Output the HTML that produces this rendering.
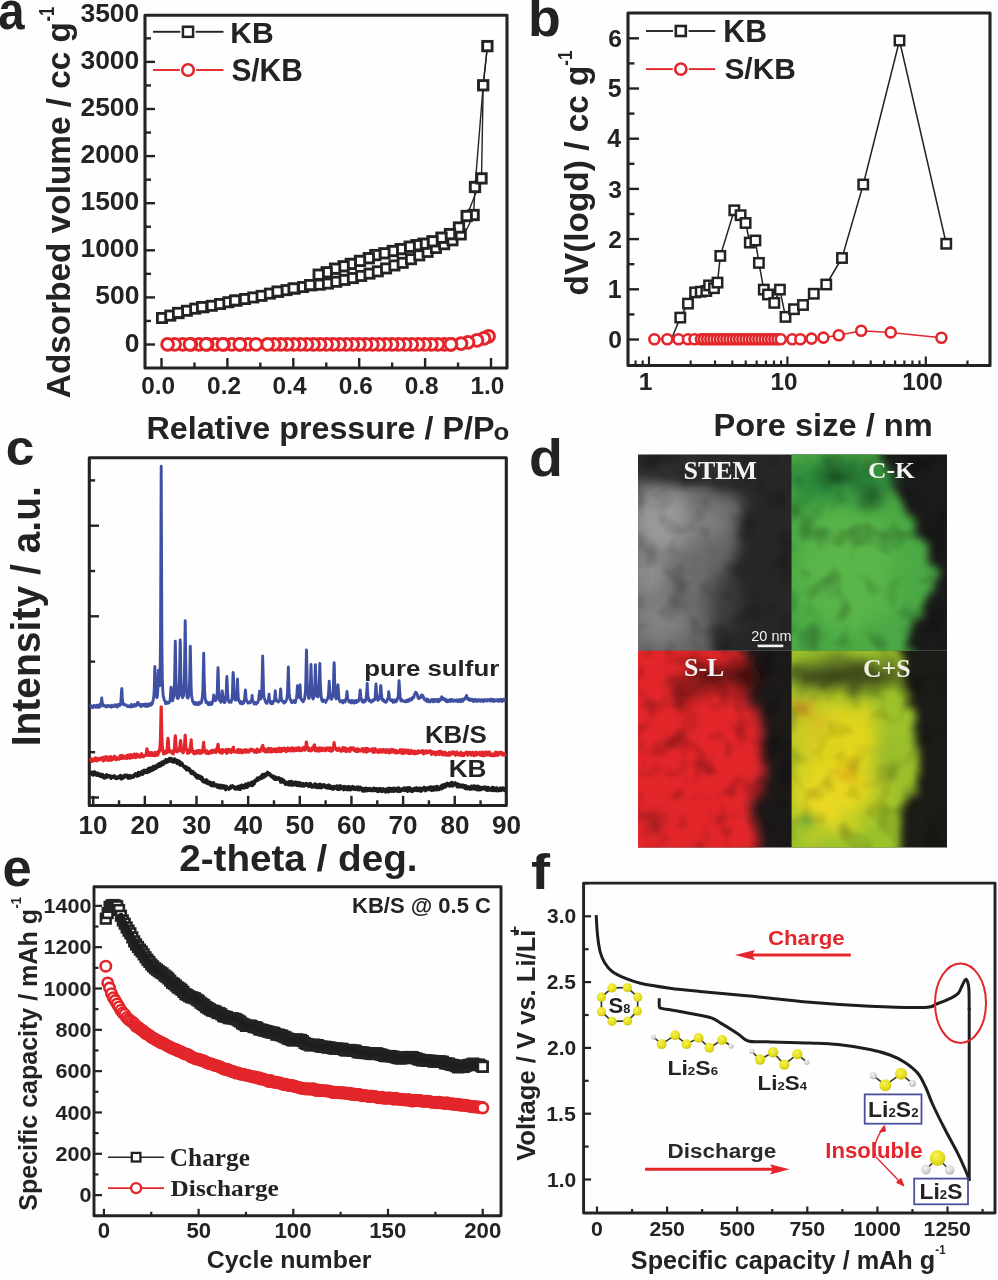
<!DOCTYPE html>
<html><head><meta charset="utf-8"><style>
html,body{margin:0;padding:0;background:#fff;}
svg{display:block;filter:blur(0.45px);}
</style></head><body>
<svg width="998" height="1280" viewBox="0 0 998 1280">
<rect width="998" height="1280" fill="#fefefe"/>
<line x1="145.00" y1="344.50" x2="155.00" y2="344.50" stroke="#232323" stroke-width="2.4" />
<line x1="145.00" y1="320.95" x2="151.00" y2="320.95" stroke="#232323" stroke-width="2.4" />
<line x1="145.00" y1="297.40" x2="155.00" y2="297.40" stroke="#232323" stroke-width="2.4" />
<line x1="145.00" y1="273.85" x2="151.00" y2="273.85" stroke="#232323" stroke-width="2.4" />
<line x1="145.00" y1="250.30" x2="155.00" y2="250.30" stroke="#232323" stroke-width="2.4" />
<line x1="145.00" y1="226.75" x2="151.00" y2="226.75" stroke="#232323" stroke-width="2.4" />
<line x1="145.00" y1="203.20" x2="155.00" y2="203.20" stroke="#232323" stroke-width="2.4" />
<line x1="145.00" y1="179.65" x2="151.00" y2="179.65" stroke="#232323" stroke-width="2.4" />
<line x1="145.00" y1="156.10" x2="155.00" y2="156.10" stroke="#232323" stroke-width="2.4" />
<line x1="145.00" y1="132.55" x2="151.00" y2="132.55" stroke="#232323" stroke-width="2.4" />
<line x1="145.00" y1="109.00" x2="155.00" y2="109.00" stroke="#232323" stroke-width="2.4" />
<line x1="145.00" y1="85.45" x2="151.00" y2="85.45" stroke="#232323" stroke-width="2.4" />
<line x1="145.00" y1="61.90" x2="155.00" y2="61.90" stroke="#232323" stroke-width="2.4" />
<line x1="145.00" y1="38.35" x2="151.00" y2="38.35" stroke="#232323" stroke-width="2.4" />
<line x1="161.50" y1="368.00" x2="161.50" y2="358.00" stroke="#232323" stroke-width="2.4" />
<line x1="194.45" y1="368.00" x2="194.45" y2="362.50" stroke="#232323" stroke-width="2.4" />
<line x1="227.40" y1="368.00" x2="227.40" y2="358.00" stroke="#232323" stroke-width="2.4" />
<line x1="260.35" y1="368.00" x2="260.35" y2="362.50" stroke="#232323" stroke-width="2.4" />
<line x1="293.30" y1="368.00" x2="293.30" y2="358.00" stroke="#232323" stroke-width="2.4" />
<line x1="326.25" y1="368.00" x2="326.25" y2="362.50" stroke="#232323" stroke-width="2.4" />
<line x1="359.20" y1="368.00" x2="359.20" y2="358.00" stroke="#232323" stroke-width="2.4" />
<line x1="392.15" y1="368.00" x2="392.15" y2="362.50" stroke="#232323" stroke-width="2.4" />
<line x1="425.10" y1="368.00" x2="425.10" y2="358.00" stroke="#232323" stroke-width="2.4" />
<line x1="458.05" y1="368.00" x2="458.05" y2="362.50" stroke="#232323" stroke-width="2.4" />
<line x1="491.00" y1="368.00" x2="491.00" y2="358.00" stroke="#232323" stroke-width="2.4" />
<rect x="145" y="15.3" width="362" height="352.7" fill="none" stroke="#232323" stroke-width="3.1" stroke-linejoin="round"/>
<text transform="translate(124.66,351.50) scale(1.0300,1)" font-size="25.71" font-family='"Liberation Sans", sans-serif' font-weight="bold" fill="#232323">0</text>
<text transform="translate(95.26,304.40) scale(1.0300,1)" font-size="25.71" font-family='"Liberation Sans", sans-serif' font-weight="bold" fill="#232323">500</text>
<text transform="translate(80.43,257.30) scale(1.0300,1)" font-size="25.71" font-family='"Liberation Sans", sans-serif' font-weight="bold" fill="#232323">1000</text>
<text transform="translate(80.43,210.20) scale(1.0300,1)" font-size="25.71" font-family='"Liberation Sans", sans-serif' font-weight="bold" fill="#232323">1500</text>
<text transform="translate(80.43,163.10) scale(1.0300,1)" font-size="25.71" font-family='"Liberation Sans", sans-serif' font-weight="bold" fill="#232323">2000</text>
<text transform="translate(80.43,116.00) scale(1.0300,1)" font-size="25.71" font-family='"Liberation Sans", sans-serif' font-weight="bold" fill="#232323">2500</text>
<text transform="translate(80.43,68.90) scale(1.0300,1)" font-size="25.71" font-family='"Liberation Sans", sans-serif' font-weight="bold" fill="#232323">3000</text>
<text transform="translate(80.43,21.80) scale(1.0300,1)" font-size="25.71" font-family='"Liberation Sans", sans-serif' font-weight="bold" fill="#232323">3500</text>
<text transform="translate(141.22,393.80) scale(1.0300,1)" font-size="23.71" font-family='"Liberation Sans", sans-serif' font-weight="bold" fill="#232323">0.0</text>
<text transform="translate(207.12,393.80) scale(1.0300,1)" font-size="23.71" font-family='"Liberation Sans", sans-serif' font-weight="bold" fill="#232323">0.2</text>
<text transform="translate(272.60,393.80) scale(1.0300,1)" font-size="23.71" font-family='"Liberation Sans", sans-serif' font-weight="bold" fill="#232323">0.4</text>
<text transform="translate(338.86,393.80) scale(1.0300,1)" font-size="23.71" font-family='"Liberation Sans", sans-serif' font-weight="bold" fill="#232323">0.6</text>
<text transform="translate(404.70,393.80) scale(1.0300,1)" font-size="23.71" font-family='"Liberation Sans", sans-serif' font-weight="bold" fill="#232323">0.8</text>
<text transform="translate(470.42,393.80) scale(1.0300,1)" font-size="23.71" font-family='"Liberation Sans", sans-serif' font-weight="bold" fill="#232323">1.0</text>
<text transform="translate(146.40,439.30) scale(1.0267,1)" font-size="31.45" font-family='"Liberation Sans", sans-serif' font-weight="bold" fill="#232323">Relative pressure / P/P</text>
<text transform="translate(493.47,439.50) scale(1.0737,1)" font-size="24.07" font-family='"Liberation Sans", sans-serif' font-weight="bold" fill="#232323">o</text>
<text transform="translate(69.70,398.13) rotate(-90) scale(0.9907,1)" font-size="33.66" font-family='"Liberation Sans", sans-serif' font-weight="bold" fill="#232323">Adsorbed volume / cc g</text>
<text transform="translate(53.80,21.46) rotate(-90) scale(0.7533,1)" font-size="21.88" font-family='"Liberation Sans", sans-serif' font-weight="bold" fill="#232323">-1</text>
<text transform="translate(-1.72,29.20) scale(0.9186,1)" font-size="51.48" font-family='"Liberation Sans", sans-serif' font-weight="bold" fill="#232323">a</text>
<line x1="153.00" y1="31.80" x2="180.30" y2="31.80" stroke="#232323" stroke-width="1.9" />
<line x1="195.70" y1="31.80" x2="223.50" y2="31.80" stroke="#232323" stroke-width="1.9" />
<rect x="183.00" y="26.80" width="10.0" height="10.0" fill="none" stroke="#232323" stroke-width="2.6"/>
<rect x="184.5" y="28.3" width="7" height="7" fill="white"/>
<text transform="translate(230.34,43.00) scale(1.0248,1)" font-size="29.42" font-family='"Liberation Sans", sans-serif' font-weight="bold" fill="#232323">KB</text>
<line x1="153.00" y1="70.00" x2="179.80" y2="70.00" stroke="#e3262b" stroke-width="1.9" />
<line x1="196.20" y1="70.00" x2="223.50" y2="70.00" stroke="#e3262b" stroke-width="1.9" />
<circle cx="188" cy="70" r="5.8" fill="white" stroke="#e3262b" stroke-width="2.6"/>
<text transform="translate(231.40,80.70) scale(0.9334,1)" font-size="32.00" font-family='"Liberation Sans", sans-serif' font-weight="bold" fill="#232323">S/KB</text>
<polyline points="162.00,318.00 169.00,316.00 186.00,311.00 195.00,308.70 209.50,306.30 228.00,302.30 243.00,299.40 261.00,296.00 270.00,293.60 285.60,290.30 300.60,287.60 310.00,285.50 324.30,284.30 333.30,282.50 340.80,280.70 350.40,278.70 359.20,276.50 366.40,274.50 373.00,272.70 382.00,270.20 390.40,266.60 398.90,264.20 407.30,261.20 415.10,257.00 422.90,254.00 431.30,250.30 440.90,245.50 450.00,242.00 459.00,236.00 466.80,229.30 473.60,215.00 475.00,187.00 483.20,85.30 487.40,46.10" fill="none" stroke="#232323" stroke-width="1.4" stroke-linejoin="round" stroke-linecap="round" />
<polyline points="487.40,46.10 483.20,85.30 481.50,178.40 466.80,216.10 459.00,227.50 450.00,234.10 441.50,237.70 432.50,241.30 423.50,243.70 416.50,245.20 409.70,246.70 400.70,249.10 392.80,251.00 384.40,253.30 375.40,255.10 368.80,258.20 360.00,260.90 350.80,263.90 343.60,266.30 335.10,268.70 326.70,272.30 318.70,274.70 310.00,285.50" fill="none" stroke="#232323" stroke-width="1.4" stroke-linejoin="round" stroke-linecap="round" />
<rect x="157.40" y="313.40" width="9.2" height="9.2" fill="white" stroke="#232323" stroke-width="2.8"/>
<rect x="165.70" y="311.02" width="9.2" height="9.2" fill="white" stroke="#232323" stroke-width="2.8"/>
<rect x="174.00" y="308.58" width="9.2" height="9.2" fill="white" stroke="#232323" stroke-width="2.8"/>
<rect x="182.30" y="306.17" width="9.2" height="9.2" fill="white" stroke="#232323" stroke-width="2.8"/>
<rect x="190.60" y="304.07" width="9.2" height="9.2" fill="white" stroke="#232323" stroke-width="2.8"/>
<rect x="198.90" y="302.69" width="9.2" height="9.2" fill="white" stroke="#232323" stroke-width="2.8"/>
<rect x="207.20" y="301.20" width="9.2" height="9.2" fill="white" stroke="#232323" stroke-width="2.8"/>
<rect x="215.50" y="299.41" width="9.2" height="9.2" fill="white" stroke="#232323" stroke-width="2.8"/>
<rect x="223.80" y="297.62" width="9.2" height="9.2" fill="white" stroke="#232323" stroke-width="2.8"/>
<rect x="232.10" y="296.02" width="9.2" height="9.2" fill="white" stroke="#232323" stroke-width="2.8"/>
<rect x="240.40" y="294.42" width="9.2" height="9.2" fill="white" stroke="#232323" stroke-width="2.8"/>
<rect x="248.70" y="292.85" width="9.2" height="9.2" fill="white" stroke="#232323" stroke-width="2.8"/>
<rect x="257.00" y="291.24" width="9.2" height="9.2" fill="white" stroke="#232323" stroke-width="2.8"/>
<rect x="265.30" y="289.03" width="9.2" height="9.2" fill="white" stroke="#232323" stroke-width="2.8"/>
<rect x="273.60" y="287.27" width="9.2" height="9.2" fill="white" stroke="#232323" stroke-width="2.8"/>
<rect x="281.90" y="285.54" width="9.2" height="9.2" fill="white" stroke="#232323" stroke-width="2.8"/>
<rect x="290.20" y="284.04" width="9.2" height="9.2" fill="white" stroke="#232323" stroke-width="2.8"/>
<rect x="298.50" y="282.44" width="9.2" height="9.2" fill="white" stroke="#232323" stroke-width="2.8"/>
<rect x="306.80" y="280.78" width="9.2" height="9.2" fill="white" stroke="#232323" stroke-width="2.8"/>
<rect x="315.10" y="280.09" width="9.2" height="9.2" fill="white" stroke="#232323" stroke-width="2.8"/>
<rect x="323.40" y="278.96" width="9.2" height="9.2" fill="white" stroke="#232323" stroke-width="2.8"/>
<rect x="331.70" y="277.18" width="9.2" height="9.2" fill="white" stroke="#232323" stroke-width="2.8"/>
<rect x="340.00" y="275.31" width="9.2" height="9.2" fill="white" stroke="#232323" stroke-width="2.8"/>
<rect x="348.30" y="273.47" width="9.2" height="9.2" fill="white" stroke="#232323" stroke-width="2.8"/>
<rect x="356.60" y="271.34" width="9.2" height="9.2" fill="white" stroke="#232323" stroke-width="2.8"/>
<rect x="364.90" y="269.05" width="9.2" height="9.2" fill="white" stroke="#232323" stroke-width="2.8"/>
<rect x="373.20" y="266.77" width="9.2" height="9.2" fill="white" stroke="#232323" stroke-width="2.8"/>
<rect x="381.50" y="263.84" width="9.2" height="9.2" fill="white" stroke="#232323" stroke-width="2.8"/>
<rect x="389.80" y="260.87" width="9.2" height="9.2" fill="white" stroke="#232323" stroke-width="2.8"/>
<rect x="398.10" y="258.24" width="9.2" height="9.2" fill="white" stroke="#232323" stroke-width="2.8"/>
<rect x="406.40" y="254.61" width="9.2" height="9.2" fill="white" stroke="#232323" stroke-width="2.8"/>
<rect x="414.70" y="250.78" width="9.2" height="9.2" fill="white" stroke="#232323" stroke-width="2.8"/>
<rect x="423.00" y="247.33" width="9.2" height="9.2" fill="white" stroke="#232323" stroke-width="2.8"/>
<rect x="431.30" y="243.40" width="9.2" height="9.2" fill="white" stroke="#232323" stroke-width="2.8"/>
<rect x="439.60" y="239.63" width="9.2" height="9.2" fill="white" stroke="#232323" stroke-width="2.8"/>
<rect x="447.90" y="235.73" width="9.2" height="9.2" fill="white" stroke="#232323" stroke-width="2.8"/>
<rect x="456.20" y="229.85" width="9.2" height="9.2" fill="white" stroke="#232323" stroke-width="2.8"/>
<rect x="468.90" y="210.30" width="9.4" height="9.4" fill="white" stroke="#232323" stroke-width="2.9"/>
<rect x="470.30" y="182.30" width="9.4" height="9.4" fill="white" stroke="#232323" stroke-width="2.9"/>
<rect x="482.70" y="41.40" width="9.4" height="9.4" fill="white" stroke="#232323" stroke-width="2.9"/>
<rect x="478.50" y="80.60" width="9.4" height="9.4" fill="white" stroke="#232323" stroke-width="2.9"/>
<rect x="476.80" y="173.70" width="9.4" height="9.4" fill="white" stroke="#232323" stroke-width="2.9"/>
<rect x="462.00" y="211.30" width="9.4" height="9.4" fill="white" stroke="#232323" stroke-width="2.9"/>
<rect x="454.30" y="222.80" width="9.4" height="9.4" fill="white" stroke="#232323" stroke-width="2.9"/>
<rect x="445.30" y="229.40" width="9.4" height="9.4" fill="white" stroke="#232323" stroke-width="2.9"/>
<rect x="436.80" y="233.00" width="9.4" height="9.4" fill="white" stroke="#232323" stroke-width="2.9"/>
<rect x="427.80" y="236.60" width="9.4" height="9.4" fill="white" stroke="#232323" stroke-width="2.9"/>
<rect x="418.80" y="239.00" width="9.4" height="9.4" fill="white" stroke="#232323" stroke-width="2.9"/>
<rect x="411.80" y="240.50" width="9.4" height="9.4" fill="white" stroke="#232323" stroke-width="2.9"/>
<rect x="405.00" y="242.00" width="9.4" height="9.4" fill="white" stroke="#232323" stroke-width="2.9"/>
<rect x="396.00" y="244.40" width="9.4" height="9.4" fill="white" stroke="#232323" stroke-width="2.9"/>
<rect x="388.10" y="246.30" width="9.4" height="9.4" fill="white" stroke="#232323" stroke-width="2.9"/>
<rect x="379.70" y="248.60" width="9.4" height="9.4" fill="white" stroke="#232323" stroke-width="2.9"/>
<rect x="370.70" y="250.40" width="9.4" height="9.4" fill="white" stroke="#232323" stroke-width="2.9"/>
<rect x="364.10" y="253.50" width="9.4" height="9.4" fill="white" stroke="#232323" stroke-width="2.9"/>
<rect x="355.30" y="256.20" width="9.4" height="9.4" fill="white" stroke="#232323" stroke-width="2.9"/>
<rect x="346.10" y="259.20" width="9.4" height="9.4" fill="white" stroke="#232323" stroke-width="2.9"/>
<rect x="338.90" y="261.60" width="9.4" height="9.4" fill="white" stroke="#232323" stroke-width="2.9"/>
<rect x="330.40" y="264.00" width="9.4" height="9.4" fill="white" stroke="#232323" stroke-width="2.9"/>
<rect x="322.00" y="267.60" width="9.4" height="9.4" fill="white" stroke="#232323" stroke-width="2.9"/>
<rect x="314.00" y="270.00" width="9.4" height="9.4" fill="white" stroke="#232323" stroke-width="2.9"/>
<rect x="305.40" y="280.40" width="9.2" height="9.2" fill="white" stroke="#232323" stroke-width="2.8"/>
<rect x="288.90" y="283.78" width="9.2" height="9.2" fill="white" stroke="#232323" stroke-width="2.8"/>
<rect x="272.80" y="286.93" width="9.2" height="9.2" fill="white" stroke="#232323" stroke-width="2.8"/>
<rect x="230.40" y="295.85" width="9.2" height="9.2" fill="white" stroke="#232323" stroke-width="2.8"/>
<rect x="197.40" y="302.44" width="9.2" height="9.2" fill="white" stroke="#232323" stroke-width="2.8"/>
<rect x="173.40" y="308.25" width="9.2" height="9.2" fill="white" stroke="#232323" stroke-width="2.8"/>
<circle cx="488.60" cy="336.30" r="5.9" fill="white" stroke="#e3262b" stroke-width="3.0"/>
<circle cx="484.00" cy="338.30" r="5.9" fill="white" stroke="#e3262b" stroke-width="3.0"/>
<circle cx="477.00" cy="340.30" r="5.9" fill="white" stroke="#e3262b" stroke-width="3.0"/>
<circle cx="468.00" cy="342.30" r="5.9" fill="white" stroke="#e3262b" stroke-width="3.0"/>
<circle cx="461.00" cy="343.60" r="5.9" fill="white" stroke="#e3262b" stroke-width="3.0"/>
<circle cx="451.00" cy="344.30" r="5.9" fill="white" stroke="#e3262b" stroke-width="3.0"/>
<circle cx="444.45" cy="344.30" r="5.9" fill="white" stroke="#e3262b" stroke-width="3.0"/>
<circle cx="437.90" cy="344.30" r="5.9" fill="white" stroke="#e3262b" stroke-width="3.0"/>
<circle cx="431.35" cy="344.30" r="5.9" fill="white" stroke="#e3262b" stroke-width="3.0"/>
<circle cx="424.80" cy="344.30" r="5.9" fill="white" stroke="#e3262b" stroke-width="3.0"/>
<circle cx="418.25" cy="344.30" r="5.9" fill="white" stroke="#e3262b" stroke-width="3.0"/>
<circle cx="411.70" cy="344.30" r="5.9" fill="white" stroke="#e3262b" stroke-width="3.0"/>
<circle cx="405.15" cy="344.30" r="5.9" fill="white" stroke="#e3262b" stroke-width="3.0"/>
<circle cx="398.60" cy="344.30" r="5.9" fill="white" stroke="#e3262b" stroke-width="3.0"/>
<circle cx="392.05" cy="344.30" r="5.9" fill="white" stroke="#e3262b" stroke-width="3.0"/>
<circle cx="385.50" cy="344.30" r="5.9" fill="white" stroke="#e3262b" stroke-width="3.0"/>
<circle cx="378.95" cy="344.30" r="5.9" fill="white" stroke="#e3262b" stroke-width="3.0"/>
<circle cx="372.40" cy="344.30" r="5.9" fill="white" stroke="#e3262b" stroke-width="3.0"/>
<circle cx="365.85" cy="344.30" r="5.9" fill="white" stroke="#e3262b" stroke-width="3.0"/>
<circle cx="359.30" cy="344.30" r="5.9" fill="white" stroke="#e3262b" stroke-width="3.0"/>
<circle cx="352.75" cy="344.30" r="5.9" fill="white" stroke="#e3262b" stroke-width="3.0"/>
<circle cx="346.20" cy="344.30" r="5.9" fill="white" stroke="#e3262b" stroke-width="3.0"/>
<circle cx="339.65" cy="344.30" r="5.9" fill="white" stroke="#e3262b" stroke-width="3.0"/>
<circle cx="333.10" cy="344.30" r="5.9" fill="white" stroke="#e3262b" stroke-width="3.0"/>
<circle cx="326.55" cy="344.30" r="5.9" fill="white" stroke="#e3262b" stroke-width="3.0"/>
<circle cx="320.00" cy="344.30" r="5.9" fill="white" stroke="#e3262b" stroke-width="3.0"/>
<circle cx="313.45" cy="344.30" r="5.9" fill="white" stroke="#e3262b" stroke-width="3.0"/>
<circle cx="306.90" cy="344.30" r="5.9" fill="white" stroke="#e3262b" stroke-width="3.0"/>
<circle cx="300.35" cy="344.30" r="5.9" fill="white" stroke="#e3262b" stroke-width="3.0"/>
<circle cx="293.80" cy="344.30" r="5.9" fill="white" stroke="#e3262b" stroke-width="3.0"/>
<circle cx="287.25" cy="344.30" r="5.9" fill="white" stroke="#e3262b" stroke-width="3.0"/>
<circle cx="280.70" cy="344.30" r="5.9" fill="white" stroke="#e3262b" stroke-width="3.0"/>
<circle cx="274.15" cy="344.30" r="5.9" fill="white" stroke="#e3262b" stroke-width="3.0"/>
<circle cx="267.60" cy="344.30" r="5.9" fill="white" stroke="#e3262b" stroke-width="3.0"/>
<circle cx="248.00" cy="344.30" r="5.9" fill="white" stroke="#e3262b" stroke-width="3.0"/>
<circle cx="239.85" cy="344.30" r="5.9" fill="white" stroke="#e3262b" stroke-width="3.0"/>
<circle cx="231.70" cy="344.30" r="5.9" fill="white" stroke="#e3262b" stroke-width="3.0"/>
<circle cx="223.55" cy="344.30" r="5.9" fill="white" stroke="#e3262b" stroke-width="3.0"/>
<circle cx="215.40" cy="344.30" r="5.9" fill="white" stroke="#e3262b" stroke-width="3.0"/>
<circle cx="207.25" cy="344.30" r="5.9" fill="white" stroke="#e3262b" stroke-width="3.0"/>
<circle cx="199.10" cy="344.30" r="5.9" fill="white" stroke="#e3262b" stroke-width="3.0"/>
<circle cx="190.95" cy="344.30" r="5.9" fill="white" stroke="#e3262b" stroke-width="3.0"/>
<circle cx="182.80" cy="344.30" r="5.9" fill="white" stroke="#e3262b" stroke-width="3.0"/>
<circle cx="174.65" cy="344.30" r="5.9" fill="white" stroke="#e3262b" stroke-width="3.0"/>
<circle cx="167.60" cy="344.30" r="5.9" fill="white" stroke="#e3262b" stroke-width="3.0"/>
<circle cx="189.90" cy="344.30" r="5.9" fill="white" stroke="#e3262b" stroke-width="3.0"/>
<circle cx="206.10" cy="344.30" r="5.9" fill="white" stroke="#e3262b" stroke-width="3.0"/>
<circle cx="222.90" cy="344.30" r="5.9" fill="white" stroke="#e3262b" stroke-width="3.0"/>
<circle cx="239.80" cy="344.30" r="5.9" fill="white" stroke="#e3262b" stroke-width="3.0"/>
<circle cx="256.00" cy="344.30" r="5.9" fill="white" stroke="#e3262b" stroke-width="3.0"/>
<circle cx="450.80" cy="344.30" r="5.9" fill="white" stroke="#e3262b" stroke-width="3.0"/>
<line x1="628.00" y1="339.50" x2="639.00" y2="339.50" stroke="#232323" stroke-width="2.4" />
<line x1="628.00" y1="314.40" x2="634.40" y2="314.40" stroke="#232323" stroke-width="2.4" />
<line x1="628.00" y1="289.30" x2="639.00" y2="289.30" stroke="#232323" stroke-width="2.4" />
<line x1="628.00" y1="264.20" x2="634.40" y2="264.20" stroke="#232323" stroke-width="2.4" />
<line x1="628.00" y1="239.10" x2="639.00" y2="239.10" stroke="#232323" stroke-width="2.4" />
<line x1="628.00" y1="214.00" x2="634.40" y2="214.00" stroke="#232323" stroke-width="2.4" />
<line x1="628.00" y1="188.90" x2="639.00" y2="188.90" stroke="#232323" stroke-width="2.4" />
<line x1="628.00" y1="163.80" x2="634.40" y2="163.80" stroke="#232323" stroke-width="2.4" />
<line x1="628.00" y1="138.70" x2="639.00" y2="138.70" stroke="#232323" stroke-width="2.4" />
<line x1="628.00" y1="113.60" x2="634.40" y2="113.60" stroke="#232323" stroke-width="2.4" />
<line x1="628.00" y1="88.50" x2="639.00" y2="88.50" stroke="#232323" stroke-width="2.4" />
<line x1="628.00" y1="63.40" x2="634.40" y2="63.40" stroke="#232323" stroke-width="2.4" />
<line x1="628.00" y1="38.30" x2="639.00" y2="38.30" stroke="#232323" stroke-width="2.4" />
<line x1="635.59" y1="365.50" x2="635.59" y2="360.50" stroke="#232323" stroke-width="2.2" />
<line x1="642.67" y1="365.50" x2="642.67" y2="360.50" stroke="#232323" stroke-width="2.2" />
<line x1="649.00" y1="365.50" x2="649.00" y2="356.50" stroke="#232323" stroke-width="2.2" />
<line x1="690.66" y1="365.50" x2="690.66" y2="360.50" stroke="#232323" stroke-width="2.2" />
<line x1="715.03" y1="365.50" x2="715.03" y2="360.50" stroke="#232323" stroke-width="2.2" />
<line x1="732.33" y1="365.50" x2="732.33" y2="360.50" stroke="#232323" stroke-width="2.2" />
<line x1="745.74" y1="365.50" x2="745.74" y2="360.50" stroke="#232323" stroke-width="2.2" />
<line x1="756.70" y1="365.50" x2="756.70" y2="360.50" stroke="#232323" stroke-width="2.2" />
<line x1="765.96" y1="365.50" x2="765.96" y2="360.50" stroke="#232323" stroke-width="2.2" />
<line x1="773.99" y1="365.50" x2="773.99" y2="360.50" stroke="#232323" stroke-width="2.2" />
<line x1="781.07" y1="365.50" x2="781.07" y2="360.50" stroke="#232323" stroke-width="2.2" />
<line x1="787.40" y1="365.50" x2="787.40" y2="356.50" stroke="#232323" stroke-width="2.2" />
<line x1="829.06" y1="365.50" x2="829.06" y2="360.50" stroke="#232323" stroke-width="2.2" />
<line x1="853.43" y1="365.50" x2="853.43" y2="360.50" stroke="#232323" stroke-width="2.2" />
<line x1="870.73" y1="365.50" x2="870.73" y2="360.50" stroke="#232323" stroke-width="2.2" />
<line x1="884.14" y1="365.50" x2="884.14" y2="360.50" stroke="#232323" stroke-width="2.2" />
<line x1="895.10" y1="365.50" x2="895.10" y2="360.50" stroke="#232323" stroke-width="2.2" />
<line x1="904.36" y1="365.50" x2="904.36" y2="360.50" stroke="#232323" stroke-width="2.2" />
<line x1="912.39" y1="365.50" x2="912.39" y2="360.50" stroke="#232323" stroke-width="2.2" />
<line x1="919.47" y1="365.50" x2="919.47" y2="360.50" stroke="#232323" stroke-width="2.2" />
<line x1="925.80" y1="365.50" x2="925.80" y2="356.50" stroke="#232323" stroke-width="2.2" />
<line x1="967.46" y1="365.50" x2="967.46" y2="360.50" stroke="#232323" stroke-width="2.2" />
<rect x="628" y="13" width="362" height="352.5" fill="none" stroke="#232323" stroke-width="3.1" stroke-linejoin="round"/>
<text transform="translate(608.35,348.10) scale(1.0000,1)" font-size="24.57" font-family='"Liberation Sans", sans-serif' font-weight="bold" fill="#232323">0</text>
<text transform="translate(607.79,297.90) scale(1.0000,1)" font-size="24.93" font-family='"Liberation Sans", sans-serif' font-weight="bold" fill="#232323">1</text>
<text transform="translate(608.35,247.70) scale(1.0000,1)" font-size="24.57" font-family='"Liberation Sans", sans-serif' font-weight="bold" fill="#232323">2</text>
<text transform="translate(608.22,197.50) scale(1.0000,1)" font-size="24.57" font-family='"Liberation Sans", sans-serif' font-weight="bold" fill="#232323">3</text>
<text transform="translate(607.29,147.30) scale(1.0000,1)" font-size="24.93" font-family='"Liberation Sans", sans-serif' font-weight="bold" fill="#232323">4</text>
<text transform="translate(607.79,97.10) scale(1.0000,1)" font-size="24.93" font-family='"Liberation Sans", sans-serif' font-weight="bold" fill="#232323">5</text>
<text transform="translate(608.22,46.90) scale(1.0000,1)" font-size="24.57" font-family='"Liberation Sans", sans-serif' font-weight="bold" fill="#232323">6</text>
<text transform="translate(638.67,389.80) scale(1.0000,1)" font-size="24.64" font-family='"Liberation Sans", sans-serif' font-weight="bold" fill="#232323">1</text>
<text transform="translate(770.62,389.80) scale(1.0000,1)" font-size="24.29" font-family='"Liberation Sans", sans-serif' font-weight="bold" fill="#232323">10</text>
<text transform="translate(902.28,389.80) scale(1.0000,1)" font-size="24.29" font-family='"Liberation Sans", sans-serif' font-weight="bold" fill="#232323">100</text>
<text transform="translate(713.48,435.60) scale(1.0551,1)" font-size="30.90" font-family='"Liberation Sans", sans-serif' font-weight="bold" fill="#232323">Pore size / nm</text>
<text transform="translate(587.50,295.44) rotate(-90) scale(1.0001,1)" font-size="33.38" font-family='"Liberation Sans", sans-serif' font-weight="bold" fill="#232323">dV(logd) / cc g</text>
<text transform="translate(571.50,65.68) rotate(-90) scale(0.8075,1)" font-size="21.01" font-family='"Liberation Sans", sans-serif' font-weight="bold" fill="#232323">-1</text>
<text transform="translate(527.91,36.20) scale(1.0027,1)" font-size="53.52" font-family='"Liberation Sans", sans-serif' font-weight="bold" fill="#232323">b</text>
<line x1="646.00" y1="31.00" x2="673.00" y2="31.00" stroke="#232323" stroke-width="1.9" />
<line x1="688.60" y1="31.00" x2="715.30" y2="31.00" stroke="#232323" stroke-width="1.9" />
<rect x="675.80" y="26.00" width="10.0" height="10.0" fill="white" stroke="#232323" stroke-width="2.6"/>
<text transform="translate(723.34,41.50) scale(0.9931,1)" font-size="30.43" font-family='"Liberation Sans", sans-serif' font-weight="bold" fill="#232323">KB</text>
<line x1="646.00" y1="69.10" x2="672.80" y2="69.10" stroke="#e3262b" stroke-width="1.9" />
<line x1="688.80" y1="69.10" x2="715.30" y2="69.10" stroke="#e3262b" stroke-width="1.9" />
<circle cx="680.80" cy="69.10" r="5.6" fill="white" stroke="#e3262b" stroke-width="2.6"/>
<text transform="translate(724.40,79.00) scale(0.9872,1)" font-size="30.34" font-family='"Liberation Sans", sans-serif' font-weight="bold" fill="#232323">S/KB</text>
<polyline points="672.50,336.50 680.30,317.60 688.00,303.60 695.10,292.40 700.70,291.70 706.30,291.00 709.10,285.40 714.00,288.20 717.50,282.60 720.30,255.90 734.30,210.30 740.60,215.20 745.60,223.00 749.80,242.60 755.40,240.50 758.90,262.90 763.80,289.60 768.00,294.50 774.30,302.90 779.90,289.60 785.50,316.90 794.00,309.20 803.00,305.00 813.75,293.75 826.25,284.50 842.00,258.00 863.25,184.50 899.50,40.50 946.25,243.75" fill="none" stroke="#232323" stroke-width="1.5" stroke-linejoin="round" stroke-linecap="round" />
<rect x="675.60" y="312.90" width="9.4" height="9.4" fill="white" stroke="#232323" stroke-width="2.5"/>
<rect x="683.30" y="298.90" width="9.4" height="9.4" fill="white" stroke="#232323" stroke-width="2.5"/>
<rect x="690.40" y="287.70" width="9.4" height="9.4" fill="white" stroke="#232323" stroke-width="2.5"/>
<rect x="696.00" y="287.00" width="9.4" height="9.4" fill="white" stroke="#232323" stroke-width="2.5"/>
<rect x="701.60" y="286.30" width="9.4" height="9.4" fill="white" stroke="#232323" stroke-width="2.5"/>
<rect x="704.40" y="280.70" width="9.4" height="9.4" fill="white" stroke="#232323" stroke-width="2.5"/>
<rect x="709.30" y="283.50" width="9.4" height="9.4" fill="white" stroke="#232323" stroke-width="2.5"/>
<rect x="712.80" y="277.90" width="9.4" height="9.4" fill="white" stroke="#232323" stroke-width="2.5"/>
<rect x="715.60" y="251.20" width="9.4" height="9.4" fill="white" stroke="#232323" stroke-width="2.5"/>
<rect x="729.60" y="205.60" width="9.4" height="9.4" fill="white" stroke="#232323" stroke-width="2.5"/>
<rect x="735.90" y="210.50" width="9.4" height="9.4" fill="white" stroke="#232323" stroke-width="2.5"/>
<rect x="740.90" y="218.30" width="9.4" height="9.4" fill="white" stroke="#232323" stroke-width="2.5"/>
<rect x="745.10" y="237.90" width="9.4" height="9.4" fill="white" stroke="#232323" stroke-width="2.5"/>
<rect x="750.70" y="235.80" width="9.4" height="9.4" fill="white" stroke="#232323" stroke-width="2.5"/>
<rect x="754.20" y="258.20" width="9.4" height="9.4" fill="white" stroke="#232323" stroke-width="2.5"/>
<rect x="759.10" y="284.90" width="9.4" height="9.4" fill="white" stroke="#232323" stroke-width="2.5"/>
<rect x="763.30" y="289.80" width="9.4" height="9.4" fill="white" stroke="#232323" stroke-width="2.5"/>
<rect x="769.60" y="298.20" width="9.4" height="9.4" fill="white" stroke="#232323" stroke-width="2.5"/>
<rect x="775.20" y="284.90" width="9.4" height="9.4" fill="white" stroke="#232323" stroke-width="2.5"/>
<rect x="780.80" y="312.20" width="9.4" height="9.4" fill="white" stroke="#232323" stroke-width="2.5"/>
<rect x="789.30" y="304.50" width="9.4" height="9.4" fill="white" stroke="#232323" stroke-width="2.5"/>
<rect x="798.30" y="300.30" width="9.4" height="9.4" fill="white" stroke="#232323" stroke-width="2.5"/>
<rect x="809.05" y="289.05" width="9.4" height="9.4" fill="white" stroke="#232323" stroke-width="2.5"/>
<rect x="821.55" y="279.80" width="9.4" height="9.4" fill="white" stroke="#232323" stroke-width="2.5"/>
<rect x="837.30" y="253.30" width="9.4" height="9.4" fill="white" stroke="#232323" stroke-width="2.5"/>
<rect x="858.55" y="179.80" width="9.4" height="9.4" fill="white" stroke="#232323" stroke-width="2.5"/>
<rect x="894.80" y="35.80" width="9.4" height="9.4" fill="white" stroke="#232323" stroke-width="2.5"/>
<rect x="941.55" y="239.05" width="9.4" height="9.4" fill="white" stroke="#232323" stroke-width="2.5"/>
<polyline points="654.40,339.20 667.30,339.20 678.50,339.20 688.00,339.20 694.50,339.20 701.00,339.20 704.00,339.20 707.20,339.20 710.40,339.20 713.60,339.20 716.80,339.20 720.00,339.20 723.20,339.20 726.40,339.20 729.60,339.20 732.80,339.20 736.00,339.20 739.20,339.20 742.40,339.20 745.60,339.20 748.80,339.20 752.00,339.20 755.20,339.20 758.40,339.20 761.60,339.20 764.80,339.20 768.00,339.20 771.20,339.20 774.40,339.20 777.60,339.20 780.80,339.20 792.30,339.20 800.30,339.20 811.50,338.60 823.40,337.60 838.80,335.20 861.20,330.80 890.70,332.40 941.40,337.80" fill="none" stroke="#e3262b" stroke-width="1.5" stroke-linejoin="round" stroke-linecap="round" />
<circle cx="654.40" cy="339.20" r="5.0" fill="white" stroke="#e3262b" stroke-width="2.6"/>
<circle cx="667.30" cy="339.20" r="5.0" fill="white" stroke="#e3262b" stroke-width="2.6"/>
<circle cx="678.50" cy="339.20" r="5.0" fill="white" stroke="#e3262b" stroke-width="2.6"/>
<circle cx="688.00" cy="339.20" r="5.0" fill="white" stroke="#e3262b" stroke-width="2.6"/>
<circle cx="694.50" cy="339.20" r="5.0" fill="white" stroke="#e3262b" stroke-width="2.6"/>
<circle cx="701.00" cy="339.20" r="5.0" fill="white" stroke="#e3262b" stroke-width="2.6"/>
<circle cx="704.00" cy="339.20" r="5.0" fill="white" stroke="#e3262b" stroke-width="2.6"/>
<circle cx="707.20" cy="339.20" r="5.0" fill="white" stroke="#e3262b" stroke-width="2.6"/>
<circle cx="710.40" cy="339.20" r="5.0" fill="white" stroke="#e3262b" stroke-width="2.6"/>
<circle cx="713.60" cy="339.20" r="5.0" fill="white" stroke="#e3262b" stroke-width="2.6"/>
<circle cx="716.80" cy="339.20" r="5.0" fill="white" stroke="#e3262b" stroke-width="2.6"/>
<circle cx="720.00" cy="339.20" r="5.0" fill="white" stroke="#e3262b" stroke-width="2.6"/>
<circle cx="723.20" cy="339.20" r="5.0" fill="white" stroke="#e3262b" stroke-width="2.6"/>
<circle cx="726.40" cy="339.20" r="5.0" fill="white" stroke="#e3262b" stroke-width="2.6"/>
<circle cx="729.60" cy="339.20" r="5.0" fill="white" stroke="#e3262b" stroke-width="2.6"/>
<circle cx="732.80" cy="339.20" r="5.0" fill="white" stroke="#e3262b" stroke-width="2.6"/>
<circle cx="736.00" cy="339.20" r="5.0" fill="white" stroke="#e3262b" stroke-width="2.6"/>
<circle cx="739.20" cy="339.20" r="5.0" fill="white" stroke="#e3262b" stroke-width="2.6"/>
<circle cx="742.40" cy="339.20" r="5.0" fill="white" stroke="#e3262b" stroke-width="2.6"/>
<circle cx="745.60" cy="339.20" r="5.0" fill="white" stroke="#e3262b" stroke-width="2.6"/>
<circle cx="748.80" cy="339.20" r="5.0" fill="white" stroke="#e3262b" stroke-width="2.6"/>
<circle cx="752.00" cy="339.20" r="5.0" fill="white" stroke="#e3262b" stroke-width="2.6"/>
<circle cx="755.20" cy="339.20" r="5.0" fill="white" stroke="#e3262b" stroke-width="2.6"/>
<circle cx="758.40" cy="339.20" r="5.0" fill="white" stroke="#e3262b" stroke-width="2.6"/>
<circle cx="761.60" cy="339.20" r="5.0" fill="white" stroke="#e3262b" stroke-width="2.6"/>
<circle cx="764.80" cy="339.20" r="5.0" fill="white" stroke="#e3262b" stroke-width="2.6"/>
<circle cx="768.00" cy="339.20" r="5.0" fill="white" stroke="#e3262b" stroke-width="2.6"/>
<circle cx="771.20" cy="339.20" r="5.0" fill="white" stroke="#e3262b" stroke-width="2.6"/>
<circle cx="774.40" cy="339.20" r="5.0" fill="white" stroke="#e3262b" stroke-width="2.6"/>
<circle cx="777.60" cy="339.20" r="5.0" fill="white" stroke="#e3262b" stroke-width="2.6"/>
<circle cx="780.80" cy="339.20" r="5.0" fill="white" stroke="#e3262b" stroke-width="2.6"/>
<circle cx="792.30" cy="339.20" r="5.0" fill="white" stroke="#e3262b" stroke-width="2.6"/>
<circle cx="800.30" cy="339.20" r="5.0" fill="white" stroke="#e3262b" stroke-width="2.6"/>
<circle cx="811.50" cy="338.60" r="5.0" fill="white" stroke="#e3262b" stroke-width="2.6"/>
<circle cx="823.40" cy="337.60" r="5.0" fill="white" stroke="#e3262b" stroke-width="2.6"/>
<circle cx="838.80" cy="335.20" r="5.0" fill="white" stroke="#e3262b" stroke-width="2.6"/>
<circle cx="861.20" cy="330.80" r="5.0" fill="white" stroke="#e3262b" stroke-width="2.6"/>
<circle cx="890.70" cy="332.40" r="5.0" fill="white" stroke="#e3262b" stroke-width="2.6"/>
<circle cx="941.40" cy="337.80" r="5.0" fill="white" stroke="#e3262b" stroke-width="2.6"/>
<line x1="89.30" y1="480.40" x2="95.10" y2="480.40" stroke="#232323" stroke-width="2.4" />
<line x1="89.30" y1="525.70" x2="99.00" y2="525.70" stroke="#232323" stroke-width="2.4" />
<line x1="89.30" y1="571.00" x2="95.10" y2="571.00" stroke="#232323" stroke-width="2.4" />
<line x1="89.30" y1="616.30" x2="99.00" y2="616.30" stroke="#232323" stroke-width="2.4" />
<line x1="89.30" y1="661.60" x2="95.10" y2="661.60" stroke="#232323" stroke-width="2.4" />
<line x1="89.30" y1="706.90" x2="99.00" y2="706.90" stroke="#232323" stroke-width="2.4" />
<line x1="89.30" y1="752.20" x2="95.10" y2="752.20" stroke="#232323" stroke-width="2.4" />
<line x1="89.30" y1="797.50" x2="99.00" y2="797.50" stroke="#232323" stroke-width="2.4" />
<line x1="93.20" y1="805.50" x2="93.20" y2="795.80" stroke="#232323" stroke-width="2.4" />
<line x1="119.03" y1="805.50" x2="119.03" y2="800.30" stroke="#232323" stroke-width="2.4" />
<line x1="144.85" y1="805.50" x2="144.85" y2="795.80" stroke="#232323" stroke-width="2.4" />
<line x1="170.68" y1="805.50" x2="170.68" y2="800.30" stroke="#232323" stroke-width="2.4" />
<line x1="196.50" y1="805.50" x2="196.50" y2="795.80" stroke="#232323" stroke-width="2.4" />
<line x1="222.32" y1="805.50" x2="222.32" y2="800.30" stroke="#232323" stroke-width="2.4" />
<line x1="248.15" y1="805.50" x2="248.15" y2="795.80" stroke="#232323" stroke-width="2.4" />
<line x1="273.98" y1="805.50" x2="273.98" y2="800.30" stroke="#232323" stroke-width="2.4" />
<line x1="299.80" y1="805.50" x2="299.80" y2="795.80" stroke="#232323" stroke-width="2.4" />
<line x1="325.62" y1="805.50" x2="325.62" y2="800.30" stroke="#232323" stroke-width="2.4" />
<line x1="351.45" y1="805.50" x2="351.45" y2="795.80" stroke="#232323" stroke-width="2.4" />
<line x1="377.27" y1="805.50" x2="377.27" y2="800.30" stroke="#232323" stroke-width="2.4" />
<line x1="403.10" y1="805.50" x2="403.10" y2="795.80" stroke="#232323" stroke-width="2.4" />
<line x1="428.93" y1="805.50" x2="428.93" y2="800.30" stroke="#232323" stroke-width="2.4" />
<line x1="454.75" y1="805.50" x2="454.75" y2="795.80" stroke="#232323" stroke-width="2.4" />
<line x1="480.57" y1="805.50" x2="480.57" y2="800.30" stroke="#232323" stroke-width="2.4" />
<rect x="89.3" y="457.8" width="417.0" height="347.7" fill="none" stroke="#232323" stroke-width="3.1" stroke-linejoin="round"/>
<text transform="translate(78.39,834.30) scale(1.0500,1)" font-size="24.86" font-family='"Liberation Sans", sans-serif' font-weight="bold" fill="#232323">10</text>
<text transform="translate(130.43,834.30) scale(1.0500,1)" font-size="24.86" font-family='"Liberation Sans", sans-serif' font-weight="bold" fill="#232323">20</text>
<text transform="translate(182.21,834.30) scale(1.0500,1)" font-size="24.86" font-family='"Liberation Sans", sans-serif' font-weight="bold" fill="#232323">30</text>
<text transform="translate(233.99,834.30) scale(1.0500,1)" font-size="24.86" font-family='"Liberation Sans", sans-serif' font-weight="bold" fill="#232323">40</text>
<text transform="translate(285.44,834.30) scale(1.0500,1)" font-size="24.86" font-family='"Liberation Sans", sans-serif' font-weight="bold" fill="#232323">50</text>
<text transform="translate(337.03,834.30) scale(1.0500,1)" font-size="24.86" font-family='"Liberation Sans", sans-serif' font-weight="bold" fill="#232323">60</text>
<text transform="translate(388.55,834.30) scale(1.0500,1)" font-size="24.86" font-family='"Liberation Sans", sans-serif' font-weight="bold" fill="#232323">70</text>
<text transform="translate(440.39,834.30) scale(1.0500,1)" font-size="24.86" font-family='"Liberation Sans", sans-serif' font-weight="bold" fill="#232323">80</text>
<text transform="translate(491.98,834.30) scale(1.0500,1)" font-size="24.86" font-family='"Liberation Sans", sans-serif' font-weight="bold" fill="#232323">90</text>
<text transform="translate(179.15,871.20) scale(1.0231,1)" font-size="37.79" font-family='"Liberation Sans", sans-serif' font-weight="bold" fill="#232323">2-theta / deg.</text>
<text transform="translate(40.20,746.34) rotate(-90) scale(0.9789,1)" font-size="39.86" font-family='"Liberation Sans", sans-serif' font-weight="bold" fill="#232323">Intensity / a.u.</text>
<text transform="translate(5.74,465.20) scale(1.0159,1)" font-size="50.74" font-family='"Liberation Sans", sans-serif' font-weight="bold" fill="#232323">c</text>
<polyline points="90.80,773.03 91.25,773.75 91.70,772.30 92.15,773.26 92.60,774.85 93.05,774.99 93.50,772.19 93.95,772.63 94.40,772.17 94.85,773.78 95.30,772.35 95.75,774.10 96.20,774.96 96.65,773.69 97.10,775.33 97.55,775.13 98.00,773.11 98.45,775.27 98.90,774.27 99.35,774.99 99.80,774.62 100.25,776.27 100.70,775.37 101.15,774.35 101.60,775.89 102.05,776.84 102.50,775.11 102.95,774.85 103.40,775.54 103.85,777.68 104.30,777.90 104.75,776.80 105.20,777.74 105.65,777.58 106.10,775.87 106.55,774.84 107.00,777.04 107.45,776.74 107.90,776.05 108.35,775.59 108.80,776.34 109.25,776.64 109.70,775.95 110.15,776.09 110.60,776.78 111.05,778.38 111.50,777.40 111.95,776.31 112.40,776.35 112.85,777.08 113.30,776.19 113.75,776.24 114.20,777.49 114.65,775.93 115.10,777.50 115.55,777.06 116.00,778.34 116.45,778.46 116.90,778.21 117.35,778.17 117.80,776.94 118.25,778.02 118.70,776.74 119.15,777.59 119.60,776.62 120.05,777.04 120.50,775.55 120.95,776.20 121.40,778.94 121.85,776.09 122.30,777.81 122.75,777.62 123.20,777.86 123.65,776.88 124.10,777.31 124.55,775.27 125.00,775.25 125.45,775.70 125.90,775.49 126.35,775.26 126.80,775.33 127.25,776.91 127.70,775.49 128.15,778.36 128.60,777.30 129.05,776.73 129.50,777.32 129.95,775.61 130.40,778.00 130.85,777.54 131.30,776.98 131.75,775.91 132.20,777.16 132.65,776.66 133.10,776.21 133.55,777.04 134.00,775.84 134.45,774.69 134.90,775.27 135.35,773.79 135.80,773.64 136.25,775.53 136.70,775.63 137.15,776.21 137.60,775.62 138.05,774.32 138.50,772.46 138.95,773.85 139.40,775.38 139.85,774.72 140.30,773.44 140.75,773.19 141.20,772.16 141.65,771.88 142.10,771.34 142.55,774.26 143.00,773.11 143.45,771.03 143.90,771.87 144.35,770.29 144.80,770.71 145.25,772.50 145.70,772.01 146.15,771.16 146.60,770.20 147.05,771.44 147.50,772.41 147.95,770.24 148.40,768.66 148.85,768.42 149.30,768.33 149.75,771.47 150.20,769.69 150.65,770.62 151.10,767.90 151.55,768.05 152.00,769.50 152.45,770.08 152.90,767.78 153.35,766.54 153.80,769.39 154.25,767.02 154.70,768.54 155.15,766.11 155.60,767.88 156.05,768.17 156.50,767.46 156.95,765.79 157.40,766.92 157.85,764.42 158.30,764.81 158.75,764.94 159.20,766.41 159.65,763.39 160.10,765.88 160.55,765.31 161.00,765.69 161.45,763.13 161.90,762.24 162.35,762.10 162.80,764.07 163.25,764.32 163.70,763.04 164.15,761.94 164.60,760.93 165.05,762.75 165.50,762.75 165.95,759.63 166.40,759.95 166.85,762.14 167.30,762.06 167.75,759.88 168.20,759.59 168.65,760.02 169.10,760.28 169.55,758.45 170.00,761.11 170.45,759.82 170.90,760.58 171.35,758.60 171.80,761.55 172.25,760.90 172.70,759.51 173.15,761.97 173.60,761.19 174.05,761.88 174.50,759.02 174.95,759.22 175.40,761.99 175.85,760.49 176.30,761.46 176.75,760.25 177.20,763.53 177.65,761.89 178.10,763.33 178.55,760.81 179.00,762.70 179.45,761.46 179.90,764.94 180.35,763.62 180.80,762.54 181.25,762.92 181.70,765.03 182.15,763.61 182.60,764.38 183.05,765.69 183.50,766.27 183.95,766.94 184.40,767.44 184.85,766.84 185.30,768.13 185.75,766.73 186.20,767.52 186.65,769.86 187.10,767.75 187.55,768.35 188.00,768.75 188.45,769.98 188.90,768.48 189.35,768.92 189.80,770.89 190.25,770.08 190.70,772.37 191.15,773.14 191.60,772.64 192.05,773.41 192.50,772.59 192.95,771.60 193.40,773.42 193.85,773.50 194.30,774.68 194.75,773.25 195.20,773.93 195.65,776.49 196.10,774.72 196.55,775.60 197.00,777.93 197.45,775.75 197.90,775.58 198.35,777.96 198.80,777.69 199.25,778.10 199.70,776.18 200.15,777.85 200.60,776.52 201.05,777.69 201.50,779.68 201.95,777.47 202.40,778.60 202.85,781.48 203.30,781.66 203.75,780.05 204.20,781.25 204.65,781.11 205.10,780.72 205.55,782.45 206.00,780.09 206.45,782.83 206.90,780.08 207.35,783.46 207.80,782.98 208.25,782.35 208.70,783.45 209.15,782.89 209.60,784.35 210.05,782.05 210.50,783.68 210.95,785.19 211.40,785.53 211.85,782.97 212.30,783.23 212.75,785.83 213.20,783.84 213.65,782.88 214.10,785.51 214.55,784.50 215.00,785.85 215.45,785.00 215.90,785.22 216.35,785.03 216.80,784.68 217.25,787.13 217.70,786.38 218.15,786.97 218.60,787.50 219.05,785.18 219.50,787.86 219.95,787.77 220.40,786.54 220.85,786.91 221.30,785.32 221.75,787.91 222.20,785.80 222.65,787.30 223.10,785.89 223.55,785.81 224.00,787.98 224.45,787.66 224.90,788.46 225.35,788.89 225.80,789.61 226.25,786.19 226.70,788.26 227.15,788.05 227.60,788.32 228.05,787.90 228.50,787.94 228.95,789.12 229.40,787.53 229.85,787.83 230.30,788.42 230.75,786.12 231.20,787.42 231.65,786.15 232.10,786.28 232.55,785.76 233.00,786.54 233.45,786.55 233.90,787.68 234.35,787.88 234.80,788.83 235.25,787.54 235.70,789.07 236.15,787.18 236.60,788.50 237.05,787.76 237.50,788.02 237.95,786.67 238.40,789.19 238.85,788.55 239.30,786.17 239.75,787.65 240.20,789.33 240.65,785.60 241.10,786.43 241.55,787.96 242.00,785.17 242.45,787.72 242.90,786.93 243.35,787.40 243.80,786.58 244.25,787.93 244.70,785.55 245.15,786.28 245.60,784.16 246.05,785.94 246.50,785.30 246.95,787.31 247.40,787.03 247.85,783.84 248.30,783.34 248.75,783.51 249.20,783.65 249.65,785.54 250.10,784.72 250.55,784.56 251.00,784.16 251.45,782.29 251.90,783.62 252.35,785.63 252.80,784.62 253.25,783.34 253.70,781.57 254.15,783.99 254.60,781.76 255.05,782.17 255.50,780.25 255.95,780.38 256.40,780.11 256.85,779.96 257.30,778.21 257.75,780.30 258.20,778.10 258.65,779.41 259.10,779.13 259.55,779.09 260.00,777.21 260.45,776.92 260.90,778.38 261.35,776.69 261.80,775.51 262.25,778.07 262.70,774.39 263.15,777.41 263.60,774.86 264.05,774.91 264.50,776.88 264.95,774.53 265.40,775.30 265.85,773.85 266.30,775.46 266.75,774.43 267.20,773.57 267.65,772.29 268.10,773.57 268.55,774.28 269.00,773.71 269.45,774.89 269.90,773.88 270.35,775.18 270.80,775.53 271.25,776.30 271.70,776.80 272.15,776.96 272.60,776.02 273.05,776.36 273.50,778.17 273.95,776.45 274.40,778.10 274.85,779.30 275.30,779.26 275.75,778.06 276.20,777.36 276.65,778.79 277.10,779.25 277.55,778.88 278.00,778.40 278.45,779.06 278.90,777.86 279.35,778.88 279.80,778.55 280.25,780.76 280.70,782.10 281.15,779.27 281.60,779.01 282.05,781.94 282.50,780.70 282.95,781.50 283.40,780.03 283.85,780.70 284.30,782.89 284.75,782.77 285.20,783.87 285.65,784.34 286.10,782.11 286.55,783.16 287.00,782.56 287.45,782.84 287.90,782.47 288.35,784.75 288.80,783.47 289.25,781.69 289.70,783.87 290.15,784.94 290.60,784.73 291.05,783.51 291.50,781.51 291.95,784.57 292.40,785.11 292.85,784.42 293.30,783.32 293.75,783.19 294.20,784.63 294.65,782.27 295.10,784.90 295.55,783.88 296.00,782.30 296.45,785.22 296.90,783.64 297.35,782.62 297.80,782.93 298.25,785.59 298.70,783.02 299.15,785.38 299.60,785.50 300.05,782.81 300.50,784.17 300.95,785.55 301.40,784.46 301.85,785.93 302.30,784.12 302.75,785.10 303.20,783.57 303.65,785.99 304.10,786.02 304.55,785.02 305.00,784.14 305.45,784.27 305.90,785.25 306.35,783.52 306.80,785.01 307.25,784.23 307.70,784.45 308.15,784.41 308.60,786.40 309.05,783.93 309.50,784.20 309.95,783.97 310.40,783.44 310.85,785.04 311.30,786.67 311.75,786.93 312.20,785.39 312.65,785.18 313.10,786.92 313.55,785.67 314.00,785.78 314.45,786.21 314.90,784.08 315.35,787.00 315.80,784.26 316.25,785.92 316.70,787.46 317.15,786.06 317.60,785.32 318.05,786.82 318.50,787.52 318.95,786.47 319.40,784.38 319.85,787.55 320.30,784.32 320.75,786.87 321.20,787.75 321.65,784.97 322.10,786.42 322.55,787.13 323.00,785.15 323.45,785.46 323.90,784.82 324.35,785.21 324.80,785.09 325.25,785.79 325.70,787.58 326.15,787.40 326.60,787.70 327.05,787.35 327.50,787.90 327.95,785.49 328.40,787.07 328.85,785.08 329.30,786.91 329.75,788.28 330.20,786.91 330.65,786.27 331.10,786.22 331.55,786.70 332.00,788.71 332.45,788.97 332.90,788.14 333.35,789.08 333.80,788.25 334.25,786.46 334.70,787.07 335.15,788.19 335.60,788.17 336.05,788.08 336.50,787.39 336.95,786.11 337.40,789.24 337.85,786.46 338.30,789.37 338.75,786.17 339.20,789.44 339.65,787.17 340.10,788.85 340.55,785.83 341.00,787.52 341.45,786.81 341.90,788.53 342.35,788.44 342.80,787.71 343.25,788.67 343.70,789.73 344.15,786.40 344.60,788.21 345.05,788.67 345.50,788.54 345.95,787.16 346.40,789.52 346.85,787.16 347.30,789.46 347.75,788.07 348.20,786.86 348.65,789.48 349.10,786.67 349.55,789.42 350.00,788.71 350.45,789.79 350.90,789.55 351.35,788.05 351.80,787.07 352.25,787.59 352.70,786.62 353.15,789.13 353.60,787.00 354.05,787.38 354.50,787.66 354.95,788.31 355.40,789.40 355.85,788.51 356.30,788.77 356.75,787.24 357.20,788.20 357.65,787.73 358.10,789.78 358.55,787.07 359.00,789.38 359.45,789.72 359.90,789.01 360.35,787.29 360.80,788.11 361.25,788.09 361.70,788.23 362.15,788.24 362.60,790.97 363.05,790.31 363.50,790.72 363.95,790.07 364.40,788.71 364.85,791.00 365.30,789.29 365.75,788.19 366.20,790.29 366.65,788.53 367.10,790.70 367.55,790.42 368.00,788.74 368.45,789.41 368.90,790.41 369.35,790.26 369.80,789.75 370.25,788.60 370.70,789.05 371.15,790.48 371.60,789.61 372.05,790.63 372.50,790.53 372.95,789.31 373.40,788.37 373.85,790.61 374.30,789.40 374.75,790.23 375.20,788.59 375.65,788.70 376.10,789.78 376.55,790.75 377.00,788.68 377.45,791.21 377.90,791.53 378.35,790.85 378.80,791.14 379.25,789.19 379.70,788.65 380.15,789.51 380.60,788.73 381.05,789.83 381.50,791.13 381.95,789.30 382.40,791.48 382.85,789.94 383.30,788.83 383.75,790.64 384.20,789.86 384.65,789.44 385.10,790.14 385.55,791.94 386.00,791.02 386.45,789.27 386.90,791.68 387.35,788.84 387.80,789.69 388.25,789.55 388.70,791.87 389.15,788.13 389.60,790.57 390.05,790.03 390.50,788.68 390.95,790.52 391.40,791.15 391.85,790.98 392.30,788.36 392.75,791.08 393.20,789.36 393.65,791.28 394.10,790.17 394.55,788.33 395.00,790.85 395.45,790.15 395.90,789.72 396.35,790.42 396.80,789.67 397.25,788.12 397.70,791.44 398.15,789.06 398.60,789.02 399.05,788.14 399.50,790.67 399.95,791.39 400.40,789.69 400.85,791.01 401.30,789.16 401.75,789.37 402.20,789.01 402.65,789.01 403.10,790.01 403.55,789.11 404.00,788.12 404.45,790.48 404.90,789.02 405.35,789.33 405.80,788.54 406.25,788.02 406.70,790.31 407.15,789.42 407.60,791.35 408.05,787.87 408.50,790.93 408.95,787.85 409.40,788.43 409.85,787.82 410.30,789.70 410.75,789.10 411.20,788.96 411.65,791.44 412.10,789.93 412.55,791.24 413.00,791.09 413.45,789.00 413.90,790.19 414.35,788.44 414.80,789.08 415.25,790.28 415.70,789.83 416.15,787.99 416.60,787.95 417.05,790.58 417.50,790.31 417.95,790.10 418.40,788.47 418.85,790.60 419.30,789.80 419.75,788.16 420.20,788.22 420.65,789.91 421.10,791.23 421.55,789.71 422.00,788.57 422.45,790.14 422.90,788.15 423.35,789.79 423.80,788.89 424.25,787.40 424.70,789.21 425.15,789.14 425.60,790.65 426.05,789.85 426.50,788.27 426.95,789.53 427.40,788.00 427.85,789.50 428.30,789.26 428.75,789.28 429.20,787.52 429.65,789.58 430.10,788.89 430.55,789.63 431.00,786.94 431.45,789.53 431.90,790.32 432.35,788.90 432.80,787.17 433.25,790.12 433.70,788.68 434.15,787.59 434.60,788.87 435.05,789.74 435.50,786.85 435.95,788.53 436.40,788.77 436.85,789.86 437.30,786.45 437.75,788.20 438.20,789.02 438.65,788.71 439.10,789.44 439.55,788.63 440.00,788.50 440.45,788.23 440.90,786.35 441.35,788.79 441.80,787.31 442.25,785.24 442.70,788.09 443.15,787.40 443.60,787.10 444.05,784.61 444.50,786.91 444.95,785.32 445.40,786.95 445.85,784.26 446.30,784.77 446.75,783.74 447.20,783.26 447.65,784.27 448.10,785.54 448.55,784.33 449.00,783.71 449.45,785.98 449.90,785.04 450.35,785.81 450.80,783.12 451.25,782.68 451.70,785.70 452.15,782.40 452.60,785.16 453.05,785.85 453.50,785.06 453.95,784.59 454.40,783.88 454.85,783.68 455.30,782.89 455.75,784.15 456.20,784.70 456.65,783.81 457.10,786.63 457.55,786.82 458.00,784.20 458.45,785.49 458.90,786.68 459.35,785.66 459.80,784.89 460.25,786.88 460.70,785.78 461.15,786.24 461.60,786.88 462.05,785.21 462.50,786.83 462.95,785.35 463.40,786.93 463.85,785.54 464.30,787.70 464.75,786.11 465.20,788.55 465.65,785.67 466.10,787.84 466.55,788.49 467.00,788.66 467.45,787.44 467.90,787.66 468.35,786.74 468.80,788.89 469.25,788.56 469.70,787.63 470.15,787.62 470.60,789.22 471.05,787.88 471.50,786.13 471.95,786.20 472.40,788.73 472.85,787.83 473.30,787.97 473.75,787.52 474.20,785.99 474.65,788.98 475.10,787.40 475.55,787.73 476.00,787.66 476.45,786.52 476.90,789.69 477.35,789.70 477.80,786.11 478.25,786.31 478.70,787.59 479.15,789.87 479.60,788.00 480.05,789.69 480.50,787.51 480.95,788.11 481.40,789.40 481.85,788.78 482.30,787.46 482.75,788.05 483.20,788.71 483.65,787.88 484.10,787.14 484.55,787.26 485.00,789.24 485.45,787.25 485.90,787.18 486.35,787.58 486.80,790.27 487.25,790.30 487.70,788.38 488.15,787.41 488.60,788.29 489.05,789.98 489.50,788.85 489.95,790.09 490.40,790.03 490.85,789.81 491.30,790.09 491.75,788.70 492.20,787.42 492.65,789.76 493.10,790.59 493.55,789.36 494.00,787.80 494.45,790.41 494.90,790.42 495.35,790.44 495.80,789.47 496.25,790.54 496.70,787.88 497.15,789.20 497.60,790.81 498.05,790.84 498.50,790.13 498.95,789.34 499.40,789.51 499.85,788.64 500.30,788.02 500.75,790.60 501.20,789.44 501.65,788.60 502.10,788.50 502.55,787.94 503.00,788.01 503.45,789.86 503.90,788.43 504.35,788.57 504.80,790.60" fill="none" stroke="#1e1e1e" stroke-width="3.4" stroke-linejoin="round" stroke-linecap="round" stroke-linejoin="miter"/>
<polyline points="90.80,758.88 91.25,761.31 91.70,758.75 92.15,761.42 92.60,759.76 93.05,760.19 93.50,760.74 93.95,759.77 94.40,758.89 94.85,758.44 95.30,758.00 95.75,760.47 96.20,759.31 96.65,758.20 97.10,760.90 97.55,758.57 98.00,759.07 98.45,758.58 98.90,759.81 99.35,759.60 99.80,759.64 100.25,758.33 100.70,758.37 101.15,758.22 101.60,758.47 102.05,757.74 102.50,757.78 102.95,760.78 103.40,760.74 103.85,757.77 104.30,757.11 104.75,757.76 105.20,759.61 105.65,759.88 106.10,756.97 106.55,759.05 107.00,756.82 107.45,758.74 107.90,759.18 108.35,760.46 108.80,757.67 109.25,759.70 109.70,759.92 110.15,760.08 110.60,756.54 111.05,758.27 111.50,760.17 111.95,757.91 112.40,759.44 112.85,758.38 113.30,759.19 113.75,758.06 114.20,756.28 114.65,756.45 115.10,756.50 115.55,756.99 116.00,759.65 116.45,758.34 116.90,759.00 117.35,758.00 117.80,758.22 118.25,758.85 118.70,759.24 119.15,759.14 119.60,758.76 120.05,755.94 120.50,756.91 120.95,755.62 121.40,757.52 121.85,758.42 122.30,755.55 122.75,756.03 123.20,756.65 123.65,756.15 124.10,758.19 124.55,756.46 125.00,757.51 125.45,756.91 125.90,757.21 126.35,758.51 126.80,758.49 127.25,755.28 127.70,758.01 128.15,756.08 128.60,755.10 129.05,756.13 129.50,756.57 129.95,758.23 130.40,755.95 130.85,754.54 131.30,757.71 131.75,754.82 132.20,756.17 132.65,757.54 133.10,756.22 133.55,755.91 134.00,757.21 134.45,754.20 134.90,756.25 135.35,755.59 135.80,757.72 136.25,756.98 136.70,754.09 137.15,754.56 137.60,755.51 138.05,756.42 138.50,754.96 138.95,755.02 139.40,757.10 139.85,757.18 140.30,755.05 140.75,756.87 141.20,754.66 141.65,753.66 142.10,755.29 142.55,755.74 143.00,756.57 143.45,756.77 143.90,755.95 144.35,755.82 144.80,755.51 145.25,755.29 145.70,755.23 146.15,755.35 146.60,751.48 147.00,748.84 147.05,749.47 147.50,751.26 147.95,753.03 148.40,755.18 148.85,752.50 149.30,754.05 149.75,755.45 150.20,753.36 150.65,752.60 151.10,753.26 151.55,752.65 152.00,755.38 152.45,752.93 152.90,752.99 153.35,755.31 153.80,755.26 154.25,754.38 154.70,755.56 155.15,752.26 155.60,755.64 156.05,754.06 156.50,752.95 156.95,754.82 157.40,754.04 157.85,755.07 158.30,751.44 158.75,752.78 159.20,751.62 159.65,750.90 160.10,746.25 160.55,737.01 161.00,715.12 161.20,706.73 161.45,719.71 161.90,740.00 162.35,747.24 162.80,750.77 163.25,751.59 163.70,753.85 164.15,753.52 164.60,752.56 165.05,751.50 165.50,752.91 165.95,753.21 166.40,752.71 166.85,752.46 167.30,746.65 167.75,740.88 168.00,738.36 168.20,739.67 168.65,746.67 169.10,750.26 169.55,751.77 170.00,751.28 170.45,751.06 170.90,751.83 171.35,751.25 171.80,751.91 172.25,753.19 172.70,752.72 173.15,753.91 173.60,751.66 174.05,750.42 174.50,747.98 174.95,741.42 175.30,735.92 175.40,736.37 175.85,744.60 176.30,748.30 176.75,751.71 177.20,751.82 177.65,751.03 178.10,750.88 178.55,750.12 179.00,750.82 179.45,748.69 179.90,747.11 180.35,741.74 180.60,740.65 180.80,742.20 181.25,748.24 181.70,751.26 182.15,751.54 182.60,750.05 183.05,752.77 183.50,751.75 183.95,749.85 184.40,747.90 184.85,741.12 185.20,735.20 185.30,737.51 185.75,746.34 186.20,749.80 186.65,749.25 187.10,749.75 187.55,753.18 188.00,753.26 188.45,752.67 188.90,752.61 189.35,749.99 189.80,751.92 190.25,748.06 190.70,744.12 191.10,741.42 191.15,739.96 191.60,747.89 192.05,748.43 192.50,751.86 192.95,751.82 193.40,752.80 193.85,752.31 194.30,753.77 194.75,751.62 195.20,752.09 195.65,751.50 196.10,753.05 196.55,751.37 197.00,753.25 197.45,750.53 197.90,751.08 198.35,751.83 198.80,750.62 199.25,750.88 199.70,753.26 200.15,751.43 200.60,750.78 201.05,753.07 201.50,751.90 201.95,751.86 202.40,752.34 202.85,750.53 203.30,745.98 203.70,742.27 203.75,744.38 204.20,748.48 204.65,751.18 205.10,749.76 205.55,751.85 206.00,753.21 206.45,750.74 206.90,750.93 207.35,751.48 207.80,752.05 208.25,753.66 208.70,752.14 209.15,753.28 209.60,752.39 210.05,751.69 210.50,751.05 210.95,751.21 211.40,752.82 211.85,750.53 212.30,750.36 212.75,750.63 213.20,752.34 213.65,751.18 214.10,750.52 214.55,750.95 215.00,749.95 215.45,751.22 215.90,752.52 216.35,750.92 216.80,750.50 217.25,747.89 217.70,746.43 218.00,744.35 218.15,744.63 218.60,750.42 219.05,751.21 219.50,752.19 219.95,749.79 220.40,750.79 220.85,752.94 221.30,751.15 221.75,753.05 222.20,753.19 222.65,749.57 223.10,751.19 223.55,751.76 224.00,750.86 224.45,750.96 224.90,750.87 225.35,750.39 225.80,749.60 226.25,752.26 226.70,753.26 227.15,749.60 227.60,752.70 228.05,751.49 228.50,749.47 228.95,749.63 229.40,751.34 229.85,749.70 230.30,750.37 230.75,750.21 231.20,752.71 231.65,750.56 232.10,749.29 232.55,750.36 233.00,748.75 233.00,747.81 233.45,747.30 233.90,751.54 234.35,750.38 234.80,751.92 235.25,751.78 235.70,751.58 236.15,752.04 236.60,752.23 237.05,750.91 237.50,751.00 237.95,749.52 238.40,750.56 238.85,752.51 239.30,749.97 239.75,751.97 240.20,752.18 240.65,749.86 241.10,752.00 241.55,751.59 242.00,752.78 242.45,750.54 242.90,751.93 243.35,752.25 243.80,750.47 244.25,749.87 244.70,750.41 245.15,751.48 245.60,749.96 246.05,752.23 246.50,750.08 246.95,751.85 247.40,750.15 247.85,750.84 248.30,752.23 248.75,750.74 249.20,751.25 249.65,750.17 250.10,750.64 250.55,749.08 251.00,750.81 251.45,750.52 251.90,749.94 252.35,749.45 252.80,750.07 253.25,749.88 253.70,750.13 254.15,751.81 254.60,752.12 255.05,752.18 255.50,750.29 255.95,752.09 256.40,750.88 256.85,752.42 257.30,749.09 257.75,751.47 258.20,750.80 258.65,750.49 259.10,751.38 259.55,751.62 260.00,751.55 260.45,749.61 260.90,749.59 261.35,750.12 261.80,747.37 262.25,748.68 262.70,745.82 262.70,745.28 263.15,747.99 263.60,750.80 264.05,750.85 264.50,750.56 264.95,748.99 265.40,751.97 265.85,749.78 266.30,751.78 266.75,750.25 267.20,750.91 267.65,751.73 268.10,748.58 268.55,749.48 269.00,749.03 269.45,748.52 269.90,749.64 270.35,751.81 270.80,749.29 271.25,748.75 271.70,751.89 272.15,750.18 272.60,750.09 273.05,750.90 273.50,751.38 273.95,749.13 274.40,749.03 274.85,749.86 275.30,751.46 275.75,751.75 276.20,748.94 276.65,750.83 277.10,749.89 277.55,751.53 278.00,749.30 278.45,749.20 278.90,748.24 279.35,751.46 279.80,748.77 280.25,749.19 280.70,749.06 281.15,751.61 281.60,748.41 282.05,749.37 282.50,750.67 282.95,748.70 283.40,750.25 283.85,749.66 284.30,748.09 284.75,750.33 285.20,749.34 285.65,748.81 286.10,751.70 286.55,751.18 287.00,749.68 287.45,749.19 287.90,748.01 288.35,750.71 288.80,748.95 289.25,749.87 289.70,750.29 290.15,750.76 290.60,748.49 291.05,748.23 291.50,750.81 291.95,748.06 292.40,749.40 292.85,747.98 293.30,748.62 293.75,748.54 294.20,751.00 294.65,750.62 295.10,748.71 295.55,750.00 296.00,749.64 296.45,748.09 296.90,749.09 297.35,750.57 297.80,748.20 298.25,748.60 298.70,749.03 299.15,747.68 299.60,750.59 300.05,749.13 300.50,750.05 300.95,749.61 301.40,750.55 301.85,750.08 302.30,749.06 302.75,747.98 303.20,749.08 303.65,747.41 304.10,747.57 304.55,750.24 305.00,748.68 305.45,748.93 305.90,746.78 306.35,742.14 306.50,742.33 306.80,745.01 307.25,748.44 307.70,747.22 308.15,750.30 308.60,748.92 309.05,748.07 309.50,748.92 309.95,749.63 310.40,750.81 310.85,750.86 311.30,749.53 311.75,750.41 312.20,749.24 312.65,747.34 313.10,748.04 313.55,747.55 314.00,745.92 314.00,745.63 314.45,744.91 314.90,749.00 315.35,750.73 315.80,748.08 316.25,750.12 316.70,748.24 317.15,750.45 317.60,751.12 318.05,748.38 318.50,750.76 318.95,748.76 319.40,750.98 319.85,747.76 320.30,750.51 320.75,748.46 321.20,749.04 321.65,748.25 322.10,750.72 322.55,748.42 323.00,749.01 323.45,749.05 323.90,748.68 324.35,748.51 324.80,750.50 325.25,749.85 325.70,750.60 326.15,748.25 326.60,749.73 327.05,747.96 327.50,748.02 327.95,749.29 328.40,749.89 328.85,750.35 329.30,749.78 329.75,747.90 330.20,749.02 330.65,750.36 331.10,751.12 331.55,750.89 332.00,749.20 332.45,750.67 332.90,747.63 333.35,747.91 333.80,746.09 334.00,742.60 334.25,743.78 334.70,746.97 335.15,747.56 335.60,747.82 336.05,749.45 336.50,749.89 336.95,749.36 337.40,750.22 337.85,748.80 338.30,749.00 338.75,748.13 339.20,748.46 339.65,749.50 340.10,750.79 340.55,749.46 341.00,751.02 341.45,751.23 341.90,750.60 342.35,750.63 342.80,747.73 343.25,750.31 343.70,747.81 344.15,750.55 344.60,749.30 345.05,748.00 345.50,751.22 345.95,748.39 346.40,751.33 346.85,750.67 347.30,751.19 347.75,750.07 348.20,749.02 348.65,750.35 349.10,749.44 349.55,750.48 350.00,751.31 350.45,747.92 350.90,748.35 351.35,749.38 351.80,747.86 352.25,749.14 352.70,749.40 353.15,748.48 353.60,747.99 354.05,750.26 354.50,748.76 354.95,750.54 355.40,749.48 355.85,751.33 356.30,749.07 356.75,750.01 357.20,749.05 357.65,751.59 358.10,749.06 358.55,750.59 359.00,749.38 359.45,750.65 359.90,750.43 360.35,751.03 360.80,750.49 361.25,749.86 361.70,749.85 362.15,748.75 362.60,748.62 363.05,748.78 363.50,751.74 363.95,750.77 364.40,751.68 364.85,750.60 365.30,749.09 365.75,748.34 366.20,750.34 366.65,752.03 367.10,751.36 367.55,748.63 368.00,749.76 368.45,748.90 368.90,749.44 369.35,751.01 369.80,749.69 370.25,750.40 370.70,749.58 371.15,750.06 371.60,749.95 372.05,750.75 372.50,748.85 372.95,752.34 373.40,749.10 373.85,748.81 374.30,752.08 374.75,750.03 375.20,748.67 375.65,749.63 376.10,751.76 376.55,751.53 377.00,751.17 377.45,751.88 377.90,750.55 378.35,752.27 378.80,749.82 379.25,750.70 379.70,751.98 380.15,750.91 380.60,749.77 381.05,750.15 381.50,752.16 381.95,750.92 382.40,750.24 382.85,751.32 383.30,749.53 383.75,751.80 384.20,750.38 384.65,750.98 385.10,750.35 385.55,752.31 386.00,749.74 386.45,752.39 386.90,751.62 387.35,749.81 387.80,749.73 388.25,750.14 388.70,750.85 389.15,752.77 389.60,752.18 390.05,750.31 390.50,751.04 390.95,749.42 391.40,752.22 391.85,752.00 392.30,751.75 392.75,751.61 393.20,749.62 393.65,751.35 394.10,751.66 394.55,751.74 395.00,752.82 395.45,750.68 395.90,750.37 396.35,751.12 396.80,751.82 397.25,752.73 397.70,752.34 398.15,751.49 398.60,751.03 399.05,752.40 399.50,750.99 399.95,751.21 400.40,749.68 400.85,751.56 401.30,750.43 401.75,753.34 402.20,750.04 402.65,749.87 403.10,751.69 403.55,753.48 404.00,750.81 404.45,750.29 404.90,750.15 405.35,749.84 405.80,752.18 406.25,751.20 406.70,753.00 407.15,750.74 407.60,752.00 408.05,750.14 408.50,751.18 408.95,753.42 409.40,752.29 409.85,751.77 410.30,753.57 410.75,751.38 411.20,750.34 411.65,751.82 412.10,752.35 412.55,753.16 413.00,751.54 413.45,752.14 413.90,753.56 414.35,752.61 414.80,751.26 415.25,753.78 415.70,752.42 416.15,753.46 416.60,753.36 417.05,752.87 417.50,751.47 417.95,752.83 418.40,750.81 418.85,752.94 419.30,752.40 419.75,751.66 420.20,752.13 420.65,751.55 421.10,752.27 421.55,752.12 422.00,752.39 422.45,750.64 422.90,750.97 423.35,753.82 423.80,751.27 424.25,751.80 424.70,753.28 425.15,752.12 425.60,752.21 426.05,750.84 426.50,752.36 426.95,752.90 427.40,752.43 427.85,752.22 428.30,751.44 428.75,752.28 429.20,751.02 429.65,751.92 430.10,750.89 430.55,751.50 431.00,751.15 431.45,754.45 431.90,752.95 432.35,751.83 432.80,753.32 433.25,751.99 433.70,753.48 434.15,752.99 434.60,752.56 435.05,754.51 435.50,753.69 435.95,754.71 436.40,752.16 436.85,752.61 437.30,753.71 437.75,753.55 438.20,752.24 438.65,751.58 439.10,754.39 439.55,752.55 440.00,751.28 440.45,753.93 440.90,752.57 441.35,754.12 441.80,751.81 442.25,752.35 442.70,754.86 443.15,753.74 443.60,752.97 444.05,754.71 444.50,754.03 444.95,752.17 445.40,752.54 445.85,754.87 446.30,755.10 446.75,754.23 447.20,753.60 447.65,755.06 448.10,754.13 448.55,755.21 449.00,754.34 449.45,752.50 449.90,755.03 450.35,753.74 450.80,753.00 451.25,752.59 451.70,752.74 452.15,753.78 452.60,751.89 453.05,753.11 453.50,752.69 453.95,752.10 454.40,753.64 454.85,753.09 455.30,755.07 455.75,753.74 456.20,752.30 456.65,752.04 457.10,753.91 457.55,754.72 458.00,753.32 458.45,753.79 458.90,754.83 459.35,754.24 459.80,754.08 460.25,755.17 460.70,752.40 461.15,752.44 461.60,755.37 462.05,754.85 462.50,755.50 462.95,753.79 463.40,753.41 463.85,755.42 464.30,754.16 464.75,753.39 465.20,753.46 465.65,753.63 466.10,752.05 466.55,752.42 467.00,754.23 467.45,754.45 467.90,755.19 468.35,754.02 468.80,752.39 469.25,754.46 469.70,752.46 470.15,753.87 470.60,752.62 471.05,752.90 471.50,755.16 471.95,753.97 472.40,754.70 472.85,752.44 473.30,753.56 473.75,753.36 474.20,755.59 474.65,754.70 475.10,755.01 475.55,754.47 476.00,752.14 476.45,754.87 476.90,754.65 477.35,754.55 477.80,753.53 478.25,752.94 478.70,753.79 479.15,753.45 479.60,752.32 480.05,754.85 480.50,754.44 480.95,752.50 481.40,754.26 481.85,755.54 482.30,753.96 482.75,752.11 483.20,755.62 483.65,754.41 484.10,753.77 484.55,755.57 485.00,753.65 485.45,752.77 485.90,751.97 486.35,754.98 486.80,752.53 487.25,755.00 487.70,752.28 488.15,754.38 488.60,752.07 489.05,754.72 489.50,752.04 489.95,755.40 490.40,754.23 490.85,755.01 491.30,755.51 491.75,754.20 492.20,754.10 492.65,755.54 493.10,754.64 493.55,755.03 494.00,753.94 494.45,755.80 494.90,754.16 495.35,752.57 495.80,752.19 496.25,755.23 496.70,752.39 497.15,754.27 497.60,753.94 498.05,755.14 498.50,753.46 498.95,752.68 499.40,752.74 499.85,752.51 500.30,754.04 500.75,752.34 501.20,753.67 501.65,752.95 502.10,752.62 502.55,754.86 503.00,755.12 503.45,754.90 503.90,753.59 504.35,753.90 504.80,754.83" fill="none" stroke="#e3262b" stroke-width="3.2" stroke-linejoin="round" stroke-linecap="round" />
<polyline points="90.80,705.43 91.25,707.25 91.70,706.35 92.15,707.08 92.60,707.74 93.05,706.58 93.50,706.47 93.95,705.35 94.40,705.84 94.85,706.43 95.30,706.88 95.75,707.19 96.20,706.07 96.65,705.23 97.10,705.78 97.55,707.37 98.00,705.52 98.45,706.08 98.90,707.25 99.35,704.78 99.80,706.08 100.25,706.62 100.70,703.95 101.15,702.79 101.60,700.25 101.70,697.99 102.05,701.14 102.50,704.61 102.95,705.57 103.40,705.54 103.85,705.09 104.30,705.96 104.75,705.73 105.20,706.05 105.65,705.79 106.10,707.03 106.55,706.86 107.00,705.69 107.45,706.36 107.90,705.59 108.35,706.05 108.80,705.78 109.25,706.57 109.70,705.82 110.15,706.04 110.60,706.71 111.05,705.90 111.50,707.18 111.95,705.28 112.40,706.72 112.85,705.88 113.30,705.88 113.75,706.40 114.20,706.10 114.65,705.79 115.10,704.70 115.55,704.91 116.00,706.48 116.45,705.96 116.90,706.37 117.35,706.98 117.80,706.20 118.25,704.46 118.70,704.98 119.15,705.50 119.60,704.21 120.05,705.47 120.50,704.11 120.95,700.73 121.40,692.30 121.70,689.20 121.85,688.58 122.30,697.41 122.75,702.07 123.20,704.50 123.65,704.62 124.10,704.12 124.55,704.90 125.00,704.99 125.45,705.03 125.90,704.74 126.35,705.43 126.80,705.55 127.25,706.42 127.70,706.49 128.15,705.79 128.60,705.63 129.05,706.46 129.50,706.74 129.95,706.19 130.40,706.51 130.85,706.86 131.30,704.52 131.75,706.68 132.20,705.11 132.65,705.61 133.10,706.43 133.55,706.20 134.00,704.69 134.45,705.98 134.90,704.40 135.35,705.06 135.80,706.11 136.25,704.84 136.70,704.67 137.15,703.50 137.50,702.63 137.60,702.59 138.05,702.41 138.50,704.49 138.95,705.00 139.40,704.11 139.85,705.45 140.30,705.67 140.75,706.26 141.20,706.56 141.65,704.44 142.10,704.70 142.55,705.81 143.00,704.42 143.45,704.64 143.90,705.53 144.35,704.46 144.80,706.03 145.25,706.19 145.70,704.02 146.15,705.28 146.60,705.93 147.05,706.35 147.50,704.48 147.95,704.15 148.40,705.93 148.85,705.94 149.30,704.00 149.75,704.53 150.20,705.13 150.65,705.30 151.10,703.33 151.55,704.35 152.00,704.34 152.45,703.10 152.90,701.19 153.35,699.23 153.80,696.54 154.25,689.89 154.70,670.88 154.90,666.44 155.15,673.35 155.60,688.26 156.05,694.92 156.50,696.55 156.95,697.66 157.40,695.81 157.85,688.60 158.30,673.70 158.50,670.29 158.75,674.88 159.20,685.71 159.65,685.80 160.10,673.23 160.55,636.09 161.00,513.49 161.20,466.20 161.45,532.21 161.90,646.12 162.35,679.51 162.80,690.66 163.25,696.70 163.70,697.33 164.15,699.65 164.60,700.72 165.05,701.01 165.50,703.55 165.95,701.59 166.40,703.49 166.85,702.06 167.30,702.89 167.75,703.04 168.20,702.35 168.65,703.05 169.10,702.73 169.55,701.47 170.00,701.11 170.45,696.07 170.90,688.65 171.10,687.14 171.35,689.77 171.80,696.04 172.25,700.50 172.70,700.79 173.15,698.33 173.60,697.20 174.05,692.76 174.50,683.46 174.95,658.59 175.30,641.12 175.40,644.18 175.85,671.83 176.30,689.00 176.75,695.16 177.20,698.07 177.65,697.07 178.10,698.46 178.55,697.22 179.00,691.95 179.45,680.09 179.90,654.36 180.20,639.87 180.35,644.11 180.80,672.83 181.25,690.10 181.70,695.85 182.15,696.74 182.60,697.78 183.05,695.71 183.50,696.00 183.95,690.39 184.40,677.14 184.85,645.61 185.20,620.58 185.30,623.51 185.75,661.64 186.20,684.37 186.65,691.59 187.10,697.34 187.55,697.78 188.00,698.09 188.45,696.45 188.90,695.49 189.35,689.51 189.80,672.35 190.25,646.15 190.30,647.12 190.70,665.36 191.15,687.78 191.60,695.42 192.05,698.28 192.50,700.70 192.95,702.05 193.40,701.73 193.85,703.70 194.30,702.89 194.75,704.32 195.20,704.33 195.65,702.52 196.10,704.02 196.55,703.20 197.00,704.38 197.45,703.83 197.90,703.60 198.35,704.70 198.80,702.45 199.25,703.65 199.70,702.90 200.15,701.91 200.60,703.44 201.05,702.41 201.50,702.41 201.95,700.09 202.40,696.32 202.85,690.85 203.30,670.67 203.70,653.23 203.75,655.41 204.20,676.65 204.65,691.42 205.10,698.61 205.55,699.80 206.00,702.60 206.45,702.73 206.90,702.38 207.35,701.99 207.80,702.67 208.25,704.69 208.70,703.31 209.15,702.73 209.60,703.11 210.05,704.67 210.50,702.73 210.95,704.25 211.40,702.45 211.85,704.37 212.30,702.82 212.75,700.65 213.20,700.78 213.65,695.04 213.80,695.36 214.10,696.73 214.55,699.10 215.00,700.39 215.45,700.70 215.90,700.31 216.35,698.89 216.80,696.30 217.25,692.32 217.70,674.91 218.00,667.71 218.15,669.18 218.60,686.49 219.05,696.54 219.50,700.36 219.95,700.55 220.40,699.85 220.85,702.29 221.30,698.73 221.75,696.35 222.20,690.84 222.30,691.35 222.65,694.87 223.10,699.28 223.55,700.66 224.00,702.46 224.45,702.64 224.90,702.29 225.35,700.92 225.80,697.01 226.25,691.72 226.70,679.64 226.90,676.54 227.15,682.01 227.60,692.53 228.05,698.88 228.50,700.24 228.95,702.23 229.40,701.16 229.85,702.05 230.30,701.02 230.75,701.01 231.20,702.27 231.65,699.39 232.10,698.12 232.55,690.29 233.00,674.27 233.20,672.52 233.45,675.97 233.90,692.00 234.35,695.89 234.80,699.90 235.25,699.35 235.70,699.67 236.15,700.03 236.60,695.24 237.05,686.42 237.40,679.78 237.50,678.93 237.95,692.20 238.40,698.91 238.85,699.55 239.30,701.76 239.75,701.69 240.20,703.24 240.65,701.59 241.10,702.97 241.55,703.76 242.00,703.61 242.45,701.93 242.90,703.67 243.35,701.85 243.80,702.80 244.25,700.85 244.70,697.15 245.15,692.17 245.40,689.89 245.60,691.29 246.05,698.73 246.50,700.03 246.95,701.24 247.40,701.59 247.85,702.91 248.30,702.71 248.75,702.67 249.20,702.95 249.65,702.43 250.10,701.60 250.55,702.54 251.00,701.42 251.45,700.34 251.90,698.29 252.10,695.51 252.35,697.90 252.80,701.06 253.25,701.48 253.70,702.51 254.15,704.04 254.60,702.52 255.05,703.51 255.50,703.82 255.95,702.52 256.40,704.06 256.85,702.95 257.30,702.37 257.75,702.49 258.20,700.93 258.65,699.93 259.10,694.57 259.50,692.14 259.55,691.19 260.00,694.87 260.45,697.89 260.90,699.02 261.35,696.71 261.80,690.10 262.25,674.61 262.70,656.02 262.70,657.59 263.15,674.14 263.60,691.49 264.05,697.48 264.50,698.49 264.95,700.16 265.40,701.47 265.85,702.51 266.30,703.13 266.75,703.32 267.20,701.40 267.65,700.84 268.10,700.68 268.55,698.37 269.00,695.56 269.00,694.13 269.45,698.67 269.90,701.93 270.35,702.92 270.80,703.42 271.25,703.56 271.70,703.73 272.15,701.36 272.60,703.55 273.05,701.71 273.50,701.51 273.95,701.20 274.40,700.96 274.85,696.16 275.30,690.74 275.30,690.80 275.75,696.90 276.20,700.52 276.65,700.23 277.10,701.12 277.55,701.68 278.00,701.32 278.45,702.09 278.90,700.84 279.35,700.93 279.80,699.85 280.25,694.60 280.60,688.95 280.70,689.64 281.15,696.17 281.60,700.20 282.05,700.86 282.50,701.09 282.95,701.60 283.40,701.35 283.85,703.09 284.30,702.61 284.75,701.74 285.20,702.28 285.65,701.45 286.10,700.86 286.55,699.36 287.00,697.49 287.45,693.74 287.90,680.57 288.30,668.49 288.35,666.95 288.80,683.57 289.25,693.64 289.70,697.03 290.15,699.65 290.60,699.75 291.05,700.68 291.50,702.46 291.95,702.35 292.40,702.49 292.85,700.94 293.30,701.16 293.75,700.75 294.20,700.86 294.65,700.72 295.10,702.68 295.55,702.05 296.00,699.37 296.45,697.57 296.90,694.62 297.35,686.44 297.40,685.75 297.80,691.09 298.25,695.57 298.70,697.34 299.15,695.64 299.60,688.37 299.90,685.43 300.05,684.82 300.50,694.26 300.95,699.39 301.40,698.81 301.85,700.39 302.30,701.01 302.75,700.27 303.20,701.74 303.65,700.12 304.10,699.42 304.55,699.31 305.00,694.68 305.45,691.85 305.90,677.38 306.35,653.39 306.50,650.05 306.80,661.82 307.25,682.33 307.70,691.94 308.15,695.52 308.60,698.40 309.05,698.44 309.50,696.54 309.95,694.34 310.40,685.75 310.85,667.67 311.00,664.54 311.30,673.98 311.75,688.17 312.20,693.45 312.65,698.28 313.10,698.97 313.55,697.55 314.00,696.24 314.45,692.31 314.90,682.24 315.35,664.80 315.40,664.80 315.80,676.53 316.25,689.63 316.70,695.40 317.15,696.54 317.60,696.52 318.05,696.86 318.50,695.87 318.95,689.35 319.40,677.14 319.80,663.42 319.85,663.62 320.30,681.58 320.75,691.02 321.20,695.90 321.65,699.87 322.10,700.94 322.55,699.40 323.00,701.59 323.45,699.85 323.90,700.32 324.35,700.34 324.80,700.86 325.25,701.10 325.70,702.40 326.15,701.05 326.60,700.03 327.05,700.05 327.50,698.68 327.95,697.38 328.40,695.24 328.85,687.63 329.20,681.16 329.30,682.12 329.75,690.59 330.20,697.20 330.65,698.40 331.10,698.45 331.55,699.33 332.00,698.06 332.45,697.00 332.90,693.70 333.35,688.36 333.80,670.10 334.10,662.61 334.25,663.96 334.70,682.35 335.15,693.38 335.60,697.14 336.05,698.96 336.50,697.24 336.95,697.93 337.40,694.51 337.85,685.52 338.00,684.84 338.30,689.14 338.75,695.20 339.20,699.81 339.65,700.64 340.10,701.69 340.55,700.99 341.00,701.39 341.45,700.69 341.90,701.09 342.35,702.22 342.80,702.85 343.25,700.75 343.70,700.46 344.15,700.44 344.60,701.27 345.05,701.95 345.50,699.98 345.95,699.51 346.40,696.74 346.85,693.28 346.90,691.45 347.30,694.42 347.75,699.18 348.20,700.17 348.65,700.61 349.10,702.16 349.55,702.10 350.00,700.64 350.45,701.91 350.90,702.60 351.35,702.92 351.80,700.57 352.25,702.68 352.70,700.69 353.15,702.35 353.60,702.13 354.05,703.04 354.50,702.19 354.95,700.71 355.40,702.24 355.85,701.12 356.30,702.57 356.75,700.41 357.20,701.07 357.65,701.82 358.10,700.20 358.55,700.97 359.00,700.06 359.45,697.60 359.90,692.50 360.10,689.93 360.35,691.21 360.80,696.73 361.25,699.33 361.70,699.37 362.15,701.48 362.60,700.00 363.05,700.07 363.50,702.35 363.95,701.98 364.40,700.42 364.85,700.42 365.30,701.26 365.75,699.90 366.20,697.16 366.65,693.06 367.10,686.12 367.20,683.35 367.55,690.85 368.00,696.41 368.45,698.11 368.90,700.85 369.35,699.52 369.80,700.68 370.25,701.27 370.70,700.52 371.15,702.22 371.60,701.74 372.05,700.32 372.50,700.23 372.95,699.88 373.40,701.02 373.85,699.70 374.30,700.06 374.75,699.62 375.20,697.06 375.65,688.42 376.00,684.06 376.10,684.82 376.55,692.62 377.00,697.18 377.45,698.99 377.90,700.44 378.35,699.46 378.80,699.43 379.25,699.00 379.70,696.99 380.15,694.63 380.60,686.21 380.80,685.59 381.05,688.25 381.50,694.28 381.95,697.63 382.40,700.39 382.85,700.47 383.30,699.38 383.75,701.19 384.20,700.70 384.65,701.78 385.10,701.70 385.55,702.15 386.00,701.51 386.45,701.96 386.90,700.11 387.35,699.82 387.80,698.14 388.25,697.81 388.70,691.72 388.80,692.46 389.15,694.96 389.60,699.29 390.05,699.62 390.50,699.58 390.95,700.50 391.40,699.78 391.85,700.52 392.30,701.42 392.75,699.96 393.20,702.38 393.65,701.19 394.10,700.55 394.55,701.90 395.00,700.02 395.45,700.41 395.90,701.88 396.35,699.86 396.80,700.82 397.25,698.57 397.70,698.66 398.15,696.58 398.60,689.36 399.05,680.58 399.10,681.00 399.50,688.15 399.95,694.33 400.40,697.91 400.85,700.69 401.30,699.55 401.75,701.10 402.20,699.79 402.65,700.59 403.10,700.81 403.55,701.07 404.00,701.41 404.45,701.63 404.90,701.39 405.35,701.66 405.80,701.85 406.25,700.37 406.70,701.64 407.15,700.80 407.60,700.08 408.05,699.80 408.50,701.26 408.95,700.85 409.40,699.28 409.85,700.50 410.30,698.94 410.75,699.66 411.20,699.90 411.65,699.82 412.10,698.18 412.55,697.42 413.00,698.19 413.45,698.04 413.90,696.98 414.35,694.64 414.80,693.90 415.25,693.18 415.70,693.12 415.70,692.13 416.15,693.51 416.60,693.06 417.05,694.01 417.50,695.31 417.95,697.32 418.40,698.35 418.85,697.69 419.30,698.49 419.75,697.06 420.20,697.82 420.65,697.19 421.10,696.45 421.55,694.86 422.00,695.18 422.30,695.15 422.45,695.14 422.90,696.22 423.35,696.64 423.80,698.69 424.25,698.74 424.70,700.10 425.15,699.27 425.60,700.31 426.05,699.22 426.50,699.08 426.95,701.41 427.40,700.05 427.85,699.28 428.30,700.83 428.75,701.70 429.20,701.31 429.65,701.91 430.10,701.80 430.55,700.58 431.00,700.02 431.45,699.59 431.90,700.14 432.35,701.08 432.80,701.81 433.25,699.44 433.70,701.56 434.15,701.42 434.60,701.22 435.05,699.74 435.50,699.53 435.95,701.29 436.40,701.01 436.85,700.27 437.30,700.16 437.75,699.29 438.20,701.71 438.65,701.20 439.10,701.41 439.55,700.81 440.00,699.59 440.45,700.19 440.90,697.96 441.35,698.53 441.80,696.83 442.10,697.10 442.25,698.38 442.70,697.66 443.15,699.54 443.60,699.37 444.05,699.02 444.50,699.24 444.95,698.79 445.40,700.43 445.85,701.23 446.30,699.72 446.75,700.44 447.20,701.80 447.65,700.30 448.10,701.74 448.55,701.47 449.00,700.63 449.45,701.00 449.90,699.53 450.35,700.71 450.80,701.35 451.25,699.97 451.70,699.51 452.15,699.45 452.60,699.79 453.05,699.99 453.50,701.46 453.95,700.56 454.40,700.75 454.85,700.17 455.30,700.12 455.75,700.78 456.20,701.27 456.65,699.79 457.10,700.44 457.55,700.97 458.00,701.78 458.45,699.96 458.90,700.26 459.35,700.70 459.80,699.56 460.25,700.75 460.70,701.65 461.15,699.78 461.60,700.26 462.05,699.24 462.50,700.18 462.95,701.23 463.40,699.94 463.85,698.84 464.30,698.75 464.75,699.09 465.20,699.03 465.65,697.18 466.10,696.59 466.40,697.26 466.55,695.47 467.00,698.20 467.45,697.73 467.90,698.09 468.35,699.78 468.80,698.80 469.25,698.78 469.70,699.25 470.15,700.47 470.60,699.08 471.05,700.06 471.50,699.56 471.95,700.41 472.40,699.38 472.85,701.06 473.30,701.47 473.75,699.92 474.20,700.02 474.65,700.66 475.10,701.04 475.55,699.28 476.00,700.88 476.45,701.25 476.90,701.19 477.35,700.28 477.80,701.28 478.25,700.56 478.70,699.62 479.15,699.88 479.60,700.67 480.05,700.57 480.50,701.22 480.95,700.99 481.40,699.68 481.85,700.15 482.30,701.14 482.75,700.31 483.20,699.70 483.65,701.54 484.10,700.27 484.55,699.90 485.00,700.43 485.45,699.88 485.90,699.79 486.35,700.80 486.80,701.15 487.25,700.14 487.70,699.49 488.15,700.30 488.60,700.11 489.05,700.19 489.50,699.68 489.95,701.05 490.40,699.57 490.85,699.14 491.30,700.85 491.75,700.96 492.20,699.65 492.65,699.47 493.10,700.52 493.55,701.40 494.00,699.66 494.45,700.40 494.90,699.68 495.35,700.92 495.80,700.20 496.25,699.96 496.70,700.68 497.15,700.35 497.60,699.49 498.05,700.04 498.50,701.44 498.95,701.03 499.40,700.27 499.85,700.66 500.30,699.30 500.75,700.00 501.20,701.25 501.65,699.41 502.10,701.47 502.55,701.11 503.00,700.69 503.45,699.87 503.90,699.13 504.35,699.65 504.80,700.81" fill="none" stroke="#3f50a3" stroke-width="2.9" stroke-linejoin="round" stroke-linecap="round" />
<text transform="translate(364.32,675.60) scale(1.1862,1)" font-size="21.79" font-family='"Liberation Sans", sans-serif' font-weight="bold" fill="#232323">pure sulfur</text>
<text transform="translate(424.92,743.20) scale(1.0777,1)" font-size="24.00" font-family='"Liberation Sans", sans-serif' font-weight="bold" fill="#232323">KB/S</text>
<text transform="translate(448.70,777.40) scale(1.1145,1)" font-size="23.48" font-family='"Liberation Sans", sans-serif' font-weight="bold" fill="#232323">KB</text>
<defs>
<filter id="bl4" x="-50%" y="-50%" width="200%" height="200%"><feGaussianBlur stdDeviation="4"/></filter>
<filter id="bl6" x="-50%" y="-50%" width="200%" height="200%"><feGaussianBlur stdDeviation="6"/></filter>
<filter id="bl10" x="-50%" y="-50%" width="200%" height="200%"><feGaussianBlur stdDeviation="10"/></filter>
<filter id="tex1" x="0" y="0" width="100%" height="100%"><feTurbulence type="fractalNoise" baseFrequency="0.045" numOctaves="2" seed="4"/><feColorMatrix type="matrix" values="0 0 0 0 0  0 0 0 0 0  0 0 0 0 0  3 0 0 0 -1.45"/><feGaussianBlur stdDeviation="1.6"/></filter>
<filter id="tex2" x="0" y="0" width="100%" height="100%"><feTurbulence type="fractalNoise" baseFrequency="0.04" numOctaves="2" seed="9"/><feColorMatrix type="matrix" values="0 0 0 0 0  0 0 0 0 0  0 0 0 0 0  3 0 0 0 -1.5"/><feGaussianBlur stdDeviation="1.6"/></filter>
<filter id="rag1" x="-20%" y="-20%" width="140%" height="140%"><feTurbulence type="fractalNoise" baseFrequency="0.045" numOctaves="3" seed="2" result="n"/><feDisplacementMap in="SourceGraphic" in2="n" scale="26" xChannelSelector="R" yChannelSelector="G"/><feGaussianBlur stdDeviation="4.5"/></filter>
<filter id="rag2" x="-20%" y="-20%" width="140%" height="140%"><feTurbulence type="fractalNoise" baseFrequency="0.05" numOctaves="3" seed="7" result="n"/><feDisplacementMap in="SourceGraphic" in2="n" scale="26" xChannelSelector="R" yChannelSelector="G"/><feGaussianBlur stdDeviation="4.5"/></filter>
<filter id="rag3" x="-20%" y="-20%" width="140%" height="140%"><feTurbulence type="fractalNoise" baseFrequency="0.035" numOctaves="3" seed="5" result="n"/><feDisplacementMap in="SourceGraphic" in2="n" scale="20" xChannelSelector="R" yChannelSelector="G"/><feGaussianBlur stdDeviation="7"/></filter>
<filter id="rag4" x="-20%" y="-20%" width="140%" height="140%"><feTurbulence type="fractalNoise" baseFrequency="0.045" numOctaves="3" seed="2" result="n"/><feDisplacementMap in="SourceGraphic" in2="n" scale="26" xChannelSelector="R" yChannelSelector="G"/><feGaussianBlur stdDeviation="6"/></filter>
<clipPath id="cq1"><rect x="638" y="454.5" width="153.8" height="196.3"/></clipPath>
<clipPath id="cq2"><rect x="791.8" y="454.5" width="155.2" height="196.3"/></clipPath>
<clipPath id="cq3"><rect x="638" y="650.8" width="153.8" height="196.7"/></clipPath>
<clipPath id="cq4"><rect x="791.8" y="650.8" width="155.2" height="196.7"/></clipPath>
</defs>
<rect x="638.0" y="454.5" width="153.79999999999995" height="196.29999999999995" fill="#272727"/>
<rect x="791.8" y="454.5" width="155.20000000000005" height="196.29999999999995" fill="#1a1a1a"/>
<rect x="638.0" y="650.8" width="153.79999999999995" height="196.70000000000005" fill="#1c1919"/>
<rect x="791.8" y="650.8" width="155.20000000000005" height="196.70000000000005" fill="#1b1b17"/>
<g clip-path="url(#cq1)">
<g filter="url(#rag3)">
<path d="M620.0,490.0 C625.0,459.0 638.3,485.0 650.0,484.0 C661.7,483.0 677.7,483.0 690.0,484.0 C702.3,485.0 715.3,485.7 724.0,490.0 C732.7,494.3 739.7,501.7 742.0,510.0 C744.3,518.3 740.7,530.0 738.0,540.0 C735.3,550.0 729.0,559.2 726.0,570.0 C723.0,580.8 722.3,593.3 720.0,605.0 C717.7,616.7 715.3,629.2 712.0,640.0 C708.7,650.8 715.3,665.0 700.0,670.0 C684.7,675.0 633.3,700.0 620.0,670.0 C606.7,640.0 615.0,521.0 620.0,490.0 Z" fill="#666666"/>
</g>
<ellipse cx="664" cy="522" rx="32" ry="34" fill="#9a9a9a" filter="url(#bl10)" opacity="1.0"/>
<ellipse cx="650" cy="575" rx="18" ry="24" fill="#929292" filter="url(#bl10)" opacity="1.0"/>
<ellipse cx="705" cy="522" rx="22" ry="18" fill="#808080" filter="url(#bl10)" opacity="1.0"/>
<ellipse cx="690" cy="570" rx="18" ry="20" fill="#747474" filter="url(#bl10)" opacity="1.0"/>
<ellipse cx="660" cy="620" rx="28" ry="24" fill="#828282" filter="url(#bl10)" opacity="1.0"/>
<ellipse cx="725" cy="600" rx="14" ry="30" fill="#404040" filter="url(#bl10)" opacity="1.0"/>
<ellipse cx="700" cy="470" rx="45" ry="12" fill="#2e2e2e" filter="url(#bl6)" opacity="1.0"/>
<rect x="638.0" y="454.5" width="153.79999999999995" height="196.29999999999995" fill="#000" opacity="0.22" filter="url(#tex1)"/>
</g>
<g clip-path="url(#cq2)"><g filter="url(#rag2)">
<path d="M780.0,445.0 C795.3,409.2 854.7,440.5 872.0,445.0 C889.3,449.5 878.5,462.0 884.0,472.0 C889.5,482.0 899.0,494.5 905.0,505.0 C911.0,515.5 915.0,525.0 920.0,535.0 C925.0,545.0 933.3,555.8 935.0,565.0 C936.7,574.2 932.8,581.7 930.0,590.0 C927.2,598.3 921.0,606.7 918.0,615.0 C915.0,623.3 914.2,632.5 912.0,640.0 C909.8,647.5 927.0,656.7 905.0,660.0 C883.0,663.3 800.8,695.8 780.0,660.0 C759.2,624.2 764.7,480.8 780.0,445.0 Z" fill="#4caa44"/>
<ellipse cx="848" cy="570" rx="48" ry="60" fill="#5ab64a" filter="url(#bl10)" opacity="1.0"/>
<ellipse cx="835" cy="480" rx="60" ry="22" fill="#2f8c3c" filter="url(#bl6)" opacity="1.0"/>
<ellipse cx="838" cy="476" rx="22" ry="10" fill="#1f5a28" filter="url(#bl4)" opacity="1.0"/>
<ellipse cx="872" cy="494" rx="16" ry="8" fill="#22602a" filter="url(#bl4)" opacity="1.0"/>
<ellipse cx="800" cy="505" rx="6" ry="5" fill="#1e6a2a" filter="url(#bl4)" opacity="1.0"/>
<ellipse cx="806" cy="527" rx="5" ry="5" fill="#1e6a2a" filter="url(#bl4)" opacity="1.0"/>
</g>
<rect x="791.8" y="454.5" width="155.20000000000005" height="196.29999999999995" fill="#083a10" opacity="0.25" filter="url(#tex2)"/>
</g>
<g clip-path="url(#cq3)"><g filter="url(#rag4)">
<path d="M620.0,640.0 C633.3,603.3 679.0,638.3 700.0,640.0 C721.0,641.7 737.7,641.7 746.0,650.0 C754.3,658.3 747.3,677.5 750.0,690.0 C752.7,702.5 759.5,713.3 762.0,725.0 C764.5,736.7 766.0,750.0 765.0,760.0 C764.0,770.0 758.2,775.8 756.0,785.0 C753.8,794.2 752.8,802.5 752.0,815.0 C751.2,827.5 773.0,852.5 751.0,860.0 C729.0,867.5 641.8,896.7 620.0,860.0 C598.2,823.3 606.7,676.7 620.0,640.0 Z" fill="#e3282b"/>
<ellipse cx="715" cy="678" rx="42" ry="13" fill="#701818" filter="url(#bl6)" opacity="1.0"/>
<ellipse cx="690" cy="690" rx="18" ry="8" fill="#901c1c" filter="url(#bl4)" opacity="1.0"/>
<ellipse cx="740" cy="672" rx="14" ry="10" fill="#3a1010" filter="url(#bl4)" opacity="1.0"/>
<ellipse cx="656" cy="819" rx="6" ry="6" fill="#4a1010" filter="url(#bl4)" opacity="1.0"/>
<ellipse cx="690" cy="720" rx="6" ry="12" fill="#a81e1e" filter="url(#bl4)" opacity="1.0"/>
</g>
<rect x="638.0" y="650.8" width="153.79999999999995" height="196.70000000000005" fill="#400000" opacity="0.28" filter="url(#tex1)"/>
</g>
<g clip-path="url(#cq4)"><g filter="url(#rag2)">
<path d="M780.0,645.0 C799.7,609.7 877.2,640.5 898.0,648.0 C918.8,655.5 902.3,677.2 905.0,690.0 C907.7,702.8 911.5,712.5 914.0,725.0 C916.5,737.5 920.7,752.5 920.0,765.0 C919.3,777.5 913.3,790.0 910.0,800.0 C906.7,810.0 902.5,815.0 900.0,825.0 C897.5,835.0 915.0,854.2 895.0,860.0 C875.0,865.8 799.2,895.8 780.0,860.0 C760.8,824.2 760.3,680.3 780.0,645.0 Z" fill="#9cc22c"/>
<ellipse cx="845" cy="760" rx="42" ry="60" fill="#e2d61e" filter="url(#bl10)" opacity="1.0"/>
<ellipse cx="820" cy="800" rx="30" ry="35" fill="#e8d820" filter="url(#bl10)" opacity="1.0"/>
<ellipse cx="812" cy="730" rx="20" ry="30" fill="#d6cc22" filter="url(#bl10)" opacity="1.0"/>
<ellipse cx="845" cy="675" rx="58" ry="16" fill="#3c4a1c" filter="url(#bl6)" opacity="1.0"/>
<ellipse cx="886" cy="760" rx="10" ry="30" fill="#8ab42e" filter="url(#bl10)" opacity="1.0"/>
<ellipse cx="806" cy="820" rx="8" ry="8" fill="#3c9a3c" filter="url(#bl4)" opacity="1.0"/>
<ellipse cx="804" cy="708" rx="7" ry="7" fill="#d86a20" filter="url(#bl4)" opacity="1.0"/>
<ellipse cx="819" cy="725" rx="5" ry="5" fill="#d87020" filter="url(#bl4)" opacity="1.0"/>
<ellipse cx="845" cy="772" rx="6" ry="6" fill="#d86a20" filter="url(#bl4)" opacity="1.0"/>
</g>
<rect x="791.8" y="650.8" width="155.20000000000005" height="196.70000000000005" fill="#203000" opacity="0.22" filter="url(#tex2)"/>
</g>
<text transform="translate(683.57,478.90) scale(1.0186,1)" font-size="25.45" font-family='"Liberation Serif", serif' font-weight="bold" fill="#f4f4f4">STEM</text>
<text transform="translate(868.03,478.10) scale(1.0985,1)" font-size="23.18" font-family='"Liberation Serif", serif' font-weight="bold" fill="#f4f4f4">C-K</text>
<text transform="translate(684.08,675.50) scale(1.0084,1)" font-size="25.61" font-family='"Liberation Serif", serif' font-weight="bold" fill="#f4f4f4">S-L</text>
<text transform="translate(862.91,677.40) scale(0.9941,1)" font-size="25.91" font-family='"Liberation Serif", serif' font-weight="bold" fill="#f0f0e0">C+S</text>
<text transform="translate(751.28,640.70) scale(1.0445,1)" font-size="13.86" font-family='"Liberation Sans", sans-serif' font-weight="normal" fill="#f0f0f0">20 nm</text>
<rect x="757.6" y="644.6" width="25.7" height="2.6" fill="#f4f4f4"/>
<text transform="translate(528.97,476.10) scale(1.0644,1)" font-size="52.28" font-family='"Liberation Sans", sans-serif' font-weight="bold" fill="#232323">d</text>
<line x1="94.00" y1="1195.10" x2="102.00" y2="1195.10" stroke="#232323" stroke-width="2.2" />
<line x1="94.00" y1="1174.44" x2="98.50" y2="1174.44" stroke="#232323" stroke-width="2.2" />
<line x1="94.00" y1="1153.78" x2="102.00" y2="1153.78" stroke="#232323" stroke-width="2.2" />
<line x1="94.00" y1="1133.12" x2="98.50" y2="1133.12" stroke="#232323" stroke-width="2.2" />
<line x1="94.00" y1="1112.46" x2="102.00" y2="1112.46" stroke="#232323" stroke-width="2.2" />
<line x1="94.00" y1="1091.80" x2="98.50" y2="1091.80" stroke="#232323" stroke-width="2.2" />
<line x1="94.00" y1="1071.14" x2="102.00" y2="1071.14" stroke="#232323" stroke-width="2.2" />
<line x1="94.00" y1="1050.48" x2="98.50" y2="1050.48" stroke="#232323" stroke-width="2.2" />
<line x1="94.00" y1="1029.82" x2="102.00" y2="1029.82" stroke="#232323" stroke-width="2.2" />
<line x1="94.00" y1="1009.16" x2="98.50" y2="1009.16" stroke="#232323" stroke-width="2.2" />
<line x1="94.00" y1="988.50" x2="102.00" y2="988.50" stroke="#232323" stroke-width="2.2" />
<line x1="94.00" y1="967.84" x2="98.50" y2="967.84" stroke="#232323" stroke-width="2.2" />
<line x1="94.00" y1="947.18" x2="102.00" y2="947.18" stroke="#232323" stroke-width="2.2" />
<line x1="94.00" y1="926.52" x2="98.50" y2="926.52" stroke="#232323" stroke-width="2.2" />
<line x1="94.00" y1="905.86" x2="102.00" y2="905.86" stroke="#232323" stroke-width="2.2" />
<line x1="103.90" y1="1215.80" x2="103.90" y2="1208.80" stroke="#232323" stroke-width="2.2" />
<line x1="151.25" y1="1215.80" x2="151.25" y2="1211.80" stroke="#232323" stroke-width="2.2" />
<line x1="198.60" y1="1215.80" x2="198.60" y2="1208.80" stroke="#232323" stroke-width="2.2" />
<line x1="245.95" y1="1215.80" x2="245.95" y2="1211.80" stroke="#232323" stroke-width="2.2" />
<line x1="293.30" y1="1215.80" x2="293.30" y2="1208.80" stroke="#232323" stroke-width="2.2" />
<line x1="340.65" y1="1215.80" x2="340.65" y2="1211.80" stroke="#232323" stroke-width="2.2" />
<line x1="388.00" y1="1215.80" x2="388.00" y2="1208.80" stroke="#232323" stroke-width="2.2" />
<line x1="435.35" y1="1215.80" x2="435.35" y2="1211.80" stroke="#232323" stroke-width="2.2" />
<line x1="482.70" y1="1215.80" x2="482.70" y2="1208.80" stroke="#232323" stroke-width="2.2" />
<rect x="94.0" y="886.7" width="407.0" height="329.0999999999999" fill="none" stroke="#232323" stroke-width="2.9" stroke-linejoin="round"/>
<text transform="translate(79.58,1202.30) scale(1.0500,1)" font-size="20.57" font-family='"Liberation Sans", sans-serif' font-weight="bold" fill="#232323">0</text>
<text transform="translate(55.60,1160.98) scale(1.0500,1)" font-size="20.57" font-family='"Liberation Sans", sans-serif' font-weight="bold" fill="#232323">200</text>
<text transform="translate(55.60,1119.66) scale(1.0500,1)" font-size="20.57" font-family='"Liberation Sans", sans-serif' font-weight="bold" fill="#232323">400</text>
<text transform="translate(55.60,1078.34) scale(1.0500,1)" font-size="20.57" font-family='"Liberation Sans", sans-serif' font-weight="bold" fill="#232323">600</text>
<text transform="translate(55.60,1037.02) scale(1.0500,1)" font-size="20.57" font-family='"Liberation Sans", sans-serif' font-weight="bold" fill="#232323">800</text>
<text transform="translate(43.50,995.70) scale(1.0500,1)" font-size="20.57" font-family='"Liberation Sans", sans-serif' font-weight="bold" fill="#232323">1000</text>
<text transform="translate(43.50,954.38) scale(1.0500,1)" font-size="20.57" font-family='"Liberation Sans", sans-serif' font-weight="bold" fill="#232323">1200</text>
<text transform="translate(43.50,913.06) scale(1.0500,1)" font-size="20.57" font-family='"Liberation Sans", sans-serif' font-weight="bold" fill="#232323">1400</text>
<text transform="translate(97.74,1237.80) scale(1.0500,1)" font-size="21.14" font-family='"Liberation Sans", sans-serif' font-weight="bold" fill="#232323">0</text>
<text transform="translate(186.39,1237.80) scale(1.0500,1)" font-size="21.14" font-family='"Liberation Sans", sans-serif' font-weight="bold" fill="#232323">50</text>
<text transform="translate(274.54,1237.80) scale(1.0500,1)" font-size="21.14" font-family='"Liberation Sans", sans-serif' font-weight="bold" fill="#232323">100</text>
<text transform="translate(369.24,1237.80) scale(1.0500,1)" font-size="21.14" font-family='"Liberation Sans", sans-serif' font-weight="bold" fill="#232323">150</text>
<text transform="translate(464.27,1237.80) scale(1.0500,1)" font-size="21.14" font-family='"Liberation Sans", sans-serif' font-weight="bold" fill="#232323">200</text>
<text transform="translate(206.80,1268.20) scale(1.0026,1)" font-size="24.83" font-family='"Liberation Sans", sans-serif' font-weight="bold" fill="#232323">Cycle number</text>
<text transform="translate(36.80,1210.75) rotate(-90) scale(0.9806,1)" font-size="25.52" font-family='"Liberation Sans", sans-serif' font-weight="bold" fill="#232323">Specific capacity / mAh g</text>
<text transform="translate(21.20,908.51) rotate(-90) scale(0.8610,1)" font-size="14.78" font-family='"Liberation Sans", sans-serif' font-weight="bold" fill="#232323">-1</text>
<text transform="translate(2.50,886.00) scale(1.0053,1)" font-size="52.22" font-family='"Liberation Sans", sans-serif' font-weight="bold" fill="#232323">e</text>
<text transform="translate(351.97,913.40) scale(1.0244,1)" font-size="21.52" font-family='"Liberation Sans", sans-serif' font-weight="bold" fill="#232323">KB/S @ 0.5 C</text>
<line x1="108.00" y1="1157.20" x2="164.10" y2="1157.20" stroke="#232323" stroke-width="1.6" />
<rect x="131.80" y="1152.90" width="8.6" height="8.6" fill="white" stroke="#232323" stroke-width="2.3"/>
<text transform="translate(169.83,1166.10) scale(1.0286,1)" font-size="24.60" font-family='"Liberation Serif", serif' font-weight="bold" fill="#232323">Charge</text>
<line x1="108.00" y1="1188.10" x2="164.10" y2="1188.10" stroke="#e3262b" stroke-width="1.6" />
<circle cx="136.10" cy="1188.10" r="5.0" fill="white" stroke="#e3262b" stroke-width="2.4"/>
<text transform="translate(170.59,1196.10) scale(1.0803,1)" font-size="23.45" font-family='"Liberation Serif", serif' font-weight="bold" fill="#232323">Discharge</text>
<polyline points="120.95,915.77 122.84,920.48 124.73,923.67 126.63,927.40 128.52,930.68 130.42,933.37 132.31,937.42 134.20,941.39 136.10,944.47 137.99,946.96 139.89,949.63 141.78,951.54 143.67,954.34 145.57,957.28 147.46,959.79 149.36,961.96 151.25,964.48 153.14,966.38 155.04,968.25 156.93,969.62 158.83,971.14 160.72,972.46 162.61,973.49 164.51,975.54 166.40,976.70 168.30,978.43 170.19,980.60 172.08,982.79 173.98,983.79 175.87,985.47 177.77,987.38 179.66,988.45 181.55,989.78 183.45,991.88 185.34,994.16 187.24,994.99 189.13,996.25 191.02,997.19 192.92,997.59 194.81,998.24 196.71,999.64 198.60,1000.68 200.49,1002.59 202.39,1004.02 204.28,1005.21 206.18,1007.03 208.07,1008.17 209.96,1009.34 211.86,1010.50 213.75,1010.87 215.65,1011.48 217.54,1013.04 219.43,1013.05 221.33,1014.30 223.22,1016.15 225.12,1016.53 227.01,1017.04 228.90,1018.09 230.80,1018.24 232.69,1018.27 234.59,1018.77 236.48,1019.41 238.37,1020.57 240.27,1021.66 242.16,1023.56 244.06,1024.32 245.95,1025.85 247.84,1025.90 249.74,1025.57 251.63,1025.89 253.53,1027.03 255.42,1027.15 257.31,1027.78 259.21,1029.40 261.10,1029.67 263.00,1030.22 264.89,1030.75 266.78,1031.19 268.68,1031.84 270.57,1032.37 272.47,1032.69 274.36,1032.91 276.25,1034.57 278.15,1034.51 280.04,1035.09 281.94,1035.59 283.83,1036.59 285.72,1037.33 287.62,1038.58 289.51,1039.03 291.41,1039.94 293.30,1040.58 295.19,1039.89 297.09,1039.30 298.98,1040.10 300.88,1039.87 302.77,1041.07 304.66,1042.97 306.56,1043.95 308.45,1044.51 310.35,1045.49 312.24,1045.03 314.13,1044.62 316.03,1045.01 317.92,1045.17 319.82,1046.27 321.71,1046.70 323.60,1046.92 325.50,1046.81 327.39,1047.60 329.29,1047.34 331.18,1047.90 333.07,1048.34 334.97,1048.72 336.86,1048.48 338.76,1048.90 340.65,1048.92 342.54,1048.83 344.44,1050.06 346.33,1050.54 348.23,1050.03 350.12,1050.01 352.01,1050.55 353.91,1050.60 355.80,1050.80 357.70,1052.20 359.59,1052.40 361.48,1052.48 363.38,1052.47 365.27,1053.11 367.17,1053.02 369.06,1053.40 370.95,1053.65 372.85,1054.10 374.74,1053.65 376.64,1053.25 378.53,1053.91 380.42,1054.48 382.32,1054.92 384.21,1055.83 386.11,1056.19 388.00,1056.05 389.89,1056.03 391.79,1056.44 393.68,1056.70 395.58,1057.32 397.47,1057.97 399.36,1058.35 401.26,1058.46 403.15,1058.13 405.05,1057.73 406.94,1057.29 408.83,1057.04 410.73,1057.04 412.62,1057.10 414.52,1058.06 416.41,1058.45 418.30,1059.35 420.20,1059.71 422.09,1060.45 423.99,1060.20 425.88,1060.60 427.77,1060.53 429.67,1060.91 431.56,1060.76 433.46,1061.70 435.35,1061.40 437.24,1061.66 439.14,1061.30 441.03,1061.54 442.93,1061.80 444.82,1063.24 446.71,1063.58 448.61,1063.47 450.50,1064.57 452.40,1064.98 454.29,1065.21 456.18,1066.12 458.08,1067.31 459.97,1067.05 461.87,1066.80 463.76,1066.93 465.65,1065.75 467.55,1065.20 469.44,1064.94 471.34,1064.35 473.23,1063.59 475.12,1064.77 477.02,1064.87 478.91,1064.59 480.81,1065.72 482.70,1066.72" fill="none" stroke="#1e1e1e" stroke-width="9.0" stroke-linejoin="round" stroke-linecap="round" stroke-linecap="butt"/>
<polyline points="132.31,1022.27 134.20,1023.55 136.10,1026.42 137.99,1027.24 139.89,1028.53 141.78,1030.25 143.67,1031.36 145.57,1033.30 147.46,1034.16 149.36,1035.38 151.25,1037.03 153.14,1038.11 155.04,1039.15 156.93,1040.47 158.83,1041.12 160.72,1042.57 162.61,1043.09 164.51,1043.99 166.40,1045.20 168.30,1046.15 170.19,1047.24 172.08,1048.06 173.98,1048.93 175.87,1049.44 177.77,1050.68 179.66,1051.25 181.55,1052.10 183.45,1053.19 185.34,1053.98 187.24,1054.36 189.13,1055.19 191.02,1056.81 192.92,1057.51 194.81,1058.45 196.71,1059.08 198.60,1059.18 200.49,1060.11 202.39,1060.60 204.28,1061.10 206.18,1062.45 208.07,1063.04 209.96,1063.63 211.86,1063.99 213.75,1065.01 215.65,1065.46 217.54,1065.97 219.43,1066.64 221.33,1067.54 223.22,1068.59 225.12,1069.50 227.01,1069.35 228.90,1070.12 230.80,1071.12 232.69,1071.55 234.59,1072.11 236.48,1073.05 238.37,1073.02 240.27,1073.91 242.16,1074.33 244.06,1074.47 245.95,1075.19 247.84,1075.45 249.74,1075.94 251.63,1076.52 253.53,1076.98 255.42,1076.88 257.31,1077.96 259.21,1077.87 261.10,1079.09 263.00,1079.02 264.89,1079.64 266.78,1080.35 268.68,1081.39 270.57,1080.51 272.47,1081.80 274.36,1082.18 276.25,1082.28 278.15,1082.74 280.04,1083.11 281.94,1083.72 283.83,1084.54 285.72,1084.25 287.62,1085.24 289.51,1085.33 291.41,1085.60 293.30,1085.80 295.19,1086.61 297.09,1087.02 298.98,1087.39 300.88,1088.27 302.77,1088.32 304.66,1088.64 306.56,1088.93 308.45,1088.77 310.35,1089.17 312.24,1088.83 314.13,1089.11 316.03,1090.40 317.92,1090.03 319.82,1090.62 321.71,1090.39 323.60,1090.72 325.50,1090.69 327.39,1091.08 329.29,1091.15 331.18,1091.69 333.07,1092.58 334.97,1092.37 336.86,1092.48 338.76,1092.59 340.65,1092.97 342.54,1092.38 344.44,1093.16 346.33,1092.93 348.23,1093.66 350.12,1093.27 352.01,1094.38 353.91,1094.04 355.80,1094.86 357.70,1094.54 359.59,1094.41 361.48,1095.65 363.38,1095.67 365.27,1095.57 367.17,1095.95 369.06,1096.56 370.95,1096.03 372.85,1096.62 374.74,1096.48 376.64,1097.03 378.53,1097.74 380.42,1097.69 382.32,1097.28 384.21,1098.30 386.11,1098.18 388.00,1098.02 389.89,1098.06 391.79,1098.28 393.68,1099.16 395.58,1098.22 397.47,1099.08 399.36,1099.19 401.26,1099.36 403.15,1099.60 405.05,1099.99 406.94,1099.96 408.83,1099.60 410.73,1100.59 412.62,1101.08 414.52,1100.32 416.41,1100.53 418.30,1100.57 420.20,1100.42 422.09,1101.33 423.99,1101.21 425.88,1101.27 427.77,1101.20 429.67,1101.42 431.56,1102.15 433.46,1102.47 435.35,1102.29 437.24,1102.86 439.14,1102.17 441.03,1102.79 442.93,1102.98 444.82,1103.38 446.71,1102.86 448.61,1103.48 450.50,1103.93 452.40,1103.84 454.29,1104.29 456.18,1104.32 458.08,1104.33 459.97,1105.05 461.87,1105.04 463.76,1105.29 465.65,1105.31 467.55,1105.71 469.44,1106.11 471.34,1106.54 473.23,1106.48 475.12,1107.12 477.02,1106.82 478.91,1107.24 480.81,1107.31 482.70,1107.87" fill="none" stroke="#e3262b" stroke-width="8.0" stroke-linejoin="round" stroke-linecap="round" stroke-linecap="butt"/>
<rect x="100.99" y="913.87" width="9.6" height="9.6" fill="white" stroke="#232323" stroke-width="2.6"/>
<rect x="102.89" y="908.29" width="9.6" height="9.6" fill="white" stroke="#232323" stroke-width="2.6"/>
<rect x="104.78" y="902.09" width="9.6" height="9.6" fill="white" stroke="#232323" stroke-width="2.6"/>
<rect x="106.68" y="900.65" width="9.6" height="9.6" fill="white" stroke="#232323" stroke-width="2.6"/>
<rect x="108.57" y="900.23" width="9.6" height="9.6" fill="white" stroke="#232323" stroke-width="2.6"/>
<rect x="110.46" y="900.65" width="9.6" height="9.6" fill="white" stroke="#232323" stroke-width="2.6"/>
<rect x="112.36" y="901.47" width="9.6" height="9.6" fill="white" stroke="#232323" stroke-width="2.6"/>
<rect x="114.25" y="905.19" width="9.6" height="9.6" fill="white" stroke="#232323" stroke-width="2.6"/>
<rect x="116.15" y="910.97" width="9.6" height="9.6" fill="white" stroke="#232323" stroke-width="2.6"/>
<rect x="118.04" y="915.68" width="9.6" height="9.6" fill="white" stroke="#232323" stroke-width="2.6"/>
<rect x="119.93" y="918.87" width="9.6" height="9.6" fill="white" stroke="#232323" stroke-width="2.6"/>
<rect x="121.83" y="922.60" width="9.6" height="9.6" fill="white" stroke="#232323" stroke-width="2.6"/>
<rect x="123.72" y="925.88" width="9.6" height="9.6" fill="white" stroke="#232323" stroke-width="2.6"/>
<rect x="125.62" y="928.57" width="9.6" height="9.6" fill="white" stroke="#232323" stroke-width="2.6"/>
<rect x="127.51" y="932.62" width="9.6" height="9.6" fill="white" stroke="#232323" stroke-width="2.6"/>
<rect x="129.40" y="936.59" width="9.6" height="9.6" fill="white" stroke="#232323" stroke-width="2.6"/>
<rect x="131.30" y="939.67" width="9.6" height="9.6" fill="white" stroke="#232323" stroke-width="2.6"/>
<rect x="133.19" y="942.16" width="9.6" height="9.6" fill="white" stroke="#232323" stroke-width="2.6"/>
<rect x="135.09" y="944.83" width="9.6" height="9.6" fill="white" stroke="#232323" stroke-width="2.6"/>
<rect x="136.98" y="946.74" width="9.6" height="9.6" fill="white" stroke="#232323" stroke-width="2.6"/>
<rect x="138.87" y="949.54" width="9.6" height="9.6" fill="white" stroke="#232323" stroke-width="2.6"/>
<rect x="140.77" y="952.48" width="9.6" height="9.6" fill="white" stroke="#232323" stroke-width="2.6"/>
<rect x="142.66" y="954.99" width="9.6" height="9.6" fill="white" stroke="#232323" stroke-width="2.6"/>
<rect x="144.56" y="957.16" width="9.6" height="9.6" fill="white" stroke="#232323" stroke-width="2.6"/>
<rect x="146.45" y="959.68" width="9.6" height="9.6" fill="white" stroke="#232323" stroke-width="2.6"/>
<rect x="148.34" y="961.58" width="9.6" height="9.6" fill="white" stroke="#232323" stroke-width="2.6"/>
<rect x="150.24" y="963.45" width="9.6" height="9.6" fill="white" stroke="#232323" stroke-width="2.6"/>
<rect x="152.13" y="964.82" width="9.6" height="9.6" fill="white" stroke="#232323" stroke-width="2.6"/>
<rect x="154.03" y="966.34" width="9.6" height="9.6" fill="white" stroke="#232323" stroke-width="2.6"/>
<rect x="155.92" y="967.66" width="9.6" height="9.6" fill="white" stroke="#232323" stroke-width="2.6"/>
<rect x="157.81" y="968.69" width="9.6" height="9.6" fill="white" stroke="#232323" stroke-width="2.6"/>
<rect x="159.71" y="970.74" width="9.6" height="9.6" fill="white" stroke="#232323" stroke-width="2.6"/>
<rect x="161.60" y="971.90" width="9.6" height="9.6" fill="white" stroke="#232323" stroke-width="2.6"/>
<rect x="163.50" y="973.63" width="9.6" height="9.6" fill="white" stroke="#232323" stroke-width="2.6"/>
<rect x="165.39" y="975.80" width="9.6" height="9.6" fill="white" stroke="#232323" stroke-width="2.6"/>
<rect x="167.28" y="977.99" width="9.6" height="9.6" fill="white" stroke="#232323" stroke-width="2.6"/>
<rect x="169.18" y="978.99" width="9.6" height="9.6" fill="white" stroke="#232323" stroke-width="2.6"/>
<rect x="171.07" y="980.67" width="9.6" height="9.6" fill="white" stroke="#232323" stroke-width="2.6"/>
<rect x="172.97" y="982.58" width="9.6" height="9.6" fill="white" stroke="#232323" stroke-width="2.6"/>
<rect x="174.86" y="983.65" width="9.6" height="9.6" fill="white" stroke="#232323" stroke-width="2.6"/>
<rect x="176.75" y="984.98" width="9.6" height="9.6" fill="white" stroke="#232323" stroke-width="2.6"/>
<rect x="178.65" y="987.08" width="9.6" height="9.6" fill="white" stroke="#232323" stroke-width="2.6"/>
<rect x="180.54" y="989.36" width="9.6" height="9.6" fill="white" stroke="#232323" stroke-width="2.6"/>
<rect x="182.44" y="990.19" width="9.6" height="9.6" fill="white" stroke="#232323" stroke-width="2.6"/>
<rect x="184.33" y="991.45" width="9.6" height="9.6" fill="white" stroke="#232323" stroke-width="2.6"/>
<rect x="186.22" y="992.39" width="9.6" height="9.6" fill="white" stroke="#232323" stroke-width="2.6"/>
<rect x="188.12" y="992.79" width="9.6" height="9.6" fill="white" stroke="#232323" stroke-width="2.6"/>
<rect x="190.01" y="993.44" width="9.6" height="9.6" fill="white" stroke="#232323" stroke-width="2.6"/>
<rect x="191.91" y="994.84" width="9.6" height="9.6" fill="white" stroke="#232323" stroke-width="2.6"/>
<rect x="193.80" y="995.88" width="9.6" height="9.6" fill="white" stroke="#232323" stroke-width="2.6"/>
<rect x="195.69" y="997.79" width="9.6" height="9.6" fill="white" stroke="#232323" stroke-width="2.6"/>
<rect x="197.59" y="999.22" width="9.6" height="9.6" fill="white" stroke="#232323" stroke-width="2.6"/>
<rect x="199.48" y="1000.41" width="9.6" height="9.6" fill="white" stroke="#232323" stroke-width="2.6"/>
<rect x="201.38" y="1002.23" width="9.6" height="9.6" fill="white" stroke="#232323" stroke-width="2.6"/>
<rect x="203.27" y="1003.37" width="9.6" height="9.6" fill="white" stroke="#232323" stroke-width="2.6"/>
<rect x="205.16" y="1004.54" width="9.6" height="9.6" fill="white" stroke="#232323" stroke-width="2.6"/>
<rect x="207.06" y="1005.70" width="9.6" height="9.6" fill="white" stroke="#232323" stroke-width="2.6"/>
<rect x="208.95" y="1006.07" width="9.6" height="9.6" fill="white" stroke="#232323" stroke-width="2.6"/>
<rect x="210.85" y="1006.68" width="9.6" height="9.6" fill="white" stroke="#232323" stroke-width="2.6"/>
<rect x="212.74" y="1008.24" width="9.6" height="9.6" fill="white" stroke="#232323" stroke-width="2.6"/>
<rect x="214.63" y="1008.25" width="9.6" height="9.6" fill="white" stroke="#232323" stroke-width="2.6"/>
<rect x="216.53" y="1009.50" width="9.6" height="9.6" fill="white" stroke="#232323" stroke-width="2.6"/>
<rect x="218.42" y="1011.35" width="9.6" height="9.6" fill="white" stroke="#232323" stroke-width="2.6"/>
<rect x="220.32" y="1011.73" width="9.6" height="9.6" fill="white" stroke="#232323" stroke-width="2.6"/>
<rect x="222.21" y="1012.24" width="9.6" height="9.6" fill="white" stroke="#232323" stroke-width="2.6"/>
<rect x="224.10" y="1013.29" width="9.6" height="9.6" fill="white" stroke="#232323" stroke-width="2.6"/>
<rect x="226.00" y="1013.44" width="9.6" height="9.6" fill="white" stroke="#232323" stroke-width="2.6"/>
<rect x="227.89" y="1013.47" width="9.6" height="9.6" fill="white" stroke="#232323" stroke-width="2.6"/>
<rect x="229.79" y="1013.97" width="9.6" height="9.6" fill="white" stroke="#232323" stroke-width="2.6"/>
<rect x="231.68" y="1014.61" width="9.6" height="9.6" fill="white" stroke="#232323" stroke-width="2.6"/>
<rect x="233.57" y="1015.77" width="9.6" height="9.6" fill="white" stroke="#232323" stroke-width="2.6"/>
<rect x="235.47" y="1016.86" width="9.6" height="9.6" fill="white" stroke="#232323" stroke-width="2.6"/>
<rect x="237.36" y="1018.76" width="9.6" height="9.6" fill="white" stroke="#232323" stroke-width="2.6"/>
<rect x="239.26" y="1019.52" width="9.6" height="9.6" fill="white" stroke="#232323" stroke-width="2.6"/>
<rect x="241.15" y="1021.05" width="9.6" height="9.6" fill="white" stroke="#232323" stroke-width="2.6"/>
<rect x="243.04" y="1021.10" width="9.6" height="9.6" fill="white" stroke="#232323" stroke-width="2.6"/>
<rect x="244.94" y="1020.77" width="9.6" height="9.6" fill="white" stroke="#232323" stroke-width="2.6"/>
<rect x="246.83" y="1021.09" width="9.6" height="9.6" fill="white" stroke="#232323" stroke-width="2.6"/>
<rect x="248.73" y="1022.23" width="9.6" height="9.6" fill="white" stroke="#232323" stroke-width="2.6"/>
<rect x="250.62" y="1022.35" width="9.6" height="9.6" fill="white" stroke="#232323" stroke-width="2.6"/>
<rect x="252.51" y="1022.98" width="9.6" height="9.6" fill="white" stroke="#232323" stroke-width="2.6"/>
<rect x="254.41" y="1024.60" width="9.6" height="9.6" fill="white" stroke="#232323" stroke-width="2.6"/>
<rect x="256.30" y="1024.87" width="9.6" height="9.6" fill="white" stroke="#232323" stroke-width="2.6"/>
<rect x="258.20" y="1025.42" width="9.6" height="9.6" fill="white" stroke="#232323" stroke-width="2.6"/>
<rect x="260.09" y="1025.95" width="9.6" height="9.6" fill="white" stroke="#232323" stroke-width="2.6"/>
<rect x="261.98" y="1026.39" width="9.6" height="9.6" fill="white" stroke="#232323" stroke-width="2.6"/>
<rect x="263.88" y="1027.04" width="9.6" height="9.6" fill="white" stroke="#232323" stroke-width="2.6"/>
<rect x="265.77" y="1027.57" width="9.6" height="9.6" fill="white" stroke="#232323" stroke-width="2.6"/>
<rect x="267.67" y="1027.89" width="9.6" height="9.6" fill="white" stroke="#232323" stroke-width="2.6"/>
<rect x="269.56" y="1028.11" width="9.6" height="9.6" fill="white" stroke="#232323" stroke-width="2.6"/>
<rect x="271.45" y="1029.77" width="9.6" height="9.6" fill="white" stroke="#232323" stroke-width="2.6"/>
<rect x="273.35" y="1029.71" width="9.6" height="9.6" fill="white" stroke="#232323" stroke-width="2.6"/>
<rect x="275.24" y="1030.29" width="9.6" height="9.6" fill="white" stroke="#232323" stroke-width="2.6"/>
<rect x="277.14" y="1030.79" width="9.6" height="9.6" fill="white" stroke="#232323" stroke-width="2.6"/>
<rect x="279.03" y="1031.79" width="9.6" height="9.6" fill="white" stroke="#232323" stroke-width="2.6"/>
<rect x="280.92" y="1032.53" width="9.6" height="9.6" fill="white" stroke="#232323" stroke-width="2.6"/>
<rect x="282.82" y="1033.78" width="9.6" height="9.6" fill="white" stroke="#232323" stroke-width="2.6"/>
<rect x="284.71" y="1034.23" width="9.6" height="9.6" fill="white" stroke="#232323" stroke-width="2.6"/>
<rect x="286.61" y="1035.14" width="9.6" height="9.6" fill="white" stroke="#232323" stroke-width="2.6"/>
<rect x="288.50" y="1035.78" width="9.6" height="9.6" fill="white" stroke="#232323" stroke-width="2.6"/>
<rect x="290.39" y="1035.09" width="9.6" height="9.6" fill="white" stroke="#232323" stroke-width="2.6"/>
<rect x="292.29" y="1034.50" width="9.6" height="9.6" fill="white" stroke="#232323" stroke-width="2.6"/>
<rect x="294.18" y="1035.30" width="9.6" height="9.6" fill="white" stroke="#232323" stroke-width="2.6"/>
<rect x="296.08" y="1035.07" width="9.6" height="9.6" fill="white" stroke="#232323" stroke-width="2.6"/>
<rect x="297.97" y="1036.27" width="9.6" height="9.6" fill="white" stroke="#232323" stroke-width="2.6"/>
<rect x="299.86" y="1038.17" width="9.6" height="9.6" fill="white" stroke="#232323" stroke-width="2.6"/>
<rect x="301.76" y="1039.15" width="9.6" height="9.6" fill="white" stroke="#232323" stroke-width="2.6"/>
<rect x="303.65" y="1039.71" width="9.6" height="9.6" fill="white" stroke="#232323" stroke-width="2.6"/>
<rect x="305.55" y="1040.69" width="9.6" height="9.6" fill="white" stroke="#232323" stroke-width="2.6"/>
<rect x="307.44" y="1040.23" width="9.6" height="9.6" fill="white" stroke="#232323" stroke-width="2.6"/>
<rect x="309.33" y="1039.82" width="9.6" height="9.6" fill="white" stroke="#232323" stroke-width="2.6"/>
<rect x="311.23" y="1040.21" width="9.6" height="9.6" fill="white" stroke="#232323" stroke-width="2.6"/>
<rect x="313.12" y="1040.37" width="9.6" height="9.6" fill="white" stroke="#232323" stroke-width="2.6"/>
<rect x="315.02" y="1041.47" width="9.6" height="9.6" fill="white" stroke="#232323" stroke-width="2.6"/>
<rect x="316.91" y="1041.90" width="9.6" height="9.6" fill="white" stroke="#232323" stroke-width="2.6"/>
<rect x="318.80" y="1042.12" width="9.6" height="9.6" fill="white" stroke="#232323" stroke-width="2.6"/>
<rect x="320.70" y="1042.01" width="9.6" height="9.6" fill="white" stroke="#232323" stroke-width="2.6"/>
<rect x="322.59" y="1042.80" width="9.6" height="9.6" fill="white" stroke="#232323" stroke-width="2.6"/>
<rect x="324.49" y="1042.54" width="9.6" height="9.6" fill="white" stroke="#232323" stroke-width="2.6"/>
<rect x="326.38" y="1043.10" width="9.6" height="9.6" fill="white" stroke="#232323" stroke-width="2.6"/>
<rect x="328.27" y="1043.54" width="9.6" height="9.6" fill="white" stroke="#232323" stroke-width="2.6"/>
<rect x="330.17" y="1043.92" width="9.6" height="9.6" fill="white" stroke="#232323" stroke-width="2.6"/>
<rect x="332.06" y="1043.68" width="9.6" height="9.6" fill="white" stroke="#232323" stroke-width="2.6"/>
<rect x="333.96" y="1044.10" width="9.6" height="9.6" fill="white" stroke="#232323" stroke-width="2.6"/>
<rect x="335.85" y="1044.12" width="9.6" height="9.6" fill="white" stroke="#232323" stroke-width="2.6"/>
<rect x="337.74" y="1044.03" width="9.6" height="9.6" fill="white" stroke="#232323" stroke-width="2.6"/>
<rect x="339.64" y="1045.26" width="9.6" height="9.6" fill="white" stroke="#232323" stroke-width="2.6"/>
<rect x="341.53" y="1045.74" width="9.6" height="9.6" fill="white" stroke="#232323" stroke-width="2.6"/>
<rect x="343.43" y="1045.23" width="9.6" height="9.6" fill="white" stroke="#232323" stroke-width="2.6"/>
<rect x="345.32" y="1045.21" width="9.6" height="9.6" fill="white" stroke="#232323" stroke-width="2.6"/>
<rect x="347.21" y="1045.75" width="9.6" height="9.6" fill="white" stroke="#232323" stroke-width="2.6"/>
<rect x="349.11" y="1045.80" width="9.6" height="9.6" fill="white" stroke="#232323" stroke-width="2.6"/>
<rect x="351.00" y="1046.00" width="9.6" height="9.6" fill="white" stroke="#232323" stroke-width="2.6"/>
<rect x="352.90" y="1047.40" width="9.6" height="9.6" fill="white" stroke="#232323" stroke-width="2.6"/>
<rect x="354.79" y="1047.60" width="9.6" height="9.6" fill="white" stroke="#232323" stroke-width="2.6"/>
<rect x="356.68" y="1047.68" width="9.6" height="9.6" fill="white" stroke="#232323" stroke-width="2.6"/>
<rect x="358.58" y="1047.67" width="9.6" height="9.6" fill="white" stroke="#232323" stroke-width="2.6"/>
<rect x="360.47" y="1048.31" width="9.6" height="9.6" fill="white" stroke="#232323" stroke-width="2.6"/>
<rect x="362.37" y="1048.22" width="9.6" height="9.6" fill="white" stroke="#232323" stroke-width="2.6"/>
<rect x="364.26" y="1048.60" width="9.6" height="9.6" fill="white" stroke="#232323" stroke-width="2.6"/>
<rect x="366.15" y="1048.85" width="9.6" height="9.6" fill="white" stroke="#232323" stroke-width="2.6"/>
<rect x="368.05" y="1049.30" width="9.6" height="9.6" fill="white" stroke="#232323" stroke-width="2.6"/>
<rect x="369.94" y="1048.85" width="9.6" height="9.6" fill="white" stroke="#232323" stroke-width="2.6"/>
<rect x="371.84" y="1048.45" width="9.6" height="9.6" fill="white" stroke="#232323" stroke-width="2.6"/>
<rect x="373.73" y="1049.11" width="9.6" height="9.6" fill="white" stroke="#232323" stroke-width="2.6"/>
<rect x="375.62" y="1049.68" width="9.6" height="9.6" fill="white" stroke="#232323" stroke-width="2.6"/>
<rect x="377.52" y="1050.12" width="9.6" height="9.6" fill="white" stroke="#232323" stroke-width="2.6"/>
<rect x="379.41" y="1051.03" width="9.6" height="9.6" fill="white" stroke="#232323" stroke-width="2.6"/>
<rect x="381.31" y="1051.39" width="9.6" height="9.6" fill="white" stroke="#232323" stroke-width="2.6"/>
<rect x="383.20" y="1051.25" width="9.6" height="9.6" fill="white" stroke="#232323" stroke-width="2.6"/>
<rect x="385.09" y="1051.23" width="9.6" height="9.6" fill="white" stroke="#232323" stroke-width="2.6"/>
<rect x="386.99" y="1051.64" width="9.6" height="9.6" fill="white" stroke="#232323" stroke-width="2.6"/>
<rect x="388.88" y="1051.90" width="9.6" height="9.6" fill="white" stroke="#232323" stroke-width="2.6"/>
<rect x="390.78" y="1052.52" width="9.6" height="9.6" fill="white" stroke="#232323" stroke-width="2.6"/>
<rect x="392.67" y="1053.17" width="9.6" height="9.6" fill="white" stroke="#232323" stroke-width="2.6"/>
<rect x="394.56" y="1053.55" width="9.6" height="9.6" fill="white" stroke="#232323" stroke-width="2.6"/>
<rect x="396.46" y="1053.66" width="9.6" height="9.6" fill="white" stroke="#232323" stroke-width="2.6"/>
<rect x="398.35" y="1053.33" width="9.6" height="9.6" fill="white" stroke="#232323" stroke-width="2.6"/>
<rect x="400.25" y="1052.93" width="9.6" height="9.6" fill="white" stroke="#232323" stroke-width="2.6"/>
<rect x="402.14" y="1052.49" width="9.6" height="9.6" fill="white" stroke="#232323" stroke-width="2.6"/>
<rect x="404.03" y="1052.24" width="9.6" height="9.6" fill="white" stroke="#232323" stroke-width="2.6"/>
<rect x="405.93" y="1052.24" width="9.6" height="9.6" fill="white" stroke="#232323" stroke-width="2.6"/>
<rect x="407.82" y="1052.30" width="9.6" height="9.6" fill="white" stroke="#232323" stroke-width="2.6"/>
<rect x="409.72" y="1053.26" width="9.6" height="9.6" fill="white" stroke="#232323" stroke-width="2.6"/>
<rect x="411.61" y="1053.65" width="9.6" height="9.6" fill="white" stroke="#232323" stroke-width="2.6"/>
<rect x="413.50" y="1054.55" width="9.6" height="9.6" fill="white" stroke="#232323" stroke-width="2.6"/>
<rect x="415.40" y="1054.91" width="9.6" height="9.6" fill="white" stroke="#232323" stroke-width="2.6"/>
<rect x="417.29" y="1055.65" width="9.6" height="9.6" fill="white" stroke="#232323" stroke-width="2.6"/>
<rect x="419.19" y="1055.40" width="9.6" height="9.6" fill="white" stroke="#232323" stroke-width="2.6"/>
<rect x="421.08" y="1055.80" width="9.6" height="9.6" fill="white" stroke="#232323" stroke-width="2.6"/>
<rect x="422.97" y="1055.73" width="9.6" height="9.6" fill="white" stroke="#232323" stroke-width="2.6"/>
<rect x="424.87" y="1056.11" width="9.6" height="9.6" fill="white" stroke="#232323" stroke-width="2.6"/>
<rect x="426.76" y="1055.96" width="9.6" height="9.6" fill="white" stroke="#232323" stroke-width="2.6"/>
<rect x="428.66" y="1056.90" width="9.6" height="9.6" fill="white" stroke="#232323" stroke-width="2.6"/>
<rect x="430.55" y="1056.60" width="9.6" height="9.6" fill="white" stroke="#232323" stroke-width="2.6"/>
<rect x="432.44" y="1056.86" width="9.6" height="9.6" fill="white" stroke="#232323" stroke-width="2.6"/>
<rect x="434.34" y="1056.50" width="9.6" height="9.6" fill="white" stroke="#232323" stroke-width="2.6"/>
<rect x="436.23" y="1056.74" width="9.6" height="9.6" fill="white" stroke="#232323" stroke-width="2.6"/>
<rect x="438.13" y="1057.00" width="9.6" height="9.6" fill="white" stroke="#232323" stroke-width="2.6"/>
<rect x="440.02" y="1058.44" width="9.6" height="9.6" fill="white" stroke="#232323" stroke-width="2.6"/>
<rect x="441.91" y="1058.78" width="9.6" height="9.6" fill="white" stroke="#232323" stroke-width="2.6"/>
<rect x="443.81" y="1058.67" width="9.6" height="9.6" fill="white" stroke="#232323" stroke-width="2.6"/>
<rect x="445.70" y="1059.77" width="9.6" height="9.6" fill="white" stroke="#232323" stroke-width="2.6"/>
<rect x="447.60" y="1060.18" width="9.6" height="9.6" fill="white" stroke="#232323" stroke-width="2.6"/>
<rect x="449.49" y="1060.41" width="9.6" height="9.6" fill="white" stroke="#232323" stroke-width="2.6"/>
<rect x="451.38" y="1061.32" width="9.6" height="9.6" fill="white" stroke="#232323" stroke-width="2.6"/>
<rect x="453.28" y="1062.51" width="9.6" height="9.6" fill="white" stroke="#232323" stroke-width="2.6"/>
<rect x="455.17" y="1062.25" width="9.6" height="9.6" fill="white" stroke="#232323" stroke-width="2.6"/>
<rect x="457.07" y="1062.00" width="9.6" height="9.6" fill="white" stroke="#232323" stroke-width="2.6"/>
<rect x="458.96" y="1062.13" width="9.6" height="9.6" fill="white" stroke="#232323" stroke-width="2.6"/>
<rect x="460.85" y="1060.95" width="9.6" height="9.6" fill="white" stroke="#232323" stroke-width="2.6"/>
<rect x="462.75" y="1060.40" width="9.6" height="9.6" fill="white" stroke="#232323" stroke-width="2.6"/>
<rect x="464.64" y="1060.14" width="9.6" height="9.6" fill="white" stroke="#232323" stroke-width="2.6"/>
<rect x="466.54" y="1059.55" width="9.6" height="9.6" fill="white" stroke="#232323" stroke-width="2.6"/>
<rect x="468.43" y="1058.79" width="9.6" height="9.6" fill="white" stroke="#232323" stroke-width="2.6"/>
<rect x="470.32" y="1059.97" width="9.6" height="9.6" fill="white" stroke="#232323" stroke-width="2.6"/>
<rect x="472.22" y="1060.07" width="9.6" height="9.6" fill="white" stroke="#232323" stroke-width="2.6"/>
<rect x="474.11" y="1059.79" width="9.6" height="9.6" fill="white" stroke="#232323" stroke-width="2.6"/>
<rect x="476.01" y="1060.92" width="9.6" height="9.6" fill="white" stroke="#232323" stroke-width="2.6"/>
<rect x="477.90" y="1061.92" width="9.6" height="9.6" fill="white" stroke="#232323" stroke-width="2.6"/>
<circle cx="105.79" cy="966.19" r="5.2" fill="white" stroke="#e3262b" stroke-width="2.6"/>
<circle cx="107.69" cy="982.92" r="5.2" fill="white" stroke="#e3262b" stroke-width="2.6"/>
<circle cx="109.58" cy="988.03" r="5.2" fill="white" stroke="#e3262b" stroke-width="2.6"/>
<circle cx="111.48" cy="993.66" r="5.2" fill="white" stroke="#e3262b" stroke-width="2.6"/>
<circle cx="113.37" cy="997.72" r="5.2" fill="white" stroke="#e3262b" stroke-width="2.6"/>
<circle cx="115.26" cy="1000.57" r="5.2" fill="white" stroke="#e3262b" stroke-width="2.6"/>
<circle cx="117.16" cy="1003.94" r="5.2" fill="white" stroke="#e3262b" stroke-width="2.6"/>
<circle cx="119.05" cy="1006.91" r="5.2" fill="white" stroke="#e3262b" stroke-width="2.6"/>
<circle cx="120.95" cy="1010.23" r="5.2" fill="white" stroke="#e3262b" stroke-width="2.6"/>
<circle cx="122.84" cy="1012.97" r="5.2" fill="white" stroke="#e3262b" stroke-width="2.6"/>
<circle cx="124.73" cy="1014.51" r="5.2" fill="white" stroke="#e3262b" stroke-width="2.6"/>
<circle cx="126.63" cy="1017.50" r="5.2" fill="white" stroke="#e3262b" stroke-width="2.6"/>
<circle cx="128.52" cy="1019.29" r="5.2" fill="white" stroke="#e3262b" stroke-width="2.6"/>
<circle cx="130.42" cy="1020.63" r="5.2" fill="white" stroke="#e3262b" stroke-width="2.6"/>
<circle cx="132.31" cy="1022.27" r="5.2" fill="white" stroke="#e3262b" stroke-width="2.6"/>
<circle cx="134.20" cy="1023.55" r="5.2" fill="white" stroke="#e3262b" stroke-width="2.6"/>
<circle cx="136.10" cy="1026.42" r="5.2" fill="white" stroke="#e3262b" stroke-width="2.6"/>
<circle cx="137.99" cy="1027.24" r="5.2" fill="white" stroke="#e3262b" stroke-width="2.6"/>
<circle cx="139.89" cy="1028.53" r="5.2" fill="white" stroke="#e3262b" stroke-width="2.6"/>
<circle cx="141.78" cy="1030.25" r="5.2" fill="white" stroke="#e3262b" stroke-width="2.6"/>
<circle cx="143.67" cy="1031.36" r="5.2" fill="white" stroke="#e3262b" stroke-width="2.6"/>
<circle cx="145.57" cy="1033.30" r="5.2" fill="white" stroke="#e3262b" stroke-width="2.6"/>
<circle cx="147.46" cy="1034.16" r="5.2" fill="white" stroke="#e3262b" stroke-width="2.6"/>
<circle cx="149.36" cy="1035.38" r="5.2" fill="white" stroke="#e3262b" stroke-width="2.6"/>
<circle cx="151.25" cy="1037.03" r="5.2" fill="white" stroke="#e3262b" stroke-width="2.6"/>
<circle cx="153.14" cy="1038.11" r="5.2" fill="white" stroke="#e3262b" stroke-width="2.6"/>
<circle cx="155.04" cy="1039.15" r="5.2" fill="white" stroke="#e3262b" stroke-width="2.6"/>
<circle cx="156.93" cy="1040.47" r="5.2" fill="white" stroke="#e3262b" stroke-width="2.6"/>
<circle cx="158.83" cy="1041.12" r="5.2" fill="white" stroke="#e3262b" stroke-width="2.6"/>
<circle cx="160.72" cy="1042.57" r="5.2" fill="white" stroke="#e3262b" stroke-width="2.6"/>
<circle cx="162.61" cy="1043.09" r="5.2" fill="white" stroke="#e3262b" stroke-width="2.6"/>
<circle cx="164.51" cy="1043.99" r="5.2" fill="white" stroke="#e3262b" stroke-width="2.6"/>
<circle cx="166.40" cy="1045.20" r="5.2" fill="white" stroke="#e3262b" stroke-width="2.6"/>
<circle cx="168.30" cy="1046.15" r="5.2" fill="white" stroke="#e3262b" stroke-width="2.6"/>
<circle cx="170.19" cy="1047.24" r="5.2" fill="white" stroke="#e3262b" stroke-width="2.6"/>
<circle cx="172.08" cy="1048.06" r="5.2" fill="white" stroke="#e3262b" stroke-width="2.6"/>
<circle cx="173.98" cy="1048.93" r="5.2" fill="white" stroke="#e3262b" stroke-width="2.6"/>
<circle cx="175.87" cy="1049.44" r="5.2" fill="white" stroke="#e3262b" stroke-width="2.6"/>
<circle cx="177.77" cy="1050.68" r="5.2" fill="white" stroke="#e3262b" stroke-width="2.6"/>
<circle cx="179.66" cy="1051.25" r="5.2" fill="white" stroke="#e3262b" stroke-width="2.6"/>
<circle cx="181.55" cy="1052.10" r="5.2" fill="white" stroke="#e3262b" stroke-width="2.6"/>
<circle cx="183.45" cy="1053.19" r="5.2" fill="white" stroke="#e3262b" stroke-width="2.6"/>
<circle cx="185.34" cy="1053.98" r="5.2" fill="white" stroke="#e3262b" stroke-width="2.6"/>
<circle cx="187.24" cy="1054.36" r="5.2" fill="white" stroke="#e3262b" stroke-width="2.6"/>
<circle cx="189.13" cy="1055.19" r="5.2" fill="white" stroke="#e3262b" stroke-width="2.6"/>
<circle cx="191.02" cy="1056.81" r="5.2" fill="white" stroke="#e3262b" stroke-width="2.6"/>
<circle cx="192.92" cy="1057.51" r="5.2" fill="white" stroke="#e3262b" stroke-width="2.6"/>
<circle cx="194.81" cy="1058.45" r="5.2" fill="white" stroke="#e3262b" stroke-width="2.6"/>
<circle cx="196.71" cy="1059.08" r="5.2" fill="white" stroke="#e3262b" stroke-width="2.6"/>
<circle cx="198.60" cy="1059.18" r="5.2" fill="white" stroke="#e3262b" stroke-width="2.6"/>
<circle cx="200.49" cy="1060.11" r="5.2" fill="white" stroke="#e3262b" stroke-width="2.6"/>
<circle cx="202.39" cy="1060.60" r="5.2" fill="white" stroke="#e3262b" stroke-width="2.6"/>
<circle cx="204.28" cy="1061.10" r="5.2" fill="white" stroke="#e3262b" stroke-width="2.6"/>
<circle cx="206.18" cy="1062.45" r="5.2" fill="white" stroke="#e3262b" stroke-width="2.6"/>
<circle cx="208.07" cy="1063.04" r="5.2" fill="white" stroke="#e3262b" stroke-width="2.6"/>
<circle cx="209.96" cy="1063.63" r="5.2" fill="white" stroke="#e3262b" stroke-width="2.6"/>
<circle cx="211.86" cy="1063.99" r="5.2" fill="white" stroke="#e3262b" stroke-width="2.6"/>
<circle cx="213.75" cy="1065.01" r="5.2" fill="white" stroke="#e3262b" stroke-width="2.6"/>
<circle cx="215.65" cy="1065.46" r="5.2" fill="white" stroke="#e3262b" stroke-width="2.6"/>
<circle cx="217.54" cy="1065.97" r="5.2" fill="white" stroke="#e3262b" stroke-width="2.6"/>
<circle cx="219.43" cy="1066.64" r="5.2" fill="white" stroke="#e3262b" stroke-width="2.6"/>
<circle cx="221.33" cy="1067.54" r="5.2" fill="white" stroke="#e3262b" stroke-width="2.6"/>
<circle cx="223.22" cy="1068.59" r="5.2" fill="white" stroke="#e3262b" stroke-width="2.6"/>
<circle cx="225.12" cy="1069.50" r="5.2" fill="white" stroke="#e3262b" stroke-width="2.6"/>
<circle cx="227.01" cy="1069.35" r="5.2" fill="white" stroke="#e3262b" stroke-width="2.6"/>
<circle cx="228.90" cy="1070.12" r="5.2" fill="white" stroke="#e3262b" stroke-width="2.6"/>
<circle cx="230.80" cy="1071.12" r="5.2" fill="white" stroke="#e3262b" stroke-width="2.6"/>
<circle cx="232.69" cy="1071.55" r="5.2" fill="white" stroke="#e3262b" stroke-width="2.6"/>
<circle cx="234.59" cy="1072.11" r="5.2" fill="white" stroke="#e3262b" stroke-width="2.6"/>
<circle cx="236.48" cy="1073.05" r="5.2" fill="white" stroke="#e3262b" stroke-width="2.6"/>
<circle cx="238.37" cy="1073.02" r="5.2" fill="white" stroke="#e3262b" stroke-width="2.6"/>
<circle cx="240.27" cy="1073.91" r="5.2" fill="white" stroke="#e3262b" stroke-width="2.6"/>
<circle cx="242.16" cy="1074.33" r="5.2" fill="white" stroke="#e3262b" stroke-width="2.6"/>
<circle cx="244.06" cy="1074.47" r="5.2" fill="white" stroke="#e3262b" stroke-width="2.6"/>
<circle cx="245.95" cy="1075.19" r="5.2" fill="white" stroke="#e3262b" stroke-width="2.6"/>
<circle cx="247.84" cy="1075.45" r="5.2" fill="white" stroke="#e3262b" stroke-width="2.6"/>
<circle cx="249.74" cy="1075.94" r="5.2" fill="white" stroke="#e3262b" stroke-width="2.6"/>
<circle cx="251.63" cy="1076.52" r="5.2" fill="white" stroke="#e3262b" stroke-width="2.6"/>
<circle cx="253.53" cy="1076.98" r="5.2" fill="white" stroke="#e3262b" stroke-width="2.6"/>
<circle cx="255.42" cy="1076.88" r="5.2" fill="white" stroke="#e3262b" stroke-width="2.6"/>
<circle cx="257.31" cy="1077.96" r="5.2" fill="white" stroke="#e3262b" stroke-width="2.6"/>
<circle cx="259.21" cy="1077.87" r="5.2" fill="white" stroke="#e3262b" stroke-width="2.6"/>
<circle cx="261.10" cy="1079.09" r="5.2" fill="white" stroke="#e3262b" stroke-width="2.6"/>
<circle cx="263.00" cy="1079.02" r="5.2" fill="white" stroke="#e3262b" stroke-width="2.6"/>
<circle cx="264.89" cy="1079.64" r="5.2" fill="white" stroke="#e3262b" stroke-width="2.6"/>
<circle cx="266.78" cy="1080.35" r="5.2" fill="white" stroke="#e3262b" stroke-width="2.6"/>
<circle cx="268.68" cy="1081.39" r="5.2" fill="white" stroke="#e3262b" stroke-width="2.6"/>
<circle cx="270.57" cy="1080.51" r="5.2" fill="white" stroke="#e3262b" stroke-width="2.6"/>
<circle cx="272.47" cy="1081.80" r="5.2" fill="white" stroke="#e3262b" stroke-width="2.6"/>
<circle cx="274.36" cy="1082.18" r="5.2" fill="white" stroke="#e3262b" stroke-width="2.6"/>
<circle cx="276.25" cy="1082.28" r="5.2" fill="white" stroke="#e3262b" stroke-width="2.6"/>
<circle cx="278.15" cy="1082.74" r="5.2" fill="white" stroke="#e3262b" stroke-width="2.6"/>
<circle cx="280.04" cy="1083.11" r="5.2" fill="white" stroke="#e3262b" stroke-width="2.6"/>
<circle cx="281.94" cy="1083.72" r="5.2" fill="white" stroke="#e3262b" stroke-width="2.6"/>
<circle cx="283.83" cy="1084.54" r="5.2" fill="white" stroke="#e3262b" stroke-width="2.6"/>
<circle cx="285.72" cy="1084.25" r="5.2" fill="white" stroke="#e3262b" stroke-width="2.6"/>
<circle cx="287.62" cy="1085.24" r="5.2" fill="white" stroke="#e3262b" stroke-width="2.6"/>
<circle cx="289.51" cy="1085.33" r="5.2" fill="white" stroke="#e3262b" stroke-width="2.6"/>
<circle cx="291.41" cy="1085.60" r="5.2" fill="white" stroke="#e3262b" stroke-width="2.6"/>
<circle cx="293.30" cy="1085.80" r="5.2" fill="white" stroke="#e3262b" stroke-width="2.6"/>
<circle cx="295.19" cy="1086.61" r="5.2" fill="white" stroke="#e3262b" stroke-width="2.6"/>
<circle cx="297.09" cy="1087.02" r="5.2" fill="white" stroke="#e3262b" stroke-width="2.6"/>
<circle cx="298.98" cy="1087.39" r="5.2" fill="white" stroke="#e3262b" stroke-width="2.6"/>
<circle cx="300.88" cy="1088.27" r="5.2" fill="white" stroke="#e3262b" stroke-width="2.6"/>
<circle cx="302.77" cy="1088.32" r="5.2" fill="white" stroke="#e3262b" stroke-width="2.6"/>
<circle cx="304.66" cy="1088.64" r="5.2" fill="white" stroke="#e3262b" stroke-width="2.6"/>
<circle cx="306.56" cy="1088.93" r="5.2" fill="white" stroke="#e3262b" stroke-width="2.6"/>
<circle cx="308.45" cy="1088.77" r="5.2" fill="white" stroke="#e3262b" stroke-width="2.6"/>
<circle cx="310.35" cy="1089.17" r="5.2" fill="white" stroke="#e3262b" stroke-width="2.6"/>
<circle cx="312.24" cy="1088.83" r="5.2" fill="white" stroke="#e3262b" stroke-width="2.6"/>
<circle cx="314.13" cy="1089.11" r="5.2" fill="white" stroke="#e3262b" stroke-width="2.6"/>
<circle cx="316.03" cy="1090.40" r="5.2" fill="white" stroke="#e3262b" stroke-width="2.6"/>
<circle cx="317.92" cy="1090.03" r="5.2" fill="white" stroke="#e3262b" stroke-width="2.6"/>
<circle cx="319.82" cy="1090.62" r="5.2" fill="white" stroke="#e3262b" stroke-width="2.6"/>
<circle cx="321.71" cy="1090.39" r="5.2" fill="white" stroke="#e3262b" stroke-width="2.6"/>
<circle cx="323.60" cy="1090.72" r="5.2" fill="white" stroke="#e3262b" stroke-width="2.6"/>
<circle cx="325.50" cy="1090.69" r="5.2" fill="white" stroke="#e3262b" stroke-width="2.6"/>
<circle cx="327.39" cy="1091.08" r="5.2" fill="white" stroke="#e3262b" stroke-width="2.6"/>
<circle cx="329.29" cy="1091.15" r="5.2" fill="white" stroke="#e3262b" stroke-width="2.6"/>
<circle cx="331.18" cy="1091.69" r="5.2" fill="white" stroke="#e3262b" stroke-width="2.6"/>
<circle cx="333.07" cy="1092.58" r="5.2" fill="white" stroke="#e3262b" stroke-width="2.6"/>
<circle cx="334.97" cy="1092.37" r="5.2" fill="white" stroke="#e3262b" stroke-width="2.6"/>
<circle cx="336.86" cy="1092.48" r="5.2" fill="white" stroke="#e3262b" stroke-width="2.6"/>
<circle cx="338.76" cy="1092.59" r="5.2" fill="white" stroke="#e3262b" stroke-width="2.6"/>
<circle cx="340.65" cy="1092.97" r="5.2" fill="white" stroke="#e3262b" stroke-width="2.6"/>
<circle cx="342.54" cy="1092.38" r="5.2" fill="white" stroke="#e3262b" stroke-width="2.6"/>
<circle cx="344.44" cy="1093.16" r="5.2" fill="white" stroke="#e3262b" stroke-width="2.6"/>
<circle cx="346.33" cy="1092.93" r="5.2" fill="white" stroke="#e3262b" stroke-width="2.6"/>
<circle cx="348.23" cy="1093.66" r="5.2" fill="white" stroke="#e3262b" stroke-width="2.6"/>
<circle cx="350.12" cy="1093.27" r="5.2" fill="white" stroke="#e3262b" stroke-width="2.6"/>
<circle cx="352.01" cy="1094.38" r="5.2" fill="white" stroke="#e3262b" stroke-width="2.6"/>
<circle cx="353.91" cy="1094.04" r="5.2" fill="white" stroke="#e3262b" stroke-width="2.6"/>
<circle cx="355.80" cy="1094.86" r="5.2" fill="white" stroke="#e3262b" stroke-width="2.6"/>
<circle cx="357.70" cy="1094.54" r="5.2" fill="white" stroke="#e3262b" stroke-width="2.6"/>
<circle cx="359.59" cy="1094.41" r="5.2" fill="white" stroke="#e3262b" stroke-width="2.6"/>
<circle cx="361.48" cy="1095.65" r="5.2" fill="white" stroke="#e3262b" stroke-width="2.6"/>
<circle cx="363.38" cy="1095.67" r="5.2" fill="white" stroke="#e3262b" stroke-width="2.6"/>
<circle cx="365.27" cy="1095.57" r="5.2" fill="white" stroke="#e3262b" stroke-width="2.6"/>
<circle cx="367.17" cy="1095.95" r="5.2" fill="white" stroke="#e3262b" stroke-width="2.6"/>
<circle cx="369.06" cy="1096.56" r="5.2" fill="white" stroke="#e3262b" stroke-width="2.6"/>
<circle cx="370.95" cy="1096.03" r="5.2" fill="white" stroke="#e3262b" stroke-width="2.6"/>
<circle cx="372.85" cy="1096.62" r="5.2" fill="white" stroke="#e3262b" stroke-width="2.6"/>
<circle cx="374.74" cy="1096.48" r="5.2" fill="white" stroke="#e3262b" stroke-width="2.6"/>
<circle cx="376.64" cy="1097.03" r="5.2" fill="white" stroke="#e3262b" stroke-width="2.6"/>
<circle cx="378.53" cy="1097.74" r="5.2" fill="white" stroke="#e3262b" stroke-width="2.6"/>
<circle cx="380.42" cy="1097.69" r="5.2" fill="white" stroke="#e3262b" stroke-width="2.6"/>
<circle cx="382.32" cy="1097.28" r="5.2" fill="white" stroke="#e3262b" stroke-width="2.6"/>
<circle cx="384.21" cy="1098.30" r="5.2" fill="white" stroke="#e3262b" stroke-width="2.6"/>
<circle cx="386.11" cy="1098.18" r="5.2" fill="white" stroke="#e3262b" stroke-width="2.6"/>
<circle cx="388.00" cy="1098.02" r="5.2" fill="white" stroke="#e3262b" stroke-width="2.6"/>
<circle cx="389.89" cy="1098.06" r="5.2" fill="white" stroke="#e3262b" stroke-width="2.6"/>
<circle cx="391.79" cy="1098.28" r="5.2" fill="white" stroke="#e3262b" stroke-width="2.6"/>
<circle cx="393.68" cy="1099.16" r="5.2" fill="white" stroke="#e3262b" stroke-width="2.6"/>
<circle cx="395.58" cy="1098.22" r="5.2" fill="white" stroke="#e3262b" stroke-width="2.6"/>
<circle cx="397.47" cy="1099.08" r="5.2" fill="white" stroke="#e3262b" stroke-width="2.6"/>
<circle cx="399.36" cy="1099.19" r="5.2" fill="white" stroke="#e3262b" stroke-width="2.6"/>
<circle cx="401.26" cy="1099.36" r="5.2" fill="white" stroke="#e3262b" stroke-width="2.6"/>
<circle cx="403.15" cy="1099.60" r="5.2" fill="white" stroke="#e3262b" stroke-width="2.6"/>
<circle cx="405.05" cy="1099.99" r="5.2" fill="white" stroke="#e3262b" stroke-width="2.6"/>
<circle cx="406.94" cy="1099.96" r="5.2" fill="white" stroke="#e3262b" stroke-width="2.6"/>
<circle cx="408.83" cy="1099.60" r="5.2" fill="white" stroke="#e3262b" stroke-width="2.6"/>
<circle cx="410.73" cy="1100.59" r="5.2" fill="white" stroke="#e3262b" stroke-width="2.6"/>
<circle cx="412.62" cy="1101.08" r="5.2" fill="white" stroke="#e3262b" stroke-width="2.6"/>
<circle cx="414.52" cy="1100.32" r="5.2" fill="white" stroke="#e3262b" stroke-width="2.6"/>
<circle cx="416.41" cy="1100.53" r="5.2" fill="white" stroke="#e3262b" stroke-width="2.6"/>
<circle cx="418.30" cy="1100.57" r="5.2" fill="white" stroke="#e3262b" stroke-width="2.6"/>
<circle cx="420.20" cy="1100.42" r="5.2" fill="white" stroke="#e3262b" stroke-width="2.6"/>
<circle cx="422.09" cy="1101.33" r="5.2" fill="white" stroke="#e3262b" stroke-width="2.6"/>
<circle cx="423.99" cy="1101.21" r="5.2" fill="white" stroke="#e3262b" stroke-width="2.6"/>
<circle cx="425.88" cy="1101.27" r="5.2" fill="white" stroke="#e3262b" stroke-width="2.6"/>
<circle cx="427.77" cy="1101.20" r="5.2" fill="white" stroke="#e3262b" stroke-width="2.6"/>
<circle cx="429.67" cy="1101.42" r="5.2" fill="white" stroke="#e3262b" stroke-width="2.6"/>
<circle cx="431.56" cy="1102.15" r="5.2" fill="white" stroke="#e3262b" stroke-width="2.6"/>
<circle cx="433.46" cy="1102.47" r="5.2" fill="white" stroke="#e3262b" stroke-width="2.6"/>
<circle cx="435.35" cy="1102.29" r="5.2" fill="white" stroke="#e3262b" stroke-width="2.6"/>
<circle cx="437.24" cy="1102.86" r="5.2" fill="white" stroke="#e3262b" stroke-width="2.6"/>
<circle cx="439.14" cy="1102.17" r="5.2" fill="white" stroke="#e3262b" stroke-width="2.6"/>
<circle cx="441.03" cy="1102.79" r="5.2" fill="white" stroke="#e3262b" stroke-width="2.6"/>
<circle cx="442.93" cy="1102.98" r="5.2" fill="white" stroke="#e3262b" stroke-width="2.6"/>
<circle cx="444.82" cy="1103.38" r="5.2" fill="white" stroke="#e3262b" stroke-width="2.6"/>
<circle cx="446.71" cy="1102.86" r="5.2" fill="white" stroke="#e3262b" stroke-width="2.6"/>
<circle cx="448.61" cy="1103.48" r="5.2" fill="white" stroke="#e3262b" stroke-width="2.6"/>
<circle cx="450.50" cy="1103.93" r="5.2" fill="white" stroke="#e3262b" stroke-width="2.6"/>
<circle cx="452.40" cy="1103.84" r="5.2" fill="white" stroke="#e3262b" stroke-width="2.6"/>
<circle cx="454.29" cy="1104.29" r="5.2" fill="white" stroke="#e3262b" stroke-width="2.6"/>
<circle cx="456.18" cy="1104.32" r="5.2" fill="white" stroke="#e3262b" stroke-width="2.6"/>
<circle cx="458.08" cy="1104.33" r="5.2" fill="white" stroke="#e3262b" stroke-width="2.6"/>
<circle cx="459.97" cy="1105.05" r="5.2" fill="white" stroke="#e3262b" stroke-width="2.6"/>
<circle cx="461.87" cy="1105.04" r="5.2" fill="white" stroke="#e3262b" stroke-width="2.6"/>
<circle cx="463.76" cy="1105.29" r="5.2" fill="white" stroke="#e3262b" stroke-width="2.6"/>
<circle cx="465.65" cy="1105.31" r="5.2" fill="white" stroke="#e3262b" stroke-width="2.6"/>
<circle cx="467.55" cy="1105.71" r="5.2" fill="white" stroke="#e3262b" stroke-width="2.6"/>
<circle cx="469.44" cy="1106.11" r="5.2" fill="white" stroke="#e3262b" stroke-width="2.6"/>
<circle cx="471.34" cy="1106.54" r="5.2" fill="white" stroke="#e3262b" stroke-width="2.6"/>
<circle cx="473.23" cy="1106.48" r="5.2" fill="white" stroke="#e3262b" stroke-width="2.6"/>
<circle cx="475.12" cy="1107.12" r="5.2" fill="white" stroke="#e3262b" stroke-width="2.6"/>
<circle cx="477.02" cy="1106.82" r="5.2" fill="white" stroke="#e3262b" stroke-width="2.6"/>
<circle cx="478.91" cy="1107.24" r="5.2" fill="white" stroke="#e3262b" stroke-width="2.6"/>
<circle cx="480.81" cy="1107.31" r="5.2" fill="white" stroke="#e3262b" stroke-width="2.6"/>
<circle cx="482.70" cy="1107.87" r="5.2" fill="white" stroke="#e3262b" stroke-width="2.6"/>
<polyline points="120.95,915.77 122.84,920.48 124.73,923.67 126.63,927.40 128.52,930.68 130.42,933.37 132.31,937.42 134.20,941.39 136.10,944.47 137.99,946.96 139.89,949.63 141.78,951.54 143.67,954.34 145.57,957.28 147.46,959.79 149.36,961.96 151.25,964.48 153.14,966.38 155.04,968.25 156.93,969.62 158.83,971.14 160.72,972.46 162.61,973.49 164.51,975.54 166.40,976.70 168.30,978.43 170.19,980.60 172.08,982.79 173.98,983.79 175.87,985.47 177.77,987.38 179.66,988.45 181.55,989.78 183.45,991.88 185.34,994.16 187.24,994.99 189.13,996.25 191.02,997.19 192.92,997.59 194.81,998.24 196.71,999.64 198.60,1000.68 200.49,1002.59 202.39,1004.02 204.28,1005.21 206.18,1007.03 208.07,1008.17 209.96,1009.34 211.86,1010.50 213.75,1010.87 215.65,1011.48 217.54,1013.04 219.43,1013.05 221.33,1014.30 223.22,1016.15 225.12,1016.53 227.01,1017.04 228.90,1018.09 230.80,1018.24 232.69,1018.27 234.59,1018.77 236.48,1019.41 238.37,1020.57 240.27,1021.66 242.16,1023.56 244.06,1024.32 245.95,1025.85 247.84,1025.90 249.74,1025.57 251.63,1025.89 253.53,1027.03 255.42,1027.15 257.31,1027.78 259.21,1029.40 261.10,1029.67 263.00,1030.22 264.89,1030.75 266.78,1031.19 268.68,1031.84 270.57,1032.37 272.47,1032.69 274.36,1032.91 276.25,1034.57 278.15,1034.51 280.04,1035.09 281.94,1035.59 283.83,1036.59 285.72,1037.33 287.62,1038.58 289.51,1039.03 291.41,1039.94 293.30,1040.58 295.19,1039.89 297.09,1039.30 298.98,1040.10 300.88,1039.87 302.77,1041.07 304.66,1042.97 306.56,1043.95 308.45,1044.51 310.35,1045.49 312.24,1045.03 314.13,1044.62 316.03,1045.01 317.92,1045.17 319.82,1046.27 321.71,1046.70 323.60,1046.92 325.50,1046.81 327.39,1047.60 329.29,1047.34 331.18,1047.90 333.07,1048.34 334.97,1048.72 336.86,1048.48 338.76,1048.90 340.65,1048.92 342.54,1048.83 344.44,1050.06 346.33,1050.54 348.23,1050.03 350.12,1050.01 352.01,1050.55 353.91,1050.60 355.80,1050.80 357.70,1052.20 359.59,1052.40 361.48,1052.48 363.38,1052.47 365.27,1053.11 367.17,1053.02 369.06,1053.40 370.95,1053.65 372.85,1054.10 374.74,1053.65 376.64,1053.25 378.53,1053.91 380.42,1054.48 382.32,1054.92 384.21,1055.83 386.11,1056.19 388.00,1056.05 389.89,1056.03 391.79,1056.44 393.68,1056.70 395.58,1057.32 397.47,1057.97 399.36,1058.35 401.26,1058.46 403.15,1058.13 405.05,1057.73 406.94,1057.29 408.83,1057.04 410.73,1057.04 412.62,1057.10 414.52,1058.06 416.41,1058.45 418.30,1059.35 420.20,1059.71 422.09,1060.45 423.99,1060.20 425.88,1060.60 427.77,1060.53 429.67,1060.91 431.56,1060.76 433.46,1061.70 435.35,1061.40 437.24,1061.66 439.14,1061.30 441.03,1061.54 442.93,1061.80 444.82,1063.24 446.71,1063.58 448.61,1063.47 450.50,1064.57 452.40,1064.98 454.29,1065.21 456.18,1066.12 458.08,1067.31 459.97,1067.05 461.87,1066.80 463.76,1066.93 465.65,1065.75 467.55,1065.20 469.44,1064.94 471.34,1064.35 473.23,1063.59 475.12,1064.77 477.02,1064.87 478.91,1064.59 480.81,1065.72" fill="none" stroke="#1e1e1e" stroke-width="6.0" stroke-linejoin="round" stroke-linecap="round" stroke-linecap="butt"/>
<polyline points="132.31,1022.27 134.20,1023.55 136.10,1026.42 137.99,1027.24 139.89,1028.53 141.78,1030.25 143.67,1031.36 145.57,1033.30 147.46,1034.16 149.36,1035.38 151.25,1037.03 153.14,1038.11 155.04,1039.15 156.93,1040.47 158.83,1041.12 160.72,1042.57 162.61,1043.09 164.51,1043.99 166.40,1045.20 168.30,1046.15 170.19,1047.24 172.08,1048.06 173.98,1048.93 175.87,1049.44 177.77,1050.68 179.66,1051.25 181.55,1052.10 183.45,1053.19 185.34,1053.98 187.24,1054.36 189.13,1055.19 191.02,1056.81 192.92,1057.51 194.81,1058.45 196.71,1059.08 198.60,1059.18 200.49,1060.11 202.39,1060.60 204.28,1061.10 206.18,1062.45 208.07,1063.04 209.96,1063.63 211.86,1063.99 213.75,1065.01 215.65,1065.46 217.54,1065.97 219.43,1066.64 221.33,1067.54 223.22,1068.59 225.12,1069.50 227.01,1069.35 228.90,1070.12 230.80,1071.12 232.69,1071.55 234.59,1072.11 236.48,1073.05 238.37,1073.02 240.27,1073.91 242.16,1074.33 244.06,1074.47 245.95,1075.19 247.84,1075.45 249.74,1075.94 251.63,1076.52 253.53,1076.98 255.42,1076.88 257.31,1077.96 259.21,1077.87 261.10,1079.09 263.00,1079.02 264.89,1079.64 266.78,1080.35 268.68,1081.39 270.57,1080.51 272.47,1081.80 274.36,1082.18 276.25,1082.28 278.15,1082.74 280.04,1083.11 281.94,1083.72 283.83,1084.54 285.72,1084.25 287.62,1085.24 289.51,1085.33 291.41,1085.60 293.30,1085.80 295.19,1086.61 297.09,1087.02 298.98,1087.39 300.88,1088.27 302.77,1088.32 304.66,1088.64 306.56,1088.93 308.45,1088.77 310.35,1089.17 312.24,1088.83 314.13,1089.11 316.03,1090.40 317.92,1090.03 319.82,1090.62 321.71,1090.39 323.60,1090.72 325.50,1090.69 327.39,1091.08 329.29,1091.15 331.18,1091.69 333.07,1092.58 334.97,1092.37 336.86,1092.48 338.76,1092.59 340.65,1092.97 342.54,1092.38 344.44,1093.16 346.33,1092.93 348.23,1093.66 350.12,1093.27 352.01,1094.38 353.91,1094.04 355.80,1094.86 357.70,1094.54 359.59,1094.41 361.48,1095.65 363.38,1095.67 365.27,1095.57 367.17,1095.95 369.06,1096.56 370.95,1096.03 372.85,1096.62 374.74,1096.48 376.64,1097.03 378.53,1097.74 380.42,1097.69 382.32,1097.28 384.21,1098.30 386.11,1098.18 388.00,1098.02 389.89,1098.06 391.79,1098.28 393.68,1099.16 395.58,1098.22 397.47,1099.08 399.36,1099.19 401.26,1099.36 403.15,1099.60 405.05,1099.99 406.94,1099.96 408.83,1099.60 410.73,1100.59 412.62,1101.08 414.52,1100.32 416.41,1100.53 418.30,1100.57 420.20,1100.42 422.09,1101.33 423.99,1101.21 425.88,1101.27 427.77,1101.20 429.67,1101.42 431.56,1102.15 433.46,1102.47 435.35,1102.29 437.24,1102.86 439.14,1102.17 441.03,1102.79 442.93,1102.98 444.82,1103.38 446.71,1102.86 448.61,1103.48 450.50,1103.93 452.40,1103.84 454.29,1104.29 456.18,1104.32 458.08,1104.33 459.97,1105.05 461.87,1105.04 463.76,1105.29 465.65,1105.31 467.55,1105.71 469.44,1106.11 471.34,1106.54 473.23,1106.48 475.12,1107.12 477.02,1106.82 478.91,1107.24 480.81,1107.31" fill="none" stroke="#e3262b" stroke-width="6.0" stroke-linejoin="round" stroke-linecap="round" stroke-linecap="butt"/>
<rect x="477.90" y="1061.92" width="9.6" height="9.6" fill="white" stroke="#232323" stroke-width="2.6"/>
<circle cx="482.70" cy="1107.87" r="5.2" fill="white" stroke="#e3262b" stroke-width="2.6"/>
<defs>
<radialGradient id="gS" cx="0.4" cy="0.35" r="0.7"><stop offset="0" stop-color="#f6f25a"/><stop offset="0.6" stop-color="#e6e01c"/><stop offset="1" stop-color="#c8c010"/></radialGradient>
<radialGradient id="gLi" cx="0.4" cy="0.35" r="0.7"><stop offset="0" stop-color="#f4f4f4"/><stop offset="0.7" stop-color="#cfcfcf"/><stop offset="1" stop-color="#a8a8a8"/></radialGradient>
<marker id="arr" viewBox="0 0 10 10" refX="9" refY="5" markerWidth="6.5" markerHeight="4.2" orient="auto" markerUnits="strokeWidth"><path d="M0,0 L10,5 L0,10 z" fill="#e3262b"/></marker>
<marker id="arr2" viewBox="0 0 10 10" refX="9" refY="5" markerWidth="7" markerHeight="5" orient="auto" markerUnits="strokeWidth"><path d="M0,0 L10,5 L0,10 z" fill="#e3262b"/></marker>
</defs>
<line x1="583.60" y1="1179.50" x2="591.10" y2="1179.50" stroke="#232323" stroke-width="2.2" />
<line x1="583.60" y1="1146.60" x2="588.60" y2="1146.60" stroke="#232323" stroke-width="2.2" />
<line x1="583.60" y1="1113.70" x2="591.10" y2="1113.70" stroke="#232323" stroke-width="2.2" />
<line x1="583.60" y1="1080.80" x2="588.60" y2="1080.80" stroke="#232323" stroke-width="2.2" />
<line x1="583.60" y1="1047.90" x2="591.10" y2="1047.90" stroke="#232323" stroke-width="2.2" />
<line x1="583.60" y1="1015.00" x2="588.60" y2="1015.00" stroke="#232323" stroke-width="2.2" />
<line x1="583.60" y1="982.10" x2="591.10" y2="982.10" stroke="#232323" stroke-width="2.2" />
<line x1="583.60" y1="949.20" x2="588.60" y2="949.20" stroke="#232323" stroke-width="2.2" />
<line x1="583.60" y1="916.30" x2="591.10" y2="916.30" stroke="#232323" stroke-width="2.2" />
<line x1="583.60" y1="883.40" x2="588.60" y2="883.40" stroke="#232323" stroke-width="2.2" />
<line x1="597.00" y1="1213.00" x2="597.00" y2="1206.50" stroke="#232323" stroke-width="2.2" />
<line x1="632.05" y1="1213.00" x2="632.05" y2="1209.00" stroke="#232323" stroke-width="2.2" />
<line x1="667.10" y1="1213.00" x2="667.10" y2="1206.50" stroke="#232323" stroke-width="2.2" />
<line x1="702.15" y1="1213.00" x2="702.15" y2="1209.00" stroke="#232323" stroke-width="2.2" />
<line x1="737.20" y1="1213.00" x2="737.20" y2="1206.50" stroke="#232323" stroke-width="2.2" />
<line x1="772.25" y1="1213.00" x2="772.25" y2="1209.00" stroke="#232323" stroke-width="2.2" />
<line x1="807.30" y1="1213.00" x2="807.30" y2="1206.50" stroke="#232323" stroke-width="2.2" />
<line x1="842.35" y1="1213.00" x2="842.35" y2="1209.00" stroke="#232323" stroke-width="2.2" />
<line x1="877.40" y1="1213.00" x2="877.40" y2="1206.50" stroke="#232323" stroke-width="2.2" />
<line x1="912.45" y1="1213.00" x2="912.45" y2="1209.00" stroke="#232323" stroke-width="2.2" />
<line x1="947.50" y1="1213.00" x2="947.50" y2="1206.50" stroke="#232323" stroke-width="2.2" />
<line x1="982.55" y1="1213.00" x2="982.55" y2="1209.00" stroke="#232323" stroke-width="2.2" />
<rect x="583.6" y="883.1" width="411.4" height="329.9" fill="none" stroke="#232323" stroke-width="2.9" stroke-linejoin="round"/>
<text transform="translate(546.95,1186.50) scale(1.0500,1)" font-size="20.00" font-family='"Liberation Sans", sans-serif' font-weight="bold" fill="#232323">1.0</text>
<text transform="translate(546.22,1120.70) scale(1.0500,1)" font-size="20.29" font-family='"Liberation Sans", sans-serif' font-weight="bold" fill="#232323">1.5</text>
<text transform="translate(546.95,1054.90) scale(1.0500,1)" font-size="20.00" font-family='"Liberation Sans", sans-serif' font-weight="bold" fill="#232323">2.0</text>
<text transform="translate(546.63,989.10) scale(1.0500,1)" font-size="20.00" font-family='"Liberation Sans", sans-serif' font-weight="bold" fill="#232323">2.5</text>
<text transform="translate(546.95,923.30) scale(1.0500,1)" font-size="20.00" font-family='"Liberation Sans", sans-serif' font-weight="bold" fill="#232323">3.0</text>
<text transform="translate(591.09,1236.40) scale(1.0500,1)" font-size="20.29" font-family='"Liberation Sans", sans-serif' font-weight="bold" fill="#232323">0</text>
<text transform="translate(649.42,1236.40) scale(1.0500,1)" font-size="20.29" font-family='"Liberation Sans", sans-serif' font-weight="bold" fill="#232323">250</text>
<text transform="translate(719.57,1236.40) scale(1.0500,1)" font-size="20.29" font-family='"Liberation Sans", sans-serif' font-weight="bold" fill="#232323">500</text>
<text transform="translate(789.51,1236.40) scale(1.0500,1)" font-size="20.29" font-family='"Liberation Sans", sans-serif' font-weight="bold" fill="#232323">750</text>
<text transform="translate(853.44,1236.40) scale(1.0500,1)" font-size="20.29" font-family='"Liberation Sans", sans-serif' font-weight="bold" fill="#232323">1000</text>
<text transform="translate(923.54,1236.40) scale(1.0500,1)" font-size="20.29" font-family='"Liberation Sans", sans-serif' font-weight="bold" fill="#232323">1250</text>
<text transform="translate(630.84,1269.20) scale(0.9952,1)" font-size="25.38" font-family='"Liberation Sans", sans-serif' font-weight="bold" fill="#232323">Specific capacity / mAh g</text>
<text transform="translate(935.34,1254.00) scale(0.8545,1)" font-size="13.33" font-family='"Liberation Sans", sans-serif' font-weight="bold" fill="#232323">-1</text>
<text transform="translate(535.40,1160.86) rotate(-90) scale(1.0030,1)" font-size="25.52" font-family='"Liberation Sans", sans-serif' font-weight="bold" fill="#232323">Voltage / V vs. Li/Li</text>
<text transform="translate(519.80,936.21) rotate(-90) scale(1.1210,1)" font-size="15.90" font-family='"Liberation Sans", sans-serif' font-weight="bold" fill="#232323">+</text>
<text transform="translate(530.94,888.80) scale(1.1267,1)" font-size="50.76" font-family='"Liberation Sans", sans-serif' font-weight="bold" fill="#232323">f</text>
<path d="M596.2,915.1 C596.4,918.6 596.9,929.9 597.6,936.0 C598.3,942.1 599.1,947.6 600.2,952.0 C601.4,956.4 602.5,959.2 604.5,962.5 C606.5,965.8 608.8,968.9 612.2,971.5 C615.6,974.1 620.3,976.2 625.0,978.2 C629.7,980.2 632.8,981.5 640.3,983.2 C647.8,984.9 660.0,986.8 670.0,988.2 C680.0,989.6 686.7,990.2 700.0,991.5 C713.3,992.8 731.7,994.2 750.0,996.0 C768.3,997.8 790.0,1000.5 810.0,1002.2 C830.0,1003.9 850.9,1005.3 870.0,1006.2 C889.1,1007.1 913.3,1007.8 924.4,1007.4 C935.5,1007.0 932.0,1005.6 936.5,1004.0 C941.0,1002.4 947.8,999.6 951.5,997.8 C955.2,996.0 956.8,995.0 958.5,993.0 C960.2,991.0 960.8,988.3 962.0,986.0 C963.2,983.7 964.9,978.9 966.0,979.2 C967.1,979.5 968.3,982.9 968.8,988.0 C969.3,993.1 969.1,1006.3 969.2,1010.0 " fill="none" stroke="#1e1e1e" stroke-width="3.0" stroke-linejoin="round"/>
<line x1="969.20" y1="1008.00" x2="969.20" y2="1181.00" stroke="#1e1e1e" stroke-width="3.0" />
<path d="M659.3,998.3 C659.3,999.8 658.9,1005.5 659.5,1007.2 C660.1,1008.9 660.2,1008.0 663.0,1008.6 C665.8,1009.2 669.8,1009.7 676.0,1010.8 C682.2,1011.9 694.0,1014.1 700.0,1015.3 C706.0,1016.5 708.6,1016.9 712.1,1018.2 C715.6,1019.6 717.0,1020.9 721.2,1023.4 C725.4,1025.9 732.9,1030.5 737.4,1033.4 C741.9,1036.3 743.4,1039.6 748.2,1041.0 C753.0,1042.4 756.0,1041.5 766.3,1041.8 C776.6,1042.1 798.0,1042.5 810.0,1043.0 C822.0,1043.5 828.0,1043.5 838.0,1044.6 C848.0,1045.7 861.3,1047.8 870.0,1049.5 C878.7,1051.2 884.2,1052.8 890.0,1055.0 C895.8,1057.2 900.3,1059.3 905.0,1062.4 C909.7,1065.5 914.5,1069.2 918.0,1073.5 C921.5,1077.8 923.6,1082.9 926.0,1088.0 C928.4,1093.1 929.4,1097.2 932.5,1104.0 C935.6,1110.8 940.5,1120.7 944.8,1129.0 C949.0,1137.3 954.5,1146.7 958.0,1153.8 C961.5,1160.9 964.1,1167.1 966.0,1171.5 C967.9,1175.9 968.7,1178.6 969.2,1180.0 " fill="none" stroke="#1e1e1e" stroke-width="3.0" stroke-linejoin="round"/>
<ellipse cx="960.5" cy="1003.2" rx="25.5" ry="39.8" fill="none" stroke="#e3262b" stroke-width="2.0"/>
<text transform="translate(767.91,944.60) scale(1.0629,1)" font-size="20.97" font-family='"Liberation Sans", sans-serif' font-weight="bold" fill="#e3262b">Charge</text>
<line x1="850.80" y1="955.10" x2="745.00" y2="955.10" stroke="#e3262b" stroke-width="3.0" />
<path d="M735,955.1 L755,950.0 L752,955.1 L755,960.2 Z" fill="#e3262b"/>
<text transform="translate(667.44,1157.60) scale(1.0658,1)" font-size="21.10" font-family='"Liberation Sans", sans-serif' font-weight="bold" fill="#2a2a2a">Discharge</text>
<line x1="645.10" y1="1169.30" x2="779.00" y2="1169.30" stroke="#e3262b" stroke-width="3.0" />
<path d="M789.5,1169.3 L770,1164.2 L773,1169.3 L770,1174.4 Z" fill="#e3262b"/>
<text transform="translate(825.26,1157.60) scale(1.0313,1)" font-size="21.52" font-family='"Liberation Sans", sans-serif' font-weight="bold" fill="#e3262b">Insoluble</text>
<path d="M876,1156 C872,1145 878,1135 884,1127" fill="none" stroke="#e3262b" stroke-width="1.3"/>
<path d="M884.5,1125.5 L879.5,1132 L885.5,1131 Z" fill="#e3262b" stroke="#e3262b" stroke-width="1"/>
<path d="M876,1157 L902,1184" fill="none" stroke="#e3262b" stroke-width="1.3"/>
<path d="M904,1186 L896.5,1182.5 L901,1178.5 Z" fill="#e3262b" stroke="#e3262b" stroke-width="1"/>
<rect x="864.7" y="1094.4" width="56.8" height="29.3" fill="white" stroke="#4a4f9e" stroke-width="1.8"/>
<rect x="914.2" y="1178.6" width="53.8" height="25.7" fill="white" stroke="#4a4f9e" stroke-width="1.8"/>
<g transform="translate(868.01,1116.90) scale(1.0356,1)">
<text x="0.00" y="0" font-size="22.17" font-family='"Liberation Sans", sans-serif' font-weight="bold" fill="#232323">Li</text>
<text x="19.71" y="0" font-size="12.86" font-family='"Liberation Sans", sans-serif' font-weight="bold" fill="#232323">2</text>
<text x="26.86" y="0" font-size="22.17" font-family='"Liberation Sans", sans-serif' font-weight="bold" fill="#232323">S</text>
<text x="41.65" y="0" font-size="12.86" font-family='"Liberation Sans", sans-serif' font-weight="bold" fill="#232323">2</text>
</g>
<g transform="translate(919.51,1199.40) scale(1.0308,1)">
<text x="0.00" y="0" font-size="22.17" font-family='"Liberation Sans", sans-serif' font-weight="bold" fill="#232323">Li</text>
<text x="19.71" y="0" font-size="12.86" font-family='"Liberation Sans", sans-serif' font-weight="bold" fill="#232323">2</text>
<text x="26.86" y="0" font-size="22.17" font-family='"Liberation Sans", sans-serif' font-weight="bold" fill="#232323">S</text>
</g>
<g transform="translate(667.40,1074.90) scale(1.1514,1)">
<text x="0.00" y="0" font-size="20.00" font-family='"Liberation Sans", sans-serif' font-weight="bold" fill="#232323">Li</text>
<text x="17.77" y="0" font-size="11.60" font-family='"Liberation Sans", sans-serif' font-weight="bold" fill="#232323">2</text>
<text x="24.23" y="0" font-size="20.00" font-family='"Liberation Sans", sans-serif' font-weight="bold" fill="#232323">S</text>
<text x="37.57" y="0" font-size="11.60" font-family='"Liberation Sans", sans-serif' font-weight="bold" fill="#232323">6</text>
</g>
<g transform="translate(757.54,1090.20) scale(1.1209,1)">
<text x="0.00" y="0" font-size="20.00" font-family='"Liberation Sans", sans-serif' font-weight="bold" fill="#232323">Li</text>
<text x="17.77" y="0" font-size="11.60" font-family='"Liberation Sans", sans-serif' font-weight="bold" fill="#232323">2</text>
<text x="24.23" y="0" font-size="20.00" font-family='"Liberation Sans", sans-serif' font-weight="bold" fill="#232323">S</text>
<text x="37.57" y="0" font-size="11.60" font-family='"Liberation Sans", sans-serif' font-weight="bold" fill="#232323">4</text>
</g>
<line x1="612.00" y1="987.90" x2="627.30" y2="987.60" stroke="#3a3a2a" stroke-width="1.7" />
<line x1="627.30" y1="987.60" x2="637.80" y2="997.20" stroke="#3a3a2a" stroke-width="1.7" />
<line x1="637.80" y1="997.20" x2="637.50" y2="1011.10" stroke="#3a3a2a" stroke-width="1.7" />
<line x1="637.50" y1="1011.10" x2="627.60" y2="1021.00" stroke="#3a3a2a" stroke-width="1.7" />
<line x1="627.60" y1="1021.00" x2="612.00" y2="1021.30" stroke="#3a3a2a" stroke-width="1.7" />
<line x1="612.00" y1="1021.30" x2="601.40" y2="1011.70" stroke="#3a3a2a" stroke-width="1.7" />
<line x1="601.40" y1="1011.70" x2="601.40" y2="997.20" stroke="#3a3a2a" stroke-width="1.7" />
<line x1="601.40" y1="997.20" x2="612.00" y2="987.90" stroke="#3a3a2a" stroke-width="1.7" />
<circle cx="612.0" cy="987.9" r="4.6" fill="url(#gS)"/>
<circle cx="627.3" cy="987.6" r="4.6" fill="url(#gS)"/>
<circle cx="637.8" cy="997.2" r="4.6" fill="url(#gS)"/>
<circle cx="637.5" cy="1011.1" r="4.6" fill="url(#gS)"/>
<circle cx="627.6" cy="1021.0" r="4.6" fill="url(#gS)"/>
<circle cx="612.0" cy="1021.3" r="4.6" fill="url(#gS)"/>
<circle cx="601.4" cy="1011.7" r="4.6" fill="url(#gS)"/>
<circle cx="601.4" cy="997.2" r="4.6" fill="url(#gS)"/>
<g transform="translate(608.54,1012.80) scale(1.0441,1)">
<text x="0.00" y="0" font-size="21.16" font-family='"Liberation Sans", sans-serif' font-weight="bold" fill="#232323">S</text>
<text x="14.11" y="0" font-size="12.27" font-family='"Liberation Sans", sans-serif' font-weight="bold" fill="#232323">8</text>
</g>
<line x1="653.50" y1="1037.00" x2="661.60" y2="1044.20" stroke="#3a3a2a" stroke-width="1.6" />
<line x1="661.60" y1="1044.20" x2="675.20" y2="1035.20" stroke="#3a3a2a" stroke-width="1.6" />
<line x1="675.20" y1="1035.20" x2="686.50" y2="1044.20" stroke="#3a3a2a" stroke-width="1.6" />
<line x1="686.50" y1="1044.20" x2="698.60" y2="1037.90" stroke="#3a3a2a" stroke-width="1.6" />
<line x1="698.60" y1="1037.90" x2="709.40" y2="1047.80" stroke="#3a3a2a" stroke-width="1.6" />
<line x1="709.40" y1="1047.80" x2="722.10" y2="1040.00" stroke="#3a3a2a" stroke-width="1.6" />
<line x1="722.10" y1="1040.00" x2="731.10" y2="1046.00" stroke="#3a3a2a" stroke-width="1.6" />
<circle cx="653.5" cy="1037.0" r="2.6" fill="url(#gLi)"/>
<circle cx="731.1" cy="1046.0" r="2.6" fill="url(#gLi)"/>
<circle cx="661.6" cy="1044.2" r="4.9" fill="url(#gS)"/>
<circle cx="675.2" cy="1035.2" r="4.9" fill="url(#gS)"/>
<circle cx="686.5" cy="1044.2" r="4.9" fill="url(#gS)"/>
<circle cx="698.6" cy="1037.9" r="4.9" fill="url(#gS)"/>
<circle cx="709.4" cy="1047.8" r="4.9" fill="url(#gS)"/>
<circle cx="722.1" cy="1040.0" r="4.9" fill="url(#gS)"/>
<line x1="751.80" y1="1051.40" x2="760.00" y2="1059.50" stroke="#3a3a2a" stroke-width="1.6" />
<line x1="760.00" y1="1059.50" x2="773.10" y2="1052.30" stroke="#3a3a2a" stroke-width="1.6" />
<line x1="773.10" y1="1052.30" x2="784.30" y2="1064.60" stroke="#3a3a2a" stroke-width="1.6" />
<line x1="784.30" y1="1064.60" x2="797.30" y2="1054.10" stroke="#3a3a2a" stroke-width="1.6" />
<line x1="797.30" y1="1054.10" x2="806.80" y2="1062.20" stroke="#3a3a2a" stroke-width="1.6" />
<circle cx="751.8" cy="1051.4" r="2.6" fill="url(#gLi)"/>
<circle cx="806.8" cy="1062.2" r="2.6" fill="url(#gLi)"/>
<circle cx="760.0" cy="1059.5" r="5.2" fill="url(#gS)"/>
<circle cx="773.1" cy="1052.3" r="5.2" fill="url(#gS)"/>
<circle cx="784.3" cy="1064.6" r="5.2" fill="url(#gS)"/>
<circle cx="797.3" cy="1054.1" r="5.2" fill="url(#gS)"/>
<line x1="873.30" y1="1075.70" x2="885.30" y2="1085.20" stroke="#3a3a2a" stroke-width="1.6" />
<line x1="885.30" y1="1085.20" x2="901.00" y2="1073.80" stroke="#3a3a2a" stroke-width="1.6" />
<line x1="901.00" y1="1073.80" x2="912.40" y2="1083.30" stroke="#3a3a2a" stroke-width="1.6" />
<circle cx="873.3" cy="1075.7" r="3.6" fill="url(#gLi)"/>
<circle cx="912.4" cy="1083.3" r="3.6" fill="url(#gLi)"/>
<circle cx="885.3" cy="1085.2" r="6.0" fill="url(#gS)"/>
<circle cx="901.0" cy="1073.8" r="6.0" fill="url(#gS)"/>
<line x1="926.00" y1="1169.60" x2="937.60" y2="1158.00" stroke="#3a3a2a" stroke-width="1.6" />
<line x1="937.60" y1="1158.00" x2="949.60" y2="1170.00" stroke="#3a3a2a" stroke-width="1.6" />
<circle cx="926.0" cy="1169.6" r="4.8" fill="url(#gLi)"/>
<circle cx="949.6" cy="1170.0" r="4.8" fill="url(#gLi)"/>
<circle cx="937.6" cy="1158.0" r="7.8" fill="url(#gS)"/>
</svg></body></html>
